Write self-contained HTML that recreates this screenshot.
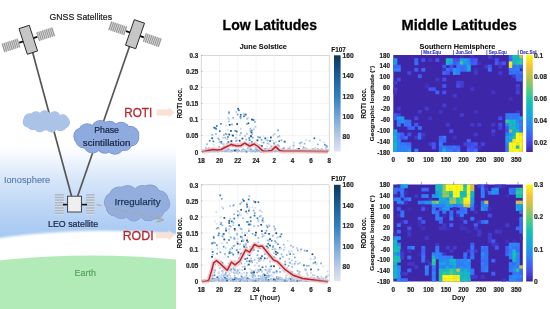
<!DOCTYPE html><html><head><meta charset="utf-8"><title>ROTI RODI</title><style>html,body{margin:0;padding:0;background:#fff;}#w{position:relative;width:550px;height:309px;overflow:hidden;background:#fff}</style></head><body><div id="w"><svg width="550" height="309" viewBox="0 0 550 309" style="position:absolute;left:0;top:0"><defs><style>.tk{font-family:"Liberation Sans",Arial,sans-serif;font-weight:bold;font-size:6.3px;fill:#262626;stroke:#262626;stroke-width:0.2px}.cb{font-size:6.7px}.yl{font-family:"Liberation Sans",Arial,sans-serif;font-weight:bold;font-size:6.5px;fill:#111;stroke:#111;stroke-width:0.1px}</style><linearGradient id="sky" gradientUnits="userSpaceOnUse" x1="0" y1="146" x2="0" y2="245"><stop offset="0" stop-color="#ffffff"/><stop offset="0.095" stop-color="#f5f9fe"/><stop offset="0.238" stop-color="#e3edfb"/><stop offset="0.381" stop-color="#d3e4f9"/><stop offset="0.571" stop-color="#c1d9f6"/><stop offset="0.762" stop-color="#b1cff4"/><stop offset="0.905" stop-color="#a8c9f2"/><stop offset="1" stop-color="#a5c7f1"/></linearGradient><filter id="bl2" x="-20%" y="-20%" width="140%" height="140%"><feGaussianBlur stdDeviation="2.5"/></filter><filter id="bl1" x="-10%" y="-10%" width="120%" height="120%"><feGaussianBlur stdDeviation="0.9"/></filter><clipPath id="lp"><rect x="0" y="0" width="176" height="309"/></clipPath></defs><g clip-path="url(#lp)"><rect x="0" y="140" width="176" height="110" fill="url(#sky)"/><circle cx="105" cy="1017.7" r="787" fill="#ffffff" filter="url(#bl1)"/><circle cx="92" cy="1105.5" r="850" fill="#b2eab8"/></g><line x1="32" y1="50" x2="71.5" y2="196" stroke="#575757" stroke-width="1.7"/><line x1="130" y1="45" x2="77.7" y2="196" stroke="#575757" stroke-width="1.7"/><g transform="translate(28.3,39.8) rotate(-18)"><rect x="-11" y="-0.9" width="22" height="1.8" fill="#111"/><rect x="-27" y="-4.5" width="17.5" height="9" fill="#e2e2e2"/><rect x="-26.61" y="-4.5" width="1.17" height="9" fill="#979797"/><rect x="-24.67" y="-4.5" width="1.17" height="9" fill="#979797"/><rect x="-22.72" y="-4.5" width="1.17" height="9" fill="#979797"/><rect x="-20.78" y="-4.5" width="1.17" height="9" fill="#979797"/><rect x="-18.83" y="-4.5" width="1.17" height="9" fill="#979797"/><rect x="-16.89" y="-4.5" width="1.17" height="9" fill="#979797"/><rect x="-14.94" y="-4.5" width="1.17" height="9" fill="#979797"/><rect x="-13.00" y="-4.5" width="1.17" height="9" fill="#979797"/><rect x="-11.06" y="-4.5" width="1.17" height="9" fill="#979797"/><rect x="9.5" y="-4.5" width="17.5" height="9" fill="#e2e2e2"/><rect x="9.89" y="-4.5" width="1.17" height="9" fill="#979797"/><rect x="11.83" y="-4.5" width="1.17" height="9" fill="#979797"/><rect x="13.78" y="-4.5" width="1.17" height="9" fill="#979797"/><rect x="15.72" y="-4.5" width="1.17" height="9" fill="#979797"/><rect x="17.67" y="-4.5" width="1.17" height="9" fill="#979797"/><rect x="19.61" y="-4.5" width="1.17" height="9" fill="#979797"/><rect x="21.56" y="-4.5" width="1.17" height="9" fill="#979797"/><rect x="23.50" y="-4.5" width="1.17" height="9" fill="#979797"/><rect x="25.44" y="-4.5" width="1.17" height="9" fill="#979797"/><rect x="-5.4" y="-13.5" width="10.8" height="27" fill="#c6c6c6" stroke="#2a2a2a" stroke-width="0.9"/></g><g transform="translate(135,34.2) rotate(19)"><rect x="-11" y="-0.9" width="22" height="1.8" fill="#111"/><rect x="-27" y="-4.5" width="17.5" height="9" fill="#e2e2e2"/><rect x="-26.61" y="-4.5" width="1.17" height="9" fill="#979797"/><rect x="-24.67" y="-4.5" width="1.17" height="9" fill="#979797"/><rect x="-22.72" y="-4.5" width="1.17" height="9" fill="#979797"/><rect x="-20.78" y="-4.5" width="1.17" height="9" fill="#979797"/><rect x="-18.83" y="-4.5" width="1.17" height="9" fill="#979797"/><rect x="-16.89" y="-4.5" width="1.17" height="9" fill="#979797"/><rect x="-14.94" y="-4.5" width="1.17" height="9" fill="#979797"/><rect x="-13.00" y="-4.5" width="1.17" height="9" fill="#979797"/><rect x="-11.06" y="-4.5" width="1.17" height="9" fill="#979797"/><rect x="9.5" y="-4.5" width="17.5" height="9" fill="#e2e2e2"/><rect x="9.89" y="-4.5" width="1.17" height="9" fill="#979797"/><rect x="11.83" y="-4.5" width="1.17" height="9" fill="#979797"/><rect x="13.78" y="-4.5" width="1.17" height="9" fill="#979797"/><rect x="15.72" y="-4.5" width="1.17" height="9" fill="#979797"/><rect x="17.67" y="-4.5" width="1.17" height="9" fill="#979797"/><rect x="19.61" y="-4.5" width="1.17" height="9" fill="#979797"/><rect x="21.56" y="-4.5" width="1.17" height="9" fill="#979797"/><rect x="23.50" y="-4.5" width="1.17" height="9" fill="#979797"/><rect x="25.44" y="-4.5" width="1.17" height="9" fill="#979797"/><rect x="-5.4" y="-13.5" width="10.8" height="27" fill="#c6c6c6" stroke="#2a2a2a" stroke-width="0.9"/></g><circle cx="63.6" cy="122.4" r="6.3" fill="#a5bde6"/><circle cx="60.4" cy="124.9" r="6.3" fill="#a5bde6"/><circle cx="51.7" cy="126.9" r="5.5" fill="#a5bde6"/><circle cx="39.7" cy="126.8" r="5.5" fill="#a5bde6"/><circle cx="32.5" cy="125.2" r="5.0" fill="#a5bde6"/><circle cx="28.4" cy="121.9" r="5.7" fill="#a5bde6"/><circle cx="29.7" cy="119.3" r="6.1" fill="#a5bde6"/><circle cx="35.9" cy="116.8" r="5.6" fill="#a5bde6"/><circle cx="44.7" cy="115.8" r="5.5" fill="#a5bde6"/><circle cx="54.7" cy="116.5" r="5.3" fill="#a5bde6"/><circle cx="62.7" cy="119.5" r="5.3" fill="#a5bde6"/><ellipse cx="46.1" cy="121.5" rx="18.0" ry="6.0" fill="#a5bde6"/><circle cx="63.6" cy="122.4" r="6.0" fill="#acc3e8"/><circle cx="60.4" cy="124.9" r="6.0" fill="#acc3e8"/><circle cx="51.7" cy="126.9" r="5.2" fill="#acc3e8"/><circle cx="39.7" cy="126.8" r="5.2" fill="#acc3e8"/><circle cx="32.5" cy="125.2" r="4.7" fill="#acc3e8"/><circle cx="28.4" cy="121.9" r="5.4" fill="#acc3e8"/><circle cx="29.7" cy="119.3" r="5.8" fill="#acc3e8"/><circle cx="35.9" cy="116.8" r="5.3" fill="#acc3e8"/><circle cx="44.7" cy="115.8" r="5.2" fill="#acc3e8"/><circle cx="54.7" cy="116.5" r="5.0" fill="#acc3e8"/><circle cx="62.7" cy="119.5" r="5.0" fill="#acc3e8"/><ellipse cx="46.1" cy="121.5" rx="20.9" ry="8.9" fill="#acc3e8"/><circle cx="130.8" cy="138.2" r="8.3" fill="#7391d0"/><circle cx="124.4" cy="143.2" r="7.9" fill="#7391d0"/><circle cx="114.9" cy="145.5" r="9.2" fill="#7391d0"/><circle cx="104.8" cy="146.0" r="7.8" fill="#7391d0"/><circle cx="92.5" cy="144.4" r="9.1" fill="#7391d0"/><circle cx="83.8" cy="140.4" r="8.0" fill="#7391d0"/><circle cx="82.5" cy="136.3" r="9.1" fill="#7391d0"/><circle cx="87.3" cy="132.2" r="9.0" fill="#7391d0"/><circle cx="100.3" cy="129.1" r="9.1" fill="#7391d0"/><circle cx="109.6" cy="128.9" r="8.1" fill="#7391d0"/><circle cx="121.1" cy="130.5" r="8.8" fill="#7391d0"/><circle cx="130.0" cy="135.0" r="9.3" fill="#7391d0"/><ellipse cx="106.6" cy="137.4" rx="25.0" ry="9.3" fill="#7391d0"/><circle cx="130.8" cy="138.2" r="7.6" fill="#8eaadf"/><circle cx="124.4" cy="143.2" r="7.2" fill="#8eaadf"/><circle cx="114.9" cy="145.5" r="8.5" fill="#8eaadf"/><circle cx="104.8" cy="146.0" r="7.1" fill="#8eaadf"/><circle cx="92.5" cy="144.4" r="8.4" fill="#8eaadf"/><circle cx="83.8" cy="140.4" r="7.3" fill="#8eaadf"/><circle cx="82.5" cy="136.3" r="8.4" fill="#8eaadf"/><circle cx="87.3" cy="132.2" r="8.3" fill="#8eaadf"/><circle cx="100.3" cy="129.1" r="8.4" fill="#8eaadf"/><circle cx="109.6" cy="128.9" r="7.4" fill="#8eaadf"/><circle cx="121.1" cy="130.5" r="8.1" fill="#8eaadf"/><circle cx="130.0" cy="135.0" r="8.6" fill="#8eaadf"/><ellipse cx="106.6" cy="137.4" rx="29.1" ry="13.3" fill="#8eaadf"/><circle cx="161.4" cy="203.8" r="8.9" fill="#7e9bd2"/><circle cx="155.0" cy="209.7" r="9.7" fill="#7e9bd2"/><circle cx="148.3" cy="211.8" r="9.3" fill="#7e9bd2"/><circle cx="133.9" cy="212.7" r="8.7" fill="#7e9bd2"/><circle cx="121.4" cy="210.4" r="8.6" fill="#7e9bd2"/><circle cx="115.3" cy="207.0" r="9.5" fill="#7e9bd2"/><circle cx="113.6" cy="202.0" r="9.7" fill="#7e9bd2"/><circle cx="119.5" cy="197.0" r="10.6" fill="#7e9bd2"/><circle cx="127.5" cy="194.7" r="9.8" fill="#7e9bd2"/><circle cx="142.1" cy="194.0" r="9.0" fill="#7e9bd2"/><circle cx="150.0" cy="195.2" r="10.6" fill="#7e9bd2"/><circle cx="159.3" cy="199.4" r="9.1" fill="#7e9bd2"/><ellipse cx="137.4" cy="203.3" rx="24.6" ry="10.1" fill="#7e9bd2"/><circle cx="161.4" cy="203.8" r="8.3" fill="#93aedd"/><circle cx="155.0" cy="209.7" r="9.1" fill="#93aedd"/><circle cx="148.3" cy="211.8" r="8.7" fill="#93aedd"/><circle cx="133.9" cy="212.7" r="8.1" fill="#93aedd"/><circle cx="121.4" cy="210.4" r="8.0" fill="#93aedd"/><circle cx="115.3" cy="207.0" r="8.9" fill="#93aedd"/><circle cx="113.6" cy="202.0" r="9.1" fill="#93aedd"/><circle cx="119.5" cy="197.0" r="10.0" fill="#93aedd"/><circle cx="127.5" cy="194.7" r="9.2" fill="#93aedd"/><circle cx="142.1" cy="194.0" r="8.4" fill="#93aedd"/><circle cx="150.0" cy="195.2" r="10.0" fill="#93aedd"/><circle cx="159.3" cy="199.4" r="8.5" fill="#93aedd"/><ellipse cx="137.4" cy="203.3" rx="29.2" ry="14.7" fill="#93aedd"/><rect x="54.9" y="193.7" width="9" height="21" fill="#d5dfec"/><rect x="54.9" y="194.09" width="9" height="1.44" fill="#aab6c4"/><rect x="54.9" y="196.72" width="9" height="1.44" fill="#aab6c4"/><rect x="54.9" y="199.34" width="9" height="1.44" fill="#aab6c4"/><rect x="54.9" y="201.97" width="9" height="1.44" fill="#aab6c4"/><rect x="54.9" y="204.59" width="9" height="1.44" fill="#aab6c4"/><rect x="54.9" y="207.22" width="9" height="1.44" fill="#aab6c4"/><rect x="54.9" y="209.84" width="9" height="1.44" fill="#aab6c4"/><rect x="54.9" y="212.47" width="9" height="1.44" fill="#aab6c4"/><rect x="86" y="193.7" width="8.6" height="21" fill="#d5dfec"/><rect x="86" y="194.09" width="8.6" height="1.44" fill="#aab6c4"/><rect x="86" y="196.72" width="8.6" height="1.44" fill="#aab6c4"/><rect x="86" y="199.34" width="8.6" height="1.44" fill="#aab6c4"/><rect x="86" y="201.97" width="8.6" height="1.44" fill="#aab6c4"/><rect x="86" y="204.59" width="8.6" height="1.44" fill="#aab6c4"/><rect x="86" y="207.22" width="8.6" height="1.44" fill="#aab6c4"/><rect x="86" y="209.84" width="8.6" height="1.44" fill="#aab6c4"/><rect x="86" y="212.47" width="8.6" height="1.44" fill="#aab6c4"/><rect x="63" y="203.8" width="24" height="1.6" fill="#111"/><rect x="67.6" y="196.2" width="13.8" height="15.8" fill="#efefef" stroke="#333" stroke-width="0.9"/><line x1="96.5" y1="204.6" x2="160" y2="219.3" stroke="#aaa69e" stroke-opacity="0.75" stroke-width="1.4" stroke-dasharray="5,4"/><path d="M157,216 L163,220 L156.5,221.8" fill="none" stroke="#a9a49c" stroke-width="1.4"/><path d="M156.5,109.5 L168.7,109.5 L168.7,107.3 L174.7,112.5 L168.7,117.7 L168.7,115.5 L156.5,115.5 Z" fill="#f8e2d3"/><path d="M155.8,232.3 L168.5,232.3 L168.5,230.10000000000002 L174.5,235.3 L168.5,240.5 L168.5,238.3 L155.8,238.3 Z" fill="#f8e2d3"/><text x="49.5" y="20" font-family="'Liberation Sans', Arial, sans-serif" font-size="8.5" fill="#222" stroke="#222" stroke-width="0.2" textLength="62.5" lengthAdjust="spacingAndGlyphs">GNSS Satellites</text><text x="124.2" y="116.8" font-family="'Liberation Sans', Arial, sans-serif" font-size="13.6" fill="#b8262d" stroke="#b8262d" stroke-width="0.3" textLength="28" lengthAdjust="spacingAndGlyphs">ROTI</text><text x="122.7" y="239.5" font-family="'Liberation Sans', Arial, sans-serif" font-size="13.3" fill="#b8262d" stroke="#b8262d" stroke-width="0.3" textLength="30.9" lengthAdjust="spacingAndGlyphs">RODI</text><text x="106.6" y="133.1" font-family="'Liberation Sans', Arial, sans-serif" font-size="9" fill="#16233f" stroke="#16233f" stroke-width="0.2" text-anchor="middle" textLength="24.8" lengthAdjust="spacingAndGlyphs">Phase</text><text x="106.6" y="145.6" font-family="'Liberation Sans', Arial, sans-serif" font-size="9" fill="#16233f" stroke="#16233f" stroke-width="0.2" text-anchor="middle" textLength="47.6" lengthAdjust="spacingAndGlyphs">scintillation</text><text x="137.6" y="204.5" font-family="'Liberation Sans', Arial, sans-serif" font-size="9.6" fill="#1d3557" stroke="#1d3557" stroke-width="0.25" text-anchor="middle" textLength="46" lengthAdjust="spacingAndGlyphs">Irregularity</text><text x="73.1" y="226.9" font-family="'Liberation Sans', Arial, sans-serif" font-size="9" fill="#1b2340" stroke="#1b2340" stroke-width="0.2" text-anchor="middle" textLength="50.2" lengthAdjust="spacingAndGlyphs">LEO satellite</text><text x="3.9" y="183" font-family="'Liberation Sans', Arial, sans-serif" font-size="9" fill="#5a7db5" stroke="#5a7db5" stroke-width="0.15" textLength="46.4" lengthAdjust="spacingAndGlyphs">Ionosphere</text><text x="85.2" y="275.5" font-family="'Liberation Sans', Arial, sans-serif" font-size="9.3" fill="#52a058" stroke="#52a058" stroke-width="0.15" text-anchor="middle" textLength="21.3" lengthAdjust="spacingAndGlyphs">Earth</text><text x="269.8" y="30.2" font-family="'Liberation Sans', Arial, sans-serif" font-size="15" font-weight="bold" fill="#000" stroke="#000" stroke-width="0.3" text-anchor="middle" textLength="94.4" lengthAdjust="spacingAndGlyphs">Low Latitudes</text><text x="459.2" y="30.3" font-family="'Liberation Sans', Arial, sans-serif" font-size="15" font-weight="bold" fill="#000" stroke="#000" stroke-width="0.3" text-anchor="middle" textLength="115.2" lengthAdjust="spacingAndGlyphs">Middle Latitudes</text><defs><linearGradient id="blues" x1="0" y1="1" x2="0" y2="0"><stop offset="0" stop-color="#dfe4f1"/><stop offset="0.15" stop-color="#b9cce9"/><stop offset="0.36" stop-color="#78a6d8"/><stop offset="0.57" stop-color="#3080c0"/><stop offset="0.79" stop-color="#1a5e96"/><stop offset="1" stop-color="#0c365e"/></linearGradient><linearGradient id="parula" x1="0" y1="1" x2="0" y2="0"><stop offset="0.0000" stop-color="#3e26a8"/><stop offset="0.1270" stop-color="#4751f4"/><stop offset="0.2540" stop-color="#2e82fa"/><stop offset="0.3810" stop-color="#19a6e2"/><stop offset="0.5079" stop-color="#15bfb7"/><stop offset="0.6349" stop-color="#52cd83"/><stop offset="0.7619" stop-color="#b5c350"/><stop offset="0.8889" stop-color="#fec138"/><stop offset="1.0000" stop-color="#f9fb14"/></linearGradient></defs><rect x="201.2" y="55.3" width="128.0" height="96.3" fill="#fff"/><line x1="201.2" y1="71.35" x2="329.2" y2="71.35" stroke="#ebebeb" stroke-width="0.5"/><line x1="201.2" y1="87.40" x2="329.2" y2="87.40" stroke="#ebebeb" stroke-width="0.5"/><line x1="201.2" y1="103.45" x2="329.2" y2="103.45" stroke="#ebebeb" stroke-width="0.5"/><line x1="201.2" y1="119.50" x2="329.2" y2="119.50" stroke="#ebebeb" stroke-width="0.5"/><line x1="201.2" y1="135.55" x2="329.2" y2="135.55" stroke="#ebebeb" stroke-width="0.5"/><line x1="219.49" y1="55.3" x2="219.49" y2="151.6" stroke="#ebebeb" stroke-width="0.5"/><line x1="237.77" y1="55.3" x2="237.77" y2="151.6" stroke="#ebebeb" stroke-width="0.5"/><line x1="256.06" y1="55.3" x2="256.06" y2="151.6" stroke="#ebebeb" stroke-width="0.5"/><line x1="274.34" y1="55.3" x2="274.34" y2="151.6" stroke="#ebebeb" stroke-width="0.5"/><line x1="292.63" y1="55.3" x2="292.63" y2="151.6" stroke="#ebebeb" stroke-width="0.5"/><line x1="310.91" y1="55.3" x2="310.91" y2="151.6" stroke="#ebebeb" stroke-width="0.5"/><rect x="281.2" y="150.4" width="1.7" height="1.7" fill="#84addb"/><rect x="231.8" y="150.2" width="1.7" height="1.7" fill="#77a6d8"/><rect x="204.7" y="149.0" width="1.7" height="1.7" fill="#81abda"/><rect x="261.8" y="150.1" width="1.7" height="1.7" fill="#c2d2eb"/><rect x="235.5" y="149.6" width="1.7" height="1.7" fill="#a7c1e4"/><rect x="272.3" y="149.0" width="1.7" height="1.7" fill="#82acdb"/><rect x="280.8" y="149.1" width="1.7" height="1.7" fill="#c8d6ec"/><rect x="223.8" y="149.1" width="1.7" height="1.7" fill="#dae1f0"/><rect x="208.4" y="150.5" width="1.7" height="1.7" fill="#acc4e5"/><rect x="317.2" y="150.7" width="1.7" height="1.7" fill="#a5c1e4"/><rect x="265.3" y="150.1" width="1.7" height="1.7" fill="#cbd7ed"/><rect x="289.4" y="149.4" width="1.7" height="1.7" fill="#b8cbe9"/><rect x="204.5" y="149.6" width="1.7" height="1.7" fill="#cfdaee"/><rect x="237.0" y="150.6" width="1.7" height="1.7" fill="#a6c1e4"/><rect x="308.6" y="150.7" width="1.7" height="1.7" fill="#88afdc"/><rect x="215.3" y="149.6" width="1.7" height="1.7" fill="#a6c1e4"/><rect x="311.6" y="148.2" width="1.7" height="1.7" fill="#9bbae1"/><rect x="211.3" y="150.7" width="1.7" height="1.7" fill="#bdcfea"/><rect x="222.5" y="149.9" width="1.7" height="1.7" fill="#b7cbe8"/><rect x="324.8" y="148.9" width="1.7" height="1.7" fill="#9abae1"/><rect x="282.8" y="150.2" width="1.7" height="1.7" fill="#cfdaee"/><rect x="258.4" y="150.0" width="1.7" height="1.7" fill="#b4c9e8"/><rect x="215.9" y="149.3" width="1.7" height="1.7" fill="#c8d6ec"/><rect x="286.9" y="149.9" width="1.7" height="1.7" fill="#77a6d8"/><rect x="285.7" y="150.6" width="1.7" height="1.7" fill="#7ba8d9"/><rect x="320.6" y="150.3" width="1.7" height="1.7" fill="#9ebce2"/><rect x="222.0" y="148.8" width="1.7" height="1.7" fill="#6fa1d5"/><rect x="272.2" y="150.3" width="1.7" height="1.7" fill="#76a5d7"/><rect x="283.2" y="149.3" width="1.7" height="1.7" fill="#b7cbe9"/><rect x="254.7" y="149.3" width="1.7" height="1.7" fill="#dbe1f0"/><rect x="312.2" y="149.9" width="1.7" height="1.7" fill="#a1bee3"/><rect x="243.8" y="150.7" width="1.7" height="1.7" fill="#dce2f0"/><rect x="249.9" y="150.3" width="1.7" height="1.7" fill="#d2dcee"/><rect x="323.4" y="150.4" width="1.7" height="1.7" fill="#b0c7e7"/><rect x="268.7" y="147.9" width="1.7" height="1.7" fill="#bbcde9"/><rect x="276.9" y="150.5" width="1.7" height="1.7" fill="#bacce9"/><rect x="268.1" y="150.5" width="1.7" height="1.7" fill="#72a3d6"/><rect x="222.7" y="149.4" width="1.7" height="1.7" fill="#dee4f1"/><rect x="296.9" y="149.4" width="1.7" height="1.7" fill="#d1dbee"/><rect x="255.7" y="149.5" width="1.7" height="1.7" fill="#dee3f1"/><rect x="281.6" y="150.0" width="1.7" height="1.7" fill="#a6c1e4"/><rect x="293.6" y="149.3" width="1.7" height="1.7" fill="#cad7ed"/><rect x="248.8" y="149.7" width="1.7" height="1.7" fill="#bbcde9"/><rect x="321.0" y="149.7" width="1.7" height="1.7" fill="#bbcde9"/><rect x="237.5" y="148.8" width="1.7" height="1.7" fill="#aec6e6"/><rect x="325.0" y="150.7" width="1.7" height="1.7" fill="#a5c0e4"/><rect x="314.7" y="149.5" width="1.7" height="1.7" fill="#9dbce2"/><rect x="256.7" y="150.7" width="1.7" height="1.7" fill="#b3c8e7"/><rect x="317.9" y="149.1" width="1.7" height="1.7" fill="#b0c7e7"/><rect x="268.1" y="149.5" width="1.7" height="1.7" fill="#c5d3eb"/><rect x="303.5" y="150.3" width="1.7" height="1.7" fill="#8bb1dd"/><rect x="281.7" y="148.9" width="1.7" height="1.7" fill="#bcceea"/><rect x="253.2" y="149.0" width="1.7" height="1.7" fill="#dae1f0"/><rect x="230.3" y="149.9" width="1.7" height="1.7" fill="#7ca8d9"/><rect x="217.9" y="149.8" width="1.7" height="1.7" fill="#aac3e5"/><rect x="277.4" y="150.5" width="1.7" height="1.7" fill="#bfd0ea"/><rect x="322.7" y="149.8" width="1.7" height="1.7" fill="#97b8e0"/><rect x="282.4" y="149.8" width="1.7" height="1.7" fill="#d8e0f0"/><rect x="254.8" y="150.6" width="1.7" height="1.7" fill="#7faada"/><rect x="294.1" y="149.0" width="1.7" height="1.7" fill="#72a3d6"/><rect x="303.0" y="150.7" width="1.7" height="1.7" fill="#a4c0e4"/><rect x="317.0" y="149.9" width="1.7" height="1.7" fill="#dce2f0"/><rect x="206.5" y="150.7" width="1.7" height="1.7" fill="#c5d3eb"/><rect x="227.2" y="150.3" width="1.7" height="1.7" fill="#dbe1f0"/><rect x="276.9" y="149.5" width="1.7" height="1.7" fill="#90b4de"/><rect x="206.6" y="150.1" width="1.7" height="1.7" fill="#6ea1d5"/><rect x="270.5" y="149.6" width="1.7" height="1.7" fill="#93b6df"/><rect x="279.4" y="149.1" width="1.7" height="1.7" fill="#9ebce2"/><rect x="208.9" y="149.6" width="1.7" height="1.7" fill="#6b9fd4"/><rect x="309.4" y="149.3" width="1.7" height="1.7" fill="#bbceea"/><rect x="243.3" y="149.4" width="1.7" height="1.7" fill="#97b8e0"/><rect x="302.4" y="148.6" width="1.7" height="1.7" fill="#79a6d8"/><rect x="302.4" y="150.7" width="1.7" height="1.7" fill="#85aedb"/><rect x="312.9" y="149.6" width="1.7" height="1.7" fill="#9ebce2"/><rect x="282.8" y="149.5" width="1.7" height="1.7" fill="#d5deef"/><rect x="285.6" y="150.7" width="1.7" height="1.7" fill="#7ea9d9"/><rect x="303.2" y="149.9" width="1.7" height="1.7" fill="#8bb1dd"/><rect x="311.1" y="150.5" width="1.7" height="1.7" fill="#ced9ed"/><rect x="207.3" y="150.3" width="1.7" height="1.7" fill="#c8d6ec"/><rect x="273.6" y="149.6" width="1.7" height="1.7" fill="#b7cbe8"/><rect x="235.2" y="148.9" width="1.7" height="1.7" fill="#93b6df"/><rect x="216.5" y="150.6" width="1.7" height="1.7" fill="#d1dbee"/><rect x="285.8" y="149.3" width="1.7" height="1.7" fill="#b7cbe8"/><rect x="249.9" y="149.9" width="1.7" height="1.7" fill="#c8d6ec"/><rect x="234.5" y="149.9" width="1.7" height="1.7" fill="#adc5e6"/><rect x="214.1" y="150.7" width="1.7" height="1.7" fill="#9dbce2"/><rect x="241.0" y="149.3" width="1.7" height="1.7" fill="#85aedc"/><rect x="220.2" y="150.7" width="1.7" height="1.7" fill="#d1dbee"/><rect x="214.0" y="150.0" width="1.7" height="1.7" fill="#c3d2eb"/><rect x="241.8" y="150.1" width="1.7" height="1.7" fill="#98b9e0"/><rect x="227.1" y="149.1" width="1.7" height="1.7" fill="#76a5d7"/><rect x="250.3" y="149.0" width="1.7" height="1.7" fill="#d5deef"/><rect x="293.8" y="150.2" width="1.7" height="1.7" fill="#7da9d9"/><rect x="287.2" y="147.4" width="1.7" height="1.7" fill="#d8e0f0"/><rect x="268.0" y="150.6" width="1.7" height="1.7" fill="#cbd7ed"/><rect x="236.9" y="150.5" width="1.7" height="1.7" fill="#87afdc"/><rect x="314.7" y="150.7" width="1.7" height="1.7" fill="#ccd8ed"/><rect x="302.7" y="150.2" width="1.7" height="1.7" fill="#8bb1dd"/><rect x="327.0" y="149.5" width="1.7" height="1.7" fill="#7ba8d9"/><rect x="299.9" y="150.6" width="1.7" height="1.7" fill="#95b7e0"/><rect x="226.8" y="150.5" width="1.7" height="1.7" fill="#86aedc"/><rect x="293.0" y="150.0" width="1.7" height="1.7" fill="#b7cbe8"/><rect x="255.8" y="149.9" width="1.7" height="1.7" fill="#7ba8d9"/><rect x="271.0" y="150.7" width="1.7" height="1.7" fill="#a1bee3"/><rect x="293.1" y="150.7" width="1.7" height="1.7" fill="#7da9d9"/><rect x="317.5" y="150.5" width="1.7" height="1.7" fill="#d1dbee"/><rect x="297.9" y="148.7" width="1.7" height="1.7" fill="#cfdaee"/><rect x="292.0" y="149.6" width="1.7" height="1.7" fill="#70a2d5"/><rect x="219.2" y="149.0" width="1.7" height="1.7" fill="#679dd2"/><rect x="218.4" y="150.0" width="1.7" height="1.7" fill="#9ebce2"/><rect x="259.1" y="150.7" width="1.7" height="1.7" fill="#cbd7ed"/><rect x="316.9" y="148.2" width="1.7" height="1.7" fill="#85addb"/><rect x="212.4" y="149.4" width="1.7" height="1.7" fill="#dce2f0"/><rect x="242.7" y="149.3" width="1.7" height="1.7" fill="#8bb1dd"/><rect x="260.2" y="149.4" width="1.7" height="1.7" fill="#669cd2"/><rect x="313.7" y="150.0" width="1.7" height="1.7" fill="#c5d4ec"/><rect x="252.7" y="150.0" width="1.7" height="1.7" fill="#d2dcee"/><rect x="208.1" y="150.7" width="1.7" height="1.7" fill="#d2dcee"/><rect x="225.8" y="149.5" width="1.7" height="1.7" fill="#a9c3e5"/><rect x="226.7" y="150.4" width="1.7" height="1.7" fill="#c3d2eb"/><rect x="269.0" y="150.4" width="1.7" height="1.7" fill="#a5c0e4"/><rect x="281.6" y="150.5" width="1.7" height="1.7" fill="#b5c9e8"/><rect x="301.6" y="148.3" width="1.7" height="1.7" fill="#ccd8ed"/><rect x="220.8" y="148.6" width="1.7" height="1.7" fill="#689ed3"/><rect x="320.2" y="148.9" width="1.7" height="1.7" fill="#699ed3"/><rect x="229.7" y="150.6" width="1.7" height="1.7" fill="#a8c2e4"/><rect x="316.9" y="149.9" width="1.7" height="1.7" fill="#becfea"/><rect x="278.1" y="150.5" width="1.7" height="1.7" fill="#c6d4ec"/><rect x="261.4" y="150.7" width="1.7" height="1.7" fill="#86aedc"/><rect x="306.3" y="150.6" width="1.7" height="1.7" fill="#8db2dd"/><rect x="308.9" y="149.4" width="1.7" height="1.7" fill="#89b0dc"/><rect x="241.2" y="150.1" width="1.7" height="1.7" fill="#86aedc"/><rect x="224.5" y="150.3" width="1.7" height="1.7" fill="#9bbae1"/><rect x="244.7" y="149.7" width="1.7" height="1.7" fill="#cfdaee"/><rect x="267.5" y="149.5" width="1.7" height="1.7" fill="#6a9fd3"/><rect x="275.0" y="150.5" width="1.7" height="1.7" fill="#c1d1eb"/><rect x="303.0" y="149.4" width="1.7" height="1.7" fill="#95b7e0"/><rect x="321.3" y="149.6" width="1.7" height="1.7" fill="#b2c8e7"/><rect x="289.4" y="148.3" width="1.7" height="1.7" fill="#bcceea"/><rect x="286.7" y="149.0" width="1.7" height="1.7" fill="#a1bee3"/><rect x="298.9" y="149.3" width="1.7" height="1.7" fill="#8ab0dd"/><rect x="205.9" y="148.7" width="1.7" height="1.7" fill="#abc4e5"/><rect x="254.5" y="148.6" width="1.7" height="1.7" fill="#a4c0e4"/><rect x="294.2" y="149.1" width="1.7" height="1.7" fill="#9fbde2"/><rect x="272.9" y="149.4" width="1.7" height="1.7" fill="#dbe1f0"/><rect x="259.9" y="150.7" width="1.7" height="1.7" fill="#a1bee3"/><rect x="213.2" y="150.4" width="1.7" height="1.7" fill="#c8d5ec"/><rect x="228.1" y="150.7" width="1.7" height="1.7" fill="#cad7ed"/><rect x="260.1" y="150.7" width="1.7" height="1.7" fill="#8db2dd"/><rect x="272.3" y="149.7" width="1.7" height="1.7" fill="#acc4e5"/><rect x="280.6" y="149.7" width="1.7" height="1.7" fill="#90b4de"/><rect x="283.2" y="149.8" width="1.7" height="1.7" fill="#a0bde2"/><rect x="252.9" y="150.0" width="1.7" height="1.7" fill="#b7cbe8"/><rect x="261.6" y="150.6" width="1.7" height="1.7" fill="#a7c1e4"/><rect x="245.7" y="149.6" width="1.7" height="1.7" fill="#b7cbe8"/><rect x="308.3" y="149.9" width="1.7" height="1.7" fill="#aec6e6"/><rect x="292.0" y="150.7" width="1.7" height="1.7" fill="#79a7d8"/><rect x="275.5" y="149.4" width="1.7" height="1.7" fill="#92b5df"/><rect x="287.7" y="150.3" width="1.7" height="1.7" fill="#b1c8e7"/><rect x="226.7" y="150.0" width="1.7" height="1.7" fill="#c0d1eb"/><rect x="257.2" y="149.5" width="1.7" height="1.7" fill="#aec6e6"/><rect x="249.9" y="148.4" width="1.7" height="1.7" fill="#6da0d4"/><rect x="313.7" y="150.7" width="1.7" height="1.7" fill="#c3d2eb"/><rect x="313.2" y="148.3" width="1.7" height="1.7" fill="#8fb4de"/><rect x="213.1" y="149.5" width="1.7" height="1.7" fill="#cad7ed"/><rect x="255.9" y="149.7" width="1.7" height="1.7" fill="#7da9d9"/><rect x="262.5" y="150.3" width="1.7" height="1.7" fill="#adc5e6"/><rect x="250.1" y="150.1" width="1.7" height="1.7" fill="#cad7ed"/><rect x="243.1" y="149.4" width="1.7" height="1.7" fill="#84addb"/><rect x="211.0" y="149.5" width="1.7" height="1.7" fill="#7eaada"/><rect x="259.0" y="150.2" width="1.7" height="1.7" fill="#90b4de"/><rect x="234.4" y="150.2" width="1.7" height="1.7" fill="#b7cbe8"/><rect x="282.7" y="150.6" width="1.7" height="1.7" fill="#aac3e5"/><rect x="268.8" y="150.7" width="1.7" height="1.7" fill="#cad7ed"/><rect x="322.8" y="150.6" width="1.7" height="1.7" fill="#bfd0ea"/><rect x="235.6" y="150.0" width="1.7" height="1.7" fill="#b1c7e7"/><rect x="299.3" y="149.4" width="1.7" height="1.7" fill="#cad7ed"/><rect x="220.9" y="150.4" width="1.7" height="1.7" fill="#85addb"/><rect x="264.2" y="149.5" width="1.7" height="1.7" fill="#93b6df"/><rect x="280.6" y="150.4" width="1.7" height="1.7" fill="#87afdc"/><rect x="246.4" y="150.7" width="1.7" height="1.7" fill="#afc6e6"/><rect x="264.4" y="150.4" width="1.7" height="1.7" fill="#afc6e6"/><rect x="283.0" y="150.6" width="1.7" height="1.7" fill="#d0dbee"/><rect x="225.4" y="150.3" width="1.7" height="1.7" fill="#6b9fd4"/><rect x="207.2" y="150.0" width="1.7" height="1.7" fill="#ced9ed"/><rect x="262.6" y="150.4" width="1.7" height="1.7" fill="#adc5e6"/><rect x="224.1" y="150.6" width="1.7" height="1.7" fill="#82acdb"/><rect x="226.7" y="148.6" width="1.7" height="1.7" fill="#b3c9e7"/><rect x="255.6" y="150.4" width="1.7" height="1.7" fill="#ced9ed"/><rect x="318.0" y="150.4" width="1.7" height="1.7" fill="#92b5df"/><rect x="210.1" y="150.5" width="1.7" height="1.7" fill="#9abae1"/><rect x="299.3" y="149.2" width="1.7" height="1.7" fill="#6ca0d4"/><rect x="313.4" y="148.7" width="1.7" height="1.7" fill="#becfea"/><rect x="208.0" y="147.5" width="1.7" height="1.7" fill="#71a2d6"/><rect x="326.2" y="149.1" width="1.7" height="1.7" fill="#92b5df"/><rect x="287.7" y="150.3" width="1.7" height="1.7" fill="#6ca0d4"/><rect x="279.0" y="148.7" width="1.7" height="1.7" fill="#a6c1e4"/><rect x="206.3" y="149.1" width="1.7" height="1.7" fill="#8eb3de"/><rect x="256.0" y="150.2" width="1.7" height="1.7" fill="#86aedc"/><rect x="245.6" y="149.8" width="1.7" height="1.7" fill="#d1dbee"/><rect x="226.8" y="150.0" width="1.7" height="1.7" fill="#aec6e6"/><rect x="318.5" y="150.4" width="1.7" height="1.7" fill="#74a4d7"/><rect x="288.0" y="148.6" width="1.7" height="1.7" fill="#b4c9e8"/><rect x="204.4" y="150.4" width="1.7" height="1.7" fill="#c5d4ec"/><rect x="221.6" y="150.0" width="1.7" height="1.7" fill="#8fb4de"/><rect x="230.2" y="150.3" width="1.7" height="1.7" fill="#6ea1d5"/><rect x="237.2" y="150.0" width="1.7" height="1.7" fill="#d1dbee"/><rect x="304.6" y="147.2" width="1.7" height="1.7" fill="#a5c0e4"/><rect x="208.4" y="149.9" width="1.7" height="1.7" fill="#7ba8d9"/><rect x="214.4" y="150.3" width="1.7" height="1.7" fill="#85aedb"/><rect x="279.1" y="150.1" width="1.7" height="1.7" fill="#97b8e0"/><rect x="260.1" y="148.2" width="1.7" height="1.7" fill="#c0d1eb"/><rect x="297.5" y="150.5" width="1.7" height="1.7" fill="#88b0dc"/><rect x="250.7" y="148.9" width="1.7" height="1.7" fill="#8eb3de"/><rect x="251.8" y="150.5" width="1.7" height="1.7" fill="#6a9fd3"/><rect x="292.1" y="148.8" width="1.7" height="1.7" fill="#8ab0dd"/><rect x="238.4" y="149.9" width="1.7" height="1.7" fill="#79a7d8"/><rect x="259.3" y="150.1" width="1.7" height="1.7" fill="#bfd0ea"/><rect x="213.5" y="149.4" width="1.7" height="1.7" fill="#c3d2eb"/><rect x="225.4" y="149.6" width="1.7" height="1.7" fill="#acc4e5"/><rect x="230.5" y="149.8" width="1.7" height="1.7" fill="#70a2d5"/><rect x="237.7" y="149.6" width="1.7" height="1.7" fill="#a6c1e4"/><rect x="213.3" y="149.6" width="1.7" height="1.7" fill="#80abda"/><rect x="212.2" y="149.2" width="1.7" height="1.7" fill="#78a6d8"/><rect x="311.0" y="150.7" width="1.7" height="1.7" fill="#a4c0e4"/><rect x="249.6" y="150.6" width="1.7" height="1.7" fill="#d7dfef"/><rect x="236.7" y="150.2" width="1.7" height="1.7" fill="#abc4e5"/><rect x="259.9" y="148.9" width="1.7" height="1.7" fill="#bdcfea"/><rect x="209.2" y="150.6" width="1.7" height="1.7" fill="#cfdaee"/><rect x="214.1" y="150.3" width="1.7" height="1.7" fill="#6ca0d4"/><rect x="275.5" y="150.3" width="1.7" height="1.7" fill="#bdcfea"/><rect x="274.5" y="150.7" width="1.7" height="1.7" fill="#9cbbe1"/><rect x="303.1" y="150.5" width="1.7" height="1.7" fill="#cad7ed"/><rect x="275.9" y="149.4" width="1.7" height="1.7" fill="#ced9ed"/><rect x="280.4" y="149.5" width="1.7" height="1.7" fill="#d1dbee"/><rect x="271.3" y="148.1" width="1.7" height="1.7" fill="#b4c9e8"/><rect x="237.3" y="149.2" width="1.7" height="1.7" fill="#a2bee3"/><rect x="288.8" y="150.1" width="1.7" height="1.7" fill="#d4ddef"/><rect x="305.0" y="150.0" width="1.7" height="1.7" fill="#d4ddef"/><rect x="234.8" y="149.8" width="1.7" height="1.7" fill="#7aa7d9"/><rect x="316.4" y="150.2" width="1.7" height="1.7" fill="#bcceea"/><rect x="227.8" y="148.6" width="1.7" height="1.7" fill="#70a2d5"/><rect x="212.7" y="150.3" width="1.7" height="1.7" fill="#a9c3e5"/><rect x="268.7" y="147.8" width="1.7" height="1.7" fill="#afc6e6"/><rect x="221.4" y="149.3" width="1.7" height="1.7" fill="#689dd3"/><rect x="296.7" y="148.4" width="1.7" height="1.7" fill="#80aada"/><rect x="242.4" y="150.1" width="1.7" height="1.7" fill="#dee3f1"/><rect x="311.5" y="150.3" width="1.7" height="1.7" fill="#adc5e6"/><rect x="285.7" y="150.6" width="1.7" height="1.7" fill="#ced9ed"/><rect x="221.2" y="150.1" width="1.7" height="1.7" fill="#d9e1f0"/><rect x="230.7" y="150.7" width="1.7" height="1.7" fill="#acc4e6"/><rect x="248.0" y="149.1" width="1.7" height="1.7" fill="#c1d1eb"/><rect x="208.2" y="148.9" width="1.7" height="1.7" fill="#86aedc"/><rect x="235.6" y="150.4" width="1.7" height="1.7" fill="#86aedc"/><rect x="254.2" y="150.6" width="1.7" height="1.7" fill="#71a2d6"/><rect x="242.3" y="147.8" width="1.7" height="1.7" fill="#c4d3eb"/><rect x="221.2" y="150.1" width="1.7" height="1.7" fill="#9abae1"/><rect x="319.5" y="150.5" width="1.7" height="1.7" fill="#8cb2dd"/><rect x="262.7" y="150.6" width="1.7" height="1.7" fill="#699ed3"/><rect x="289.9" y="150.6" width="1.7" height="1.7" fill="#73a3d6"/><rect x="216.7" y="148.2" width="1.7" height="1.7" fill="#bcceea"/><rect x="319.8" y="149.9" width="1.7" height="1.7" fill="#71a2d6"/><rect x="279.5" y="148.7" width="1.7" height="1.7" fill="#9ebce2"/><rect x="260.6" y="149.9" width="1.7" height="1.7" fill="#89b0dc"/><rect x="287.8" y="148.1" width="1.7" height="1.7" fill="#cfdaee"/><rect x="304.3" y="149.9" width="1.7" height="1.7" fill="#83acdb"/><rect x="314.1" y="148.7" width="1.7" height="1.7" fill="#c3d2eb"/><rect x="259.9" y="149.8" width="1.7" height="1.7" fill="#6da0d4"/><rect x="250.0" y="150.2" width="1.7" height="1.7" fill="#b3c9e8"/><rect x="250.3" y="150.7" width="1.7" height="1.7" fill="#abc4e5"/><rect x="259.3" y="150.6" width="1.7" height="1.7" fill="#b0c7e7"/><rect x="221.3" y="149.9" width="1.7" height="1.7" fill="#87afdc"/><rect x="273.7" y="150.2" width="1.7" height="1.7" fill="#80abda"/><rect x="232.4" y="148.9" width="1.7" height="1.7" fill="#c2d2eb"/><rect x="241.5" y="150.5" width="1.7" height="1.7" fill="#b7cbe9"/><rect x="243.9" y="150.6" width="1.7" height="1.7" fill="#cbd8ed"/><rect x="217.1" y="150.4" width="1.7" height="1.7" fill="#86aedc"/><rect x="240.6" y="150.6" width="1.7" height="1.7" fill="#dbe2f0"/><rect x="253.9" y="149.8" width="1.7" height="1.7" fill="#c4d3eb"/><rect x="247.0" y="147.4" width="1.7" height="1.7" fill="#9cbbe1"/><rect x="223.0" y="149.7" width="1.7" height="1.7" fill="#d7dfef"/><rect x="323.7" y="150.1" width="1.7" height="1.7" fill="#c4d3eb"/><rect x="228.7" y="149.5" width="1.7" height="1.7" fill="#c1d1eb"/><rect x="278.7" y="148.9" width="1.7" height="1.7" fill="#6ca0d4"/><rect x="209.2" y="150.5" width="1.7" height="1.7" fill="#9abae1"/><rect x="290.7" y="149.7" width="1.7" height="1.7" fill="#bdceea"/><rect x="204.5" y="149.6" width="1.7" height="1.7" fill="#a1bee3"/><rect x="213.4" y="149.2" width="1.7" height="1.7" fill="#bcceea"/><rect x="212.7" y="150.5" width="1.7" height="1.7" fill="#70a2d5"/><rect x="257.7" y="149.5" width="1.7" height="1.7" fill="#8cb2dd"/><rect x="205.2" y="147.6" width="1.7" height="1.7" fill="#6b9fd4"/><rect x="314.8" y="150.6" width="1.7" height="1.7" fill="#d5deef"/><rect x="243.3" y="150.1" width="1.7" height="1.7" fill="#c8d5ec"/><rect x="207.1" y="150.7" width="1.7" height="1.7" fill="#96b8e0"/><rect x="216.4" y="150.3" width="1.7" height="1.7" fill="#73a3d6"/><rect x="245.4" y="149.6" width="1.7" height="1.7" fill="#d6deef"/><rect x="302.2" y="150.4" width="1.7" height="1.7" fill="#a1bee3"/><rect x="280.3" y="149.6" width="1.7" height="1.7" fill="#c4d3eb"/><rect x="276.0" y="149.8" width="1.7" height="1.7" fill="#7eaada"/><rect x="283.1" y="150.4" width="1.7" height="1.7" fill="#dde3f1"/><rect x="313.8" y="149.3" width="1.7" height="1.7" fill="#9abae1"/><rect x="225.1" y="124.8" width="1.7" height="1.7" fill="#ccd8ed"/><rect x="241.8" y="150.6" width="1.7" height="1.7" fill="#cfdaee"/><rect x="242.5" y="112.7" width="1.7" height="1.7" fill="#c7d5ec"/><rect x="275.1" y="141.4" width="1.7" height="1.7" fill="#bdcfea"/><rect x="218.6" y="141.3" width="1.7" height="1.7" fill="#acc4e6"/><rect x="229.2" y="150.6" width="1.7" height="1.7" fill="#d0daee"/><rect x="270.1" y="144.5" width="1.7" height="1.7" fill="#dbe1f0"/><rect x="234.5" y="130.0" width="1.7" height="1.7" fill="#478cc8"/><rect x="239.9" y="146.0" width="1.7" height="1.7" fill="#8cb2dd"/><rect x="264.4" y="137.5" width="1.7" height="1.7" fill="#195c93"/><rect x="238.8" y="139.9" width="1.7" height="1.7" fill="#114472"/><rect x="270.5" y="145.8" width="1.7" height="1.7" fill="#97b8e0"/><rect x="280.6" y="139.5" width="1.7" height="1.7" fill="#8ab0dd"/><rect x="267.9" y="143.1" width="1.7" height="1.7" fill="#bfd0ea"/><rect x="317.8" y="150.7" width="1.7" height="1.7" fill="#bdceea"/><rect x="226.5" y="138.4" width="1.7" height="1.7" fill="#a8c2e4"/><rect x="252.7" y="119.2" width="1.7" height="1.7" fill="#2169a4"/><rect x="241.6" y="137.7" width="1.7" height="1.7" fill="#144d7f"/><rect x="286.7" y="149.8" width="1.7" height="1.7" fill="#dde3f1"/><rect x="240.5" y="150.5" width="1.7" height="1.7" fill="#a5c1e4"/><rect x="276.8" y="149.3" width="1.7" height="1.7" fill="#9bbae1"/><rect x="273.0" y="141.9" width="1.7" height="1.7" fill="#becfea"/><rect x="266.6" y="142.5" width="1.7" height="1.7" fill="#a2bee3"/><rect x="254.7" y="146.8" width="1.7" height="1.7" fill="#a3bfe3"/><rect x="261.4" y="145.2" width="1.7" height="1.7" fill="#c6d4ec"/><rect x="278.3" y="140.3" width="1.7" height="1.7" fill="#3784c2"/><rect x="226.2" y="142.8" width="1.7" height="1.7" fill="#99b9e1"/><rect x="273.9" y="145.0" width="1.7" height="1.7" fill="#d6deef"/><rect x="239.6" y="141.7" width="1.7" height="1.7" fill="#d9e0f0"/><rect x="258.9" y="136.6" width="1.7" height="1.7" fill="#3784c2"/><rect x="298.8" y="142.6" width="1.7" height="1.7" fill="#93b6df"/><rect x="227.6" y="141.1" width="1.7" height="1.7" fill="#2a77b5"/><rect x="318.9" y="149.0" width="1.7" height="1.7" fill="#99b9e1"/><rect x="239.1" y="134.4" width="1.7" height="1.7" fill="#aec6e6"/><rect x="250.9" y="131.9" width="1.7" height="1.7" fill="#c5d3eb"/><rect x="253.8" y="120.5" width="1.7" height="1.7" fill="#bacde9"/><rect x="240.1" y="127.9" width="1.7" height="1.7" fill="#c9d6ec"/><rect x="300.9" y="141.5" width="1.7" height="1.7" fill="#c7d5ec"/><rect x="262.8" y="141.7" width="1.7" height="1.7" fill="#689dd3"/><rect x="302.7" y="146.4" width="1.7" height="1.7" fill="#89b0dc"/><rect x="235.6" y="140.1" width="1.7" height="1.7" fill="#d8e0f0"/><rect x="228.8" y="124.0" width="1.7" height="1.7" fill="#134979"/><rect x="234.9" y="137.1" width="1.7" height="1.7" fill="#9ebde2"/><rect x="220.1" y="123.0" width="1.7" height="1.7" fill="#4189c6"/><rect x="248.3" y="147.9" width="1.7" height="1.7" fill="#d0dbee"/><rect x="294.3" y="150.3" width="1.7" height="1.7" fill="#dbe2f0"/><rect x="208.9" y="139.9" width="1.7" height="1.7" fill="#3d87c4"/><rect x="224.4" y="136.9" width="1.7" height="1.7" fill="#8eb3de"/><rect x="324.0" y="143.9" width="1.7" height="1.7" fill="#5694cd"/><rect x="251.9" y="136.8" width="1.7" height="1.7" fill="#76a5d7"/><rect x="264.4" y="148.0" width="1.7" height="1.7" fill="#5c97cf"/><rect x="239.6" y="116.1" width="1.7" height="1.7" fill="#2b78b7"/><rect x="272.1" y="139.8" width="1.7" height="1.7" fill="#d4ddef"/><rect x="228.1" y="120.6" width="1.7" height="1.7" fill="#a8c2e5"/><rect x="243.1" y="148.9" width="1.7" height="1.7" fill="#b0c7e7"/><rect x="231.1" y="134.4" width="1.7" height="1.7" fill="#c3d2eb"/><rect x="313.5" y="137.4" width="1.7" height="1.7" fill="#236ca8"/><rect x="250.3" y="135.6" width="1.7" height="1.7" fill="#246da8"/><rect x="250.9" y="141.0" width="1.7" height="1.7" fill="#5694cd"/><rect x="273.1" y="142.7" width="1.7" height="1.7" fill="#6fa1d5"/><rect x="218.3" y="138.7" width="1.7" height="1.7" fill="#85addb"/><rect x="237.3" y="107.9" width="1.7" height="1.7" fill="#1a5e96"/><rect x="220.5" y="141.1" width="1.7" height="1.7" fill="#18588e"/><rect x="295.9" y="148.7" width="1.7" height="1.7" fill="#89b0dc"/><rect x="283.3" y="147.1" width="1.7" height="1.7" fill="#8fb3de"/><rect x="240.6" y="150.4" width="1.7" height="1.7" fill="#bcceea"/><rect x="260.8" y="141.6" width="1.7" height="1.7" fill="#d0dbee"/><rect x="232.3" y="117.0" width="1.7" height="1.7" fill="#97b8e0"/><rect x="283.6" y="140.9" width="1.7" height="1.7" fill="#a0bde2"/><rect x="240.1" y="132.2" width="1.7" height="1.7" fill="#82acdb"/><rect x="222.4" y="143.2" width="1.7" height="1.7" fill="#96b8e0"/><rect x="266.2" y="145.6" width="1.7" height="1.7" fill="#d8e0f0"/><rect x="257.9" y="136.6" width="1.7" height="1.7" fill="#88b0dc"/><rect x="244.8" y="113.7" width="1.7" height="1.7" fill="#0e3d67"/><rect x="256.3" y="148.7" width="1.7" height="1.7" fill="#7ba8d9"/><rect x="292.7" y="146.2" width="1.7" height="1.7" fill="#d5deef"/><rect x="226.7" y="129.3" width="1.7" height="1.7" fill="#dce2f0"/><rect x="269.7" y="139.8" width="1.7" height="1.7" fill="#9bbbe1"/><rect x="232.2" y="145.1" width="1.7" height="1.7" fill="#0f3e69"/><rect x="251.7" y="142.9" width="1.7" height="1.7" fill="#9ebce2"/><rect x="212.5" y="140.6" width="1.7" height="1.7" fill="#2874b2"/><rect x="293.2" y="149.6" width="1.7" height="1.7" fill="#c9d6ec"/><rect x="288.0" y="148.3" width="1.7" height="1.7" fill="#8fb4de"/><rect x="277.1" y="144.1" width="1.7" height="1.7" fill="#95b7e0"/><rect x="245.5" y="150.7" width="1.7" height="1.7" fill="#165286"/><rect x="211.7" y="134.0" width="1.7" height="1.7" fill="#ced9ed"/><rect x="253.0" y="128.4" width="1.7" height="1.7" fill="#adc5e6"/><rect x="213.1" y="149.9" width="1.7" height="1.7" fill="#a9c3e5"/><rect x="254.7" y="141.0" width="1.7" height="1.7" fill="#dde3f1"/><rect x="269.5" y="147.3" width="1.7" height="1.7" fill="#ced9ed"/><rect x="243.1" y="115.5" width="1.7" height="1.7" fill="#2773af"/><rect x="235.9" y="139.5" width="1.7" height="1.7" fill="#98b9e0"/><rect x="220.6" y="142.5" width="1.7" height="1.7" fill="#8cb2dd"/><rect x="236.7" y="150.7" width="1.7" height="1.7" fill="#c9d6ec"/><rect x="213.0" y="144.1" width="1.7" height="1.7" fill="#dfe4f1"/><rect x="272.6" y="134.7" width="1.7" height="1.7" fill="#b6cbe8"/><rect x="223.1" y="143.1" width="1.7" height="1.7" fill="#dae1f0"/><rect x="253.6" y="143.3" width="1.7" height="1.7" fill="#c5d4ec"/><rect x="249.9" y="135.2" width="1.7" height="1.7" fill="#1a5d95"/><rect x="266.9" y="139.6" width="1.7" height="1.7" fill="#96b8e0"/><rect x="292.8" y="144.6" width="1.7" height="1.7" fill="#98b8e0"/><rect x="218.0" y="150.5" width="1.7" height="1.7" fill="#a0bde2"/><rect x="299.5" y="145.2" width="1.7" height="1.7" fill="#dce2f0"/><rect x="227.1" y="136.2" width="1.7" height="1.7" fill="#3b86c4"/><rect x="245.9" y="132.9" width="1.7" height="1.7" fill="#9bbbe1"/><rect x="292.9" y="141.8" width="1.7" height="1.7" fill="#cad7ed"/><rect x="257.1" y="136.0" width="1.7" height="1.7" fill="#95b7e0"/><rect x="248.3" y="137.2" width="1.7" height="1.7" fill="#5895cd"/><rect x="228.1" y="111.5" width="1.7" height="1.7" fill="#3b86c4"/><rect x="247.6" y="117.0" width="1.7" height="1.7" fill="#d0dbee"/><rect x="255.1" y="147.1" width="1.7" height="1.7" fill="#9dbbe2"/><rect x="205.3" y="146.4" width="1.7" height="1.7" fill="#c1d1eb"/><rect x="206.0" y="148.5" width="1.7" height="1.7" fill="#cdd9ed"/><rect x="283.9" y="140.8" width="1.7" height="1.7" fill="#236ba6"/><rect x="228.1" y="118.3" width="1.7" height="1.7" fill="#c7d5ec"/><rect x="260.7" y="139.0" width="1.7" height="1.7" fill="#689ed3"/><rect x="223.1" y="145.9" width="1.7" height="1.7" fill="#1b5f97"/><rect x="217.3" y="137.4" width="1.7" height="1.7" fill="#9dbce2"/><rect x="249.5" y="127.8" width="1.7" height="1.7" fill="#96b8e0"/><rect x="256.6" y="139.5" width="1.7" height="1.7" fill="#0f3f6b"/><rect x="211.6" y="137.7" width="1.7" height="1.7" fill="#91b5df"/><rect x="277.2" y="129.5" width="1.7" height="1.7" fill="#6ca0d4"/><rect x="232.1" y="134.7" width="1.7" height="1.7" fill="#0f3e69"/><rect x="228.4" y="133.7" width="1.7" height="1.7" fill="#134979"/><rect x="243.7" y="113.7" width="1.7" height="1.7" fill="#7ba7d9"/><rect x="246.3" y="117.9" width="1.7" height="1.7" fill="#a0bde2"/><rect x="273.6" y="133.3" width="1.7" height="1.7" fill="#abc4e5"/><rect x="305.2" y="139.2" width="1.7" height="1.7" fill="#d4ddef"/><rect x="250.9" y="142.9" width="1.7" height="1.7" fill="#124877"/><rect x="238.0" y="109.4" width="1.7" height="1.7" fill="#2f7fbe"/><rect x="303.7" y="142.9" width="1.7" height="1.7" fill="#97b8e0"/><rect x="267.9" y="150.0" width="1.7" height="1.7" fill="#a3bfe3"/><rect x="299.9" y="141.8" width="1.7" height="1.7" fill="#8db2dd"/><rect x="247.5" y="122.4" width="1.7" height="1.7" fill="#134a7a"/><rect x="250.9" y="129.7" width="1.7" height="1.7" fill="#3d87c4"/><rect x="323.3" y="141.5" width="1.7" height="1.7" fill="#d5deef"/><rect x="270.0" y="136.6" width="1.7" height="1.7" fill="#124776"/><rect x="236.7" y="113.7" width="1.7" height="1.7" fill="#679dd2"/><rect x="244.6" y="144.3" width="1.7" height="1.7" fill="#d7dfef"/><rect x="273.7" y="145.3" width="1.7" height="1.7" fill="#bacde9"/><rect x="236.3" y="123.2" width="1.7" height="1.7" fill="#0f3d68"/><rect x="265.1" y="139.2" width="1.7" height="1.7" fill="#abc4e5"/><rect x="317.0" y="143.6" width="1.7" height="1.7" fill="#90b4de"/><rect x="251.4" y="133.3" width="1.7" height="1.7" fill="#98b9e0"/><rect x="239.9" y="117.4" width="1.7" height="1.7" fill="#8db2de"/><rect x="236.7" y="143.2" width="1.7" height="1.7" fill="#b3c8e7"/><rect x="251.1" y="118.7" width="1.7" height="1.7" fill="#124674"/><rect x="219.0" y="130.3" width="1.7" height="1.7" fill="#2e7ebd"/><rect x="264.9" y="139.3" width="1.7" height="1.7" fill="#d4ddef"/><rect x="235.4" y="111.2" width="1.7" height="1.7" fill="#b8cbe9"/><rect x="248.8" y="146.4" width="1.7" height="1.7" fill="#cdd9ed"/><rect x="223.2" y="149.9" width="1.7" height="1.7" fill="#a5c0e4"/><rect x="306.4" y="148.5" width="1.7" height="1.7" fill="#98b9e0"/><rect x="320.7" y="148.1" width="1.7" height="1.7" fill="#a4c0e4"/><rect x="218.3" y="146.1" width="1.7" height="1.7" fill="#8db3de"/><rect x="214.6" y="127.4" width="1.7" height="1.7" fill="#1a5d94"/><rect x="250.6" y="131.5" width="1.7" height="1.7" fill="#18598f"/><rect x="222.7" y="143.6" width="1.7" height="1.7" fill="#bdcfea"/><rect x="262.8" y="135.2" width="1.7" height="1.7" fill="#dbe2f0"/><rect x="266.5" y="148.4" width="1.7" height="1.7" fill="#9cbbe1"/><rect x="247.9" y="146.2" width="1.7" height="1.7" fill="#96b8e0"/><rect x="286.1" y="150.3" width="1.7" height="1.7" fill="#a7c2e4"/><rect x="242.1" y="144.9" width="1.7" height="1.7" fill="#d6deef"/><rect x="283.4" y="149.3" width="1.7" height="1.7" fill="#b8cbe9"/><rect x="278.5" y="135.2" width="1.7" height="1.7" fill="#94b6df"/><rect x="258.8" y="148.8" width="1.7" height="1.7" fill="#a1bee3"/><rect x="249.2" y="145.5" width="1.7" height="1.7" fill="#b0c7e7"/><rect x="319.2" y="139.3" width="1.7" height="1.7" fill="#c4d3eb"/><rect x="216.4" y="150.5" width="1.7" height="1.7" fill="#9dbce2"/><rect x="289.1" y="146.0" width="1.7" height="1.7" fill="#c5d3eb"/><rect x="211.3" y="134.0" width="1.7" height="1.7" fill="#98b9e0"/><rect x="244.2" y="135.1" width="1.7" height="1.7" fill="#a5c0e4"/><rect x="206.2" y="149.5" width="1.7" height="1.7" fill="#a3bfe3"/><rect x="215.9" y="125.1" width="1.7" height="1.7" fill="#2a76b4"/><rect x="249.6" y="129.9" width="1.7" height="1.7" fill="#7ca9d9"/><rect x="235.2" y="140.1" width="1.7" height="1.7" fill="#97b8e0"/><rect x="245.3" y="138.7" width="1.7" height="1.7" fill="#92b5df"/><rect x="302.6" y="148.9" width="1.7" height="1.7" fill="#9fbde2"/><rect x="246.1" y="123.2" width="1.7" height="1.7" fill="#77a6d8"/><rect x="215.1" y="133.2" width="1.7" height="1.7" fill="#91b4de"/><rect x="248.5" y="142.4" width="1.7" height="1.7" fill="#90b4de"/><rect x="266.1" y="136.8" width="1.7" height="1.7" fill="#d2dcee"/><rect x="226.0" y="133.6" width="1.7" height="1.7" fill="#9cbbe2"/><rect x="215.3" y="128.1" width="1.7" height="1.7" fill="#4e90ca"/><rect x="278.0" y="145.2" width="1.7" height="1.7" fill="#88b0dc"/><rect x="308.8" y="139.9" width="1.7" height="1.7" fill="#b3c8e7"/><rect x="231.1" y="123.6" width="1.7" height="1.7" fill="#7aa7d9"/><rect x="233.9" y="149.7" width="1.7" height="1.7" fill="#0f3f6a"/><rect x="277.1" y="136.1" width="1.7" height="1.7" fill="#a1bee3"/><rect x="325.2" y="146.9" width="1.7" height="1.7" fill="#adc5e6"/><rect x="298.1" y="147.9" width="1.7" height="1.7" fill="#165386"/><rect x="213.3" y="126.8" width="1.7" height="1.7" fill="#236ba7"/><rect x="326.3" y="146.0" width="1.7" height="1.7" fill="#a0bde2"/><rect x="291.9" y="150.3" width="1.7" height="1.7" fill="#adc5e6"/><rect x="235.8" y="130.6" width="1.7" height="1.7" fill="#1e649e"/><rect x="245.5" y="148.6" width="1.7" height="1.7" fill="#d7dfef"/><rect x="325.5" y="145.0" width="1.7" height="1.7" fill="#629ad1"/><rect x="282.2" y="148.6" width="1.7" height="1.7" fill="#1f66a0"/><rect x="230.6" y="140.2" width="1.7" height="1.7" fill="#10426f"/><rect x="235.8" y="133.7" width="1.7" height="1.7" fill="#dae1f0"/><rect x="254.6" y="126.0" width="1.7" height="1.7" fill="#b1c8e7"/><rect x="269.2" y="140.4" width="1.7" height="1.7" fill="#2b79b7"/><rect x="211.3" y="137.3" width="1.7" height="1.7" fill="#236ca8"/><rect x="314.6" y="147.0" width="1.7" height="1.7" fill="#cbd8ed"/><rect x="206.2" y="143.3" width="1.7" height="1.7" fill="#97b8e0"/><rect x="258.9" y="144.4" width="1.7" height="1.7" fill="#9cbbe1"/><rect x="249.8" y="142.6" width="1.7" height="1.7" fill="#dae1f0"/><rect x="239.9" y="114.0" width="1.7" height="1.7" fill="#1e659e"/><rect x="227.3" y="117.0" width="1.7" height="1.7" fill="#bcceea"/><rect x="260.9" y="145.1" width="1.7" height="1.7" fill="#1c629a"/><rect x="222.2" y="136.9" width="1.7" height="1.7" fill="#bacde9"/><rect x="228.1" y="112.5" width="1.7" height="1.7" fill="#92b5df"/><rect x="254.1" y="121.3" width="1.7" height="1.7" fill="#96b8e0"/><rect x="251.7" y="144.6" width="1.7" height="1.7" fill="#90b4de"/><rect x="248.7" y="139.4" width="1.7" height="1.7" fill="#3181c0"/><rect x="230.6" y="142.7" width="1.7" height="1.7" fill="#438ac6"/><rect x="224.8" y="133.1" width="1.7" height="1.7" fill="#679dd2"/><rect x="223.0" y="134.2" width="1.7" height="1.7" fill="#9abae1"/><rect x="230.1" y="130.1" width="1.7" height="1.7" fill="#165286"/><polyline points="202.0,151.4 205.0,151.2 208.0,150.4 212.6,149.5 217.5,150.0 221.0,149.5 226.0,147.0 231.0,144.6 237.0,146.0 241.0,145.5 244.7,143.2 249.6,146.0 254.4,144.0 258.0,146.5 262.2,150.4 264.0,151.2 268.0,151.0 271.7,150.4 275.6,146.6 279.5,150.4 283.0,151.2 300.0,151.3 328.0,151.4" fill="none" stroke="#f3c4c7" stroke-opacity="0.8" stroke-width="4.6" stroke-linejoin="round"/><polyline points="202.0,151.4 205.0,151.2 208.0,150.4 212.6,149.5 217.5,150.0 221.0,149.5 226.0,147.0 231.0,144.6 237.0,146.0 241.0,145.5 244.7,143.2 249.6,146.0 254.4,144.0 258.0,146.5 262.2,150.4 264.0,151.2 268.0,151.0 271.7,150.4 275.6,146.6 279.5,150.4 283.0,151.2 300.0,151.3 328.0,151.4" fill="none" stroke="#b9252e" stroke-width="1.5" stroke-linejoin="round"/><rect x="201.2" y="55.3" width="128.0" height="96.3" fill="none" stroke="#bdbdbd" stroke-width="0.6"/><text class="tk" x="198.2" y="154.50" text-anchor="end">0</text><line x1="201.2" y1="151.60" x2="202.5" y2="151.60" stroke="#888" stroke-width="0.5"/><text class="tk" x="198.2" y="138.45" text-anchor="end">0.05</text><line x1="201.2" y1="135.55" x2="202.5" y2="135.55" stroke="#888" stroke-width="0.5"/><text class="tk" x="198.2" y="122.40" text-anchor="end">0.1</text><line x1="201.2" y1="119.50" x2="202.5" y2="119.50" stroke="#888" stroke-width="0.5"/><text class="tk" x="198.2" y="106.35" text-anchor="end">0.15</text><line x1="201.2" y1="103.45" x2="202.5" y2="103.45" stroke="#888" stroke-width="0.5"/><text class="tk" x="198.2" y="90.30" text-anchor="end">0.2</text><line x1="201.2" y1="87.40" x2="202.5" y2="87.40" stroke="#888" stroke-width="0.5"/><text class="tk" x="198.2" y="74.25" text-anchor="end">0.25</text><line x1="201.2" y1="71.35" x2="202.5" y2="71.35" stroke="#888" stroke-width="0.5"/><text class="tk" x="198.2" y="58.20" text-anchor="end">0.3</text><line x1="201.2" y1="55.30" x2="202.5" y2="55.30" stroke="#888" stroke-width="0.5"/><text class="tk" x="201.20" y="162.70" text-anchor="middle">18</text><text class="tk" x="219.49" y="162.70" text-anchor="middle">20</text><text class="tk" x="237.77" y="162.70" text-anchor="middle">22</text><text class="tk" x="256.06" y="162.70" text-anchor="middle">24</text><text class="tk" x="274.34" y="162.70" text-anchor="middle">2</text><text class="tk" x="292.63" y="162.70" text-anchor="middle">4</text><text class="tk" x="310.91" y="162.70" text-anchor="middle">6</text><text class="tk" x="329.20" y="162.70" text-anchor="middle">8</text><text class="yl" transform="translate(182.3,103.4) rotate(-90)" text-anchor="middle">ROTI occ.</text><rect x="334" y="55.3" width="6.6" height="96.3" fill="url(#blues)"/><text class="yl" x="338.6" y="51.7" text-anchor="middle">F107</text><text class="tk cb" x="342.5" y="139.40">80</text><text class="tk cb" x="342.5" y="119.00">100</text><text class="tk cb" x="342.5" y="98.60">120</text><text class="tk cb" x="342.5" y="78.20">140</text><text class="tk cb" x="342.5" y="57.80">160</text><text x="263.3" y="48.6" font-family="'Liberation Sans', Arial, sans-serif" font-size="7.3" font-weight="bold" fill="#111" stroke="#111" stroke-width="0.1" text-anchor="middle">June Solstice</text><rect x="201.2" y="184.8" width="128.0" height="96.30000000000001" fill="#fff"/><line x1="201.2" y1="200.85" x2="329.2" y2="200.85" stroke="#ebebeb" stroke-width="0.5"/><line x1="201.2" y1="216.90" x2="329.2" y2="216.90" stroke="#ebebeb" stroke-width="0.5"/><line x1="201.2" y1="232.95" x2="329.2" y2="232.95" stroke="#ebebeb" stroke-width="0.5"/><line x1="201.2" y1="249.00" x2="329.2" y2="249.00" stroke="#ebebeb" stroke-width="0.5"/><line x1="201.2" y1="265.05" x2="329.2" y2="265.05" stroke="#ebebeb" stroke-width="0.5"/><line x1="219.49" y1="184.8" x2="219.49" y2="281.1" stroke="#ebebeb" stroke-width="0.5"/><line x1="237.77" y1="184.8" x2="237.77" y2="281.1" stroke="#ebebeb" stroke-width="0.5"/><line x1="256.06" y1="184.8" x2="256.06" y2="281.1" stroke="#ebebeb" stroke-width="0.5"/><line x1="274.34" y1="184.8" x2="274.34" y2="281.1" stroke="#ebebeb" stroke-width="0.5"/><line x1="292.63" y1="184.8" x2="292.63" y2="281.1" stroke="#ebebeb" stroke-width="0.5"/><line x1="310.91" y1="184.8" x2="310.91" y2="281.1" stroke="#ebebeb" stroke-width="0.5"/><rect x="256.8" y="279.3" width="1.7" height="1.7" fill="#85addb"/><rect x="304.6" y="280.2" width="1.7" height="1.7" fill="#acc5e6"/><rect x="229.2" y="280.0" width="1.7" height="1.7" fill="#84addb"/><rect x="227.7" y="279.3" width="1.7" height="1.7" fill="#81abda"/><rect x="265.5" y="279.9" width="1.7" height="1.7" fill="#dce2f0"/><rect x="301.5" y="277.0" width="1.7" height="1.7" fill="#aec6e6"/><rect x="231.7" y="278.5" width="1.7" height="1.7" fill="#bbcde9"/><rect x="304.4" y="280.0" width="1.7" height="1.7" fill="#97b8e0"/><rect x="238.4" y="279.5" width="1.7" height="1.7" fill="#85aedb"/><rect x="319.8" y="280.0" width="1.7" height="1.7" fill="#80abda"/><rect x="292.5" y="279.3" width="1.7" height="1.7" fill="#b9cce9"/><rect x="250.8" y="278.9" width="1.7" height="1.7" fill="#cbd7ed"/><rect x="259.4" y="280.1" width="1.7" height="1.7" fill="#dce2f0"/><rect x="255.4" y="279.9" width="1.7" height="1.7" fill="#a0bee3"/><rect x="305.1" y="277.5" width="1.7" height="1.7" fill="#9dbce2"/><rect x="281.5" y="280.2" width="1.7" height="1.7" fill="#bdceea"/><rect x="308.9" y="279.4" width="1.7" height="1.7" fill="#cedaee"/><rect x="209.8" y="278.1" width="1.7" height="1.7" fill="#87afdc"/><rect x="280.8" y="278.9" width="1.7" height="1.7" fill="#a5c0e4"/><rect x="316.1" y="279.1" width="1.7" height="1.7" fill="#b6cae8"/><rect x="288.3" y="279.2" width="1.7" height="1.7" fill="#97b8e0"/><rect x="239.8" y="278.4" width="1.7" height="1.7" fill="#8db3de"/><rect x="259.0" y="280.2" width="1.7" height="1.7" fill="#dde3f1"/><rect x="222.0" y="279.2" width="1.7" height="1.7" fill="#7ea9da"/><rect x="283.2" y="279.5" width="1.7" height="1.7" fill="#dae1f0"/><rect x="314.6" y="280.2" width="1.7" height="1.7" fill="#a1bee3"/><rect x="259.6" y="279.6" width="1.7" height="1.7" fill="#c9d6ec"/><rect x="287.9" y="278.8" width="1.7" height="1.7" fill="#abc4e5"/><rect x="239.5" y="280.2" width="1.7" height="1.7" fill="#cdd9ed"/><rect x="307.7" y="279.0" width="1.7" height="1.7" fill="#d8e0f0"/><rect x="237.9" y="280.1" width="1.7" height="1.7" fill="#a6c1e4"/><rect x="312.8" y="277.6" width="1.7" height="1.7" fill="#7ba8d9"/><rect x="313.7" y="278.7" width="1.7" height="1.7" fill="#d2dcee"/><rect x="322.2" y="277.6" width="1.7" height="1.7" fill="#a2bee3"/><rect x="240.0" y="278.2" width="1.7" height="1.7" fill="#cdd8ed"/><rect x="258.6" y="277.8" width="1.7" height="1.7" fill="#87afdc"/><rect x="282.2" y="280.2" width="1.7" height="1.7" fill="#c2d2eb"/><rect x="229.6" y="277.5" width="1.7" height="1.7" fill="#92b5df"/><rect x="295.9" y="277.8" width="1.7" height="1.7" fill="#a9c3e5"/><rect x="229.8" y="277.2" width="1.7" height="1.7" fill="#c5d3eb"/><rect x="269.5" y="278.8" width="1.7" height="1.7" fill="#a8c2e5"/><rect x="318.1" y="279.3" width="1.7" height="1.7" fill="#b9cce9"/><rect x="305.7" y="277.6" width="1.7" height="1.7" fill="#91b4de"/><rect x="274.1" y="279.8" width="1.7" height="1.7" fill="#b0c7e7"/><rect x="221.2" y="279.6" width="1.7" height="1.7" fill="#9ebce2"/><rect x="253.6" y="278.8" width="1.7" height="1.7" fill="#bacde9"/><rect x="231.4" y="279.5" width="1.7" height="1.7" fill="#dbe1f0"/><rect x="288.5" y="279.0" width="1.7" height="1.7" fill="#b4c9e8"/><rect x="319.7" y="280.2" width="1.7" height="1.7" fill="#8db2dd"/><rect x="299.2" y="279.3" width="1.7" height="1.7" fill="#d9e0f0"/><rect x="254.2" y="279.2" width="1.7" height="1.7" fill="#b3c9e8"/><rect x="321.2" y="279.5" width="1.7" height="1.7" fill="#d9e1f0"/><rect x="315.0" y="279.9" width="1.7" height="1.7" fill="#afc6e6"/><rect x="319.9" y="279.7" width="1.7" height="1.7" fill="#7ba8d9"/><rect x="255.7" y="278.3" width="1.7" height="1.7" fill="#cad6ec"/><rect x="270.2" y="278.2" width="1.7" height="1.7" fill="#84addb"/><rect x="214.6" y="279.1" width="1.7" height="1.7" fill="#d1dbee"/><rect x="280.6" y="279.9" width="1.7" height="1.7" fill="#b2c8e7"/><rect x="281.5" y="279.7" width="1.7" height="1.7" fill="#dde3f1"/><rect x="237.9" y="279.0" width="1.7" height="1.7" fill="#c1d1eb"/><rect x="321.1" y="279.0" width="1.7" height="1.7" fill="#cbd7ed"/><rect x="208.9" y="279.0" width="1.7" height="1.7" fill="#c2d1eb"/><rect x="260.8" y="278.9" width="1.7" height="1.7" fill="#aac3e5"/><rect x="264.9" y="279.8" width="1.7" height="1.7" fill="#c7d5ec"/><rect x="322.9" y="279.7" width="1.7" height="1.7" fill="#95b7e0"/><rect x="265.2" y="278.8" width="1.7" height="1.7" fill="#c1d1eb"/><rect x="252.6" y="280.0" width="1.7" height="1.7" fill="#82acdb"/><rect x="247.6" y="278.7" width="1.7" height="1.7" fill="#dbe2f0"/><rect x="313.4" y="279.2" width="1.7" height="1.7" fill="#d4ddef"/><rect x="279.5" y="279.0" width="1.7" height="1.7" fill="#a4c0e4"/><rect x="226.6" y="279.5" width="1.7" height="1.7" fill="#c7d5ec"/><rect x="210.5" y="279.2" width="1.7" height="1.7" fill="#b4c9e8"/><rect x="224.6" y="280.0" width="1.7" height="1.7" fill="#79a7d8"/><rect x="305.6" y="280.2" width="1.7" height="1.7" fill="#ced9ed"/><rect x="271.0" y="278.4" width="1.7" height="1.7" fill="#85aedb"/><rect x="323.5" y="279.9" width="1.7" height="1.7" fill="#c0d0ea"/><rect x="278.2" y="278.3" width="1.7" height="1.7" fill="#adc5e6"/><rect x="217.0" y="277.5" width="1.7" height="1.7" fill="#d4ddef"/><rect x="244.4" y="279.2" width="1.7" height="1.7" fill="#98b9e0"/><rect x="217.6" y="276.9" width="1.7" height="1.7" fill="#9ebce2"/><rect x="288.5" y="279.5" width="1.7" height="1.7" fill="#97b8e0"/><rect x="287.4" y="278.7" width="1.7" height="1.7" fill="#94b7df"/><rect x="218.3" y="278.4" width="1.7" height="1.7" fill="#94b7df"/><rect x="231.5" y="280.0" width="1.7" height="1.7" fill="#c7d5ec"/><rect x="259.8" y="278.3" width="1.7" height="1.7" fill="#9dbce2"/><rect x="261.5" y="279.8" width="1.7" height="1.7" fill="#8db2de"/><rect x="286.7" y="279.3" width="1.7" height="1.7" fill="#86aedc"/><rect x="290.9" y="277.4" width="1.7" height="1.7" fill="#9dbce2"/><rect x="315.5" y="279.1" width="1.7" height="1.7" fill="#98b9e0"/><rect x="308.7" y="278.2" width="1.7" height="1.7" fill="#b2c8e7"/><rect x="280.6" y="279.2" width="1.7" height="1.7" fill="#8fb3de"/><rect x="293.6" y="279.2" width="1.7" height="1.7" fill="#bdceea"/><rect x="264.3" y="279.3" width="1.7" height="1.7" fill="#b9cce9"/><rect x="307.7" y="279.4" width="1.7" height="1.7" fill="#c0d0ea"/><rect x="241.5" y="278.8" width="1.7" height="1.7" fill="#b7cbe9"/><rect x="227.8" y="279.0" width="1.7" height="1.7" fill="#7aa7d9"/><rect x="220.2" y="279.7" width="1.7" height="1.7" fill="#dfe4f1"/><rect x="319.4" y="278.9" width="1.7" height="1.7" fill="#9bbbe1"/><rect x="244.7" y="278.4" width="1.7" height="1.7" fill="#c8d6ec"/><rect x="290.5" y="280.0" width="1.7" height="1.7" fill="#87afdc"/><rect x="276.1" y="277.8" width="1.7" height="1.7" fill="#ccd8ed"/><rect x="286.4" y="280.2" width="1.7" height="1.7" fill="#c2d2eb"/><rect x="248.3" y="278.9" width="1.7" height="1.7" fill="#81acda"/><rect x="272.6" y="279.2" width="1.7" height="1.7" fill="#a0bde2"/><rect x="275.4" y="277.8" width="1.7" height="1.7" fill="#9bbbe1"/><rect x="267.0" y="278.8" width="1.7" height="1.7" fill="#ced9ed"/><rect x="246.9" y="278.5" width="1.7" height="1.7" fill="#bbcde9"/><rect x="308.8" y="278.6" width="1.7" height="1.7" fill="#a7c1e4"/><rect x="220.7" y="280.1" width="1.7" height="1.7" fill="#9dbce2"/><rect x="243.1" y="277.9" width="1.7" height="1.7" fill="#b1c8e7"/><rect x="215.4" y="279.7" width="1.7" height="1.7" fill="#cad7ed"/><rect x="281.1" y="278.5" width="1.7" height="1.7" fill="#d6deef"/><rect x="211.2" y="278.8" width="1.7" height="1.7" fill="#b9cce9"/><rect x="261.1" y="279.8" width="1.7" height="1.7" fill="#81abda"/><rect x="323.5" y="279.7" width="1.7" height="1.7" fill="#dfe4f1"/><rect x="226.5" y="278.3" width="1.7" height="1.7" fill="#7ca9d9"/><rect x="218.3" y="280.0" width="1.7" height="1.7" fill="#bbcde9"/><rect x="256.9" y="280.0" width="1.7" height="1.7" fill="#c6d4ec"/><rect x="236.9" y="277.5" width="1.7" height="1.7" fill="#a9c3e5"/><rect x="261.6" y="279.4" width="1.7" height="1.7" fill="#a0bde2"/><rect x="321.8" y="278.8" width="1.7" height="1.7" fill="#85addb"/><rect x="254.3" y="279.4" width="1.7" height="1.7" fill="#8db2de"/><rect x="255.7" y="278.9" width="1.7" height="1.7" fill="#a1bee3"/><rect x="221.7" y="279.4" width="1.7" height="1.7" fill="#d6dfef"/><rect x="235.3" y="278.3" width="1.7" height="1.7" fill="#7ba8d9"/><rect x="327.4" y="280.1" width="1.7" height="1.7" fill="#d2dcee"/><rect x="270.2" y="279.5" width="1.7" height="1.7" fill="#bcceea"/><rect x="299.9" y="278.6" width="1.7" height="1.7" fill="#a9c2e5"/><rect x="282.4" y="279.2" width="1.7" height="1.7" fill="#9cbbe1"/><rect x="318.9" y="278.9" width="1.7" height="1.7" fill="#7aa7d8"/><rect x="310.8" y="278.0" width="1.7" height="1.7" fill="#b5cae8"/><rect x="301.5" y="279.9" width="1.7" height="1.7" fill="#a4bfe3"/><rect x="215.1" y="278.8" width="1.7" height="1.7" fill="#bacde9"/><rect x="216.9" y="279.1" width="1.7" height="1.7" fill="#cad7ed"/><rect x="311.0" y="279.2" width="1.7" height="1.7" fill="#bcceea"/><rect x="303.9" y="279.4" width="1.7" height="1.7" fill="#dae1f0"/><rect x="234.4" y="278.2" width="1.7" height="1.7" fill="#cdd8ed"/><rect x="238.1" y="278.4" width="1.7" height="1.7" fill="#b0c7e7"/><rect x="240.6" y="279.5" width="1.7" height="1.7" fill="#a0bee3"/><rect x="213.3" y="280.1" width="1.7" height="1.7" fill="#c3d2eb"/><rect x="313.0" y="279.4" width="1.7" height="1.7" fill="#bfd0ea"/><rect x="231.7" y="279.2" width="1.7" height="1.7" fill="#8db2dd"/><rect x="215.4" y="278.1" width="1.7" height="1.7" fill="#9abae1"/><rect x="234.4" y="279.1" width="1.7" height="1.7" fill="#c4d3eb"/><rect x="302.3" y="278.5" width="1.7" height="1.7" fill="#b4c9e8"/><rect x="268.7" y="280.0" width="1.7" height="1.7" fill="#8ab0dd"/><rect x="273.5" y="278.9" width="1.7" height="1.7" fill="#b7cbe9"/><rect x="253.2" y="277.7" width="1.7" height="1.7" fill="#9bbbe1"/><rect x="256.7" y="278.5" width="1.7" height="1.7" fill="#91b5df"/><rect x="220.0" y="279.7" width="1.7" height="1.7" fill="#9cbbe1"/><rect x="260.3" y="279.0" width="1.7" height="1.7" fill="#bbcde9"/><rect x="225.6" y="279.8" width="1.7" height="1.7" fill="#dae1f0"/><rect x="218.9" y="279.2" width="1.7" height="1.7" fill="#8bb1dd"/><rect x="232.8" y="280.2" width="1.7" height="1.7" fill="#7aa7d8"/><rect x="306.9" y="280.1" width="1.7" height="1.7" fill="#9cbbe1"/><rect x="278.6" y="279.4" width="1.7" height="1.7" fill="#a4c0e4"/><rect x="263.8" y="277.8" width="1.7" height="1.7" fill="#c9d6ec"/><rect x="216.3" y="279.0" width="1.7" height="1.7" fill="#91b5df"/><rect x="274.3" y="279.5" width="1.7" height="1.7" fill="#8cb2dd"/><rect x="213.5" y="279.1" width="1.7" height="1.7" fill="#9ebce2"/><rect x="274.7" y="280.1" width="1.7" height="1.7" fill="#8bb1dd"/><rect x="209.4" y="280.2" width="1.7" height="1.7" fill="#adc5e6"/><rect x="243.9" y="279.6" width="1.7" height="1.7" fill="#abc4e5"/><rect x="213.8" y="278.1" width="1.7" height="1.7" fill="#9cbbe1"/><rect x="220.3" y="276.8" width="1.7" height="1.7" fill="#acc4e6"/><rect x="290.2" y="278.1" width="1.7" height="1.7" fill="#78a6d8"/><rect x="222.7" y="278.4" width="1.7" height="1.7" fill="#b2c8e7"/><rect x="232.5" y="280.0" width="1.7" height="1.7" fill="#adc5e6"/><rect x="216.5" y="279.2" width="1.7" height="1.7" fill="#b0c7e7"/><rect x="305.4" y="279.0" width="1.7" height="1.7" fill="#87afdc"/><rect x="314.7" y="280.0" width="1.7" height="1.7" fill="#b2c8e7"/><rect x="223.0" y="279.8" width="1.7" height="1.7" fill="#d7dfef"/><rect x="314.0" y="279.3" width="1.7" height="1.7" fill="#9dbbe2"/><rect x="286.3" y="279.3" width="1.7" height="1.7" fill="#cbd8ed"/><rect x="317.4" y="279.0" width="1.7" height="1.7" fill="#c8d5ec"/><rect x="247.4" y="279.6" width="1.7" height="1.7" fill="#bdcfea"/><rect x="221.8" y="279.5" width="1.7" height="1.7" fill="#96b8e0"/><rect x="292.3" y="278.6" width="1.7" height="1.7" fill="#c3d2eb"/><rect x="209.8" y="279.8" width="1.7" height="1.7" fill="#a1bee3"/><rect x="261.0" y="279.0" width="1.7" height="1.7" fill="#ccd8ed"/><rect x="305.3" y="278.5" width="1.7" height="1.7" fill="#83acdb"/><rect x="318.5" y="278.7" width="1.7" height="1.7" fill="#80abda"/><rect x="256.5" y="279.7" width="1.7" height="1.7" fill="#7da9d9"/><rect x="279.3" y="278.7" width="1.7" height="1.7" fill="#d9e0f0"/><rect x="279.5" y="279.3" width="1.7" height="1.7" fill="#bbceea"/><rect x="253.5" y="278.1" width="1.7" height="1.7" fill="#a0bde2"/><rect x="294.7" y="279.9" width="1.7" height="1.7" fill="#c3d2eb"/><rect x="312.9" y="277.6" width="1.7" height="1.7" fill="#7da9d9"/><rect x="259.4" y="280.1" width="1.7" height="1.7" fill="#aec5e6"/><rect x="261.3" y="278.8" width="1.7" height="1.7" fill="#b8cbe9"/><rect x="292.0" y="279.6" width="1.7" height="1.7" fill="#d0daee"/><rect x="260.2" y="278.7" width="1.7" height="1.7" fill="#b5cae8"/><rect x="267.3" y="279.9" width="1.7" height="1.7" fill="#d5deef"/><rect x="255.8" y="279.8" width="1.7" height="1.7" fill="#c0d0ea"/><rect x="308.0" y="278.2" width="1.7" height="1.7" fill="#dbe2f0"/><rect x="254.4" y="279.9" width="1.7" height="1.7" fill="#acc5e6"/><rect x="288.6" y="277.6" width="1.7" height="1.7" fill="#9cbbe1"/><rect x="273.5" y="278.7" width="1.7" height="1.7" fill="#b7cbe9"/><rect x="209.8" y="279.9" width="1.7" height="1.7" fill="#a5c0e4"/><rect x="321.3" y="277.7" width="1.7" height="1.7" fill="#c5d4ec"/><rect x="326.6" y="279.9" width="1.7" height="1.7" fill="#cad7ed"/><rect x="274.3" y="278.8" width="1.7" height="1.7" fill="#d5deef"/><rect x="293.3" y="278.8" width="1.7" height="1.7" fill="#7ba8d9"/><rect x="224.8" y="279.3" width="1.7" height="1.7" fill="#8eb3de"/><rect x="238.7" y="279.1" width="1.7" height="1.7" fill="#a1bee3"/><rect x="246.0" y="278.4" width="1.7" height="1.7" fill="#8ab0dd"/><rect x="228.2" y="278.5" width="1.7" height="1.7" fill="#b6cae8"/><rect x="315.9" y="279.6" width="1.7" height="1.7" fill="#b8cbe9"/><rect x="324.7" y="277.0" width="1.7" height="1.7" fill="#96b8e0"/><rect x="236.4" y="280.2" width="1.7" height="1.7" fill="#93b6df"/><rect x="307.0" y="277.9" width="1.7" height="1.7" fill="#cbd7ed"/><rect x="283.7" y="280.0" width="1.7" height="1.7" fill="#c3d2eb"/><rect x="211.0" y="279.4" width="1.7" height="1.7" fill="#7faada"/><rect x="209.3" y="279.4" width="1.7" height="1.7" fill="#d6deef"/><rect x="314.6" y="280.1" width="1.7" height="1.7" fill="#9abae1"/><rect x="292.5" y="280.1" width="1.7" height="1.7" fill="#95b7e0"/><rect x="263.4" y="279.3" width="1.7" height="1.7" fill="#c3d2eb"/><rect x="208.8" y="279.9" width="1.7" height="1.7" fill="#c7d5ec"/><rect x="241.3" y="280.2" width="1.7" height="1.7" fill="#becfea"/><rect x="220.7" y="280.2" width="1.7" height="1.7" fill="#abc4e5"/><rect x="215.4" y="278.5" width="1.7" height="1.7" fill="#a3bfe3"/><rect x="241.8" y="277.6" width="1.7" height="1.7" fill="#8eb3de"/><rect x="268.5" y="279.6" width="1.7" height="1.7" fill="#dce2f0"/><rect x="235.3" y="279.7" width="1.7" height="1.7" fill="#aec6e6"/><rect x="228.8" y="278.5" width="1.7" height="1.7" fill="#96b7e0"/><rect x="280.3" y="279.4" width="1.7" height="1.7" fill="#dce2f0"/><rect x="257.0" y="279.8" width="1.7" height="1.7" fill="#d7dfef"/><rect x="285.0" y="279.7" width="1.7" height="1.7" fill="#d7dfef"/><rect x="312.8" y="277.6" width="1.7" height="1.7" fill="#85addb"/><rect x="281.0" y="279.0" width="1.7" height="1.7" fill="#b8cbe9"/><rect x="288.4" y="276.6" width="1.7" height="1.7" fill="#c7d5ec"/><rect x="312.6" y="279.6" width="1.7" height="1.7" fill="#bcceea"/><rect x="297.1" y="278.5" width="1.7" height="1.7" fill="#bdcfea"/><rect x="316.6" y="279.3" width="1.7" height="1.7" fill="#c9d6ec"/><rect x="314.0" y="279.8" width="1.7" height="1.7" fill="#c1d1eb"/><rect x="313.4" y="278.8" width="1.7" height="1.7" fill="#78a6d8"/><rect x="306.2" y="279.5" width="1.7" height="1.7" fill="#cad7ed"/><rect x="234.4" y="280.2" width="1.7" height="1.7" fill="#8bb1dd"/><rect x="235.3" y="278.5" width="1.7" height="1.7" fill="#c9d6ec"/><rect x="224.9" y="279.7" width="1.7" height="1.7" fill="#afc6e6"/><rect x="283.2" y="279.8" width="1.7" height="1.7" fill="#cdd9ed"/><rect x="222.5" y="280.0" width="1.7" height="1.7" fill="#ced9ed"/><rect x="319.9" y="279.3" width="1.7" height="1.7" fill="#7ba7d9"/><rect x="303.0" y="280.0" width="1.7" height="1.7" fill="#bcceea"/><rect x="256.5" y="278.8" width="1.7" height="1.7" fill="#8db2de"/><rect x="304.1" y="277.1" width="1.7" height="1.7" fill="#87afdc"/><rect x="286.1" y="279.1" width="1.7" height="1.7" fill="#c6d4ec"/><rect x="237.3" y="279.0" width="1.7" height="1.7" fill="#81abda"/><rect x="303.7" y="280.1" width="1.7" height="1.7" fill="#8bb1dd"/><rect x="304.2" y="279.8" width="1.7" height="1.7" fill="#92b5df"/><rect x="228.4" y="279.9" width="1.7" height="1.7" fill="#dbe2f0"/><rect x="323.4" y="280.2" width="1.7" height="1.7" fill="#d0daee"/><rect x="299.9" y="278.4" width="1.7" height="1.7" fill="#dbe2f0"/><rect x="275.9" y="279.7" width="1.7" height="1.7" fill="#a2bfe3"/><rect x="313.9" y="279.1" width="1.7" height="1.7" fill="#ccd8ed"/><rect x="274.5" y="279.5" width="1.7" height="1.7" fill="#dee3f1"/><rect x="224.3" y="279.0" width="1.7" height="1.7" fill="#cfdaee"/><rect x="236.8" y="279.6" width="1.7" height="1.7" fill="#7ca8d9"/><rect x="263.0" y="280.0" width="1.7" height="1.7" fill="#92b5df"/><rect x="288.6" y="279.7" width="1.7" height="1.7" fill="#dfe4f1"/><rect x="311.3" y="279.6" width="1.7" height="1.7" fill="#aac3e5"/><rect x="297.0" y="249.5" width="1.7" height="1.7" fill="#89b0dc"/><rect x="262.4" y="280.2" width="1.7" height="1.7" fill="#bacde9"/><rect x="257.9" y="278.5" width="1.7" height="1.7" fill="#c9d6ec"/><rect x="314.1" y="256.0" width="1.7" height="1.7" fill="#bcceea"/><rect x="261.0" y="230.2" width="1.7" height="1.7" fill="#124877"/><rect x="207.1" y="279.6" width="1.7" height="1.7" fill="#bbcde9"/><rect x="262.7" y="221.2" width="1.7" height="1.7" fill="#bfd0ea"/><rect x="238.9" y="277.9" width="1.7" height="1.7" fill="#9cbbe1"/><rect x="233.9" y="274.8" width="1.7" height="1.7" fill="#a9c3e5"/><rect x="241.2" y="252.4" width="1.7" height="1.7" fill="#659cd2"/><rect x="243.0" y="200.0" width="1.7" height="1.7" fill="#18578c"/><rect x="215.1" y="278.5" width="1.7" height="1.7" fill="#adc5e6"/><rect x="230.3" y="268.6" width="1.7" height="1.7" fill="#4d8fca"/><rect x="293.7" y="279.5" width="1.7" height="1.7" fill="#d1dbee"/><rect x="308.0" y="264.9" width="1.7" height="1.7" fill="#9bbae1"/><rect x="299.0" y="262.1" width="1.7" height="1.7" fill="#acc4e6"/><rect x="283.3" y="279.3" width="1.7" height="1.7" fill="#91b5df"/><rect x="228.7" y="272.5" width="1.7" height="1.7" fill="#c0d0ea"/><rect x="226.4" y="277.1" width="1.7" height="1.7" fill="#c2d2eb"/><rect x="257.5" y="278.4" width="1.7" height="1.7" fill="#226aa4"/><rect x="267.3" y="247.0" width="1.7" height="1.7" fill="#77a5d8"/><rect x="265.4" y="245.3" width="1.7" height="1.7" fill="#a1bee3"/><rect x="206.3" y="279.7" width="1.7" height="1.7" fill="#8ab0dd"/><rect x="249.7" y="260.6" width="1.7" height="1.7" fill="#dfe4f1"/><rect x="268.2" y="233.0" width="1.7" height="1.7" fill="#165285"/><rect x="236.8" y="242.8" width="1.7" height="1.7" fill="#10406c"/><rect x="228.1" y="231.8" width="1.7" height="1.7" fill="#ced9ed"/><rect x="214.5" y="263.4" width="1.7" height="1.7" fill="#92b5df"/><rect x="234.0" y="268.5" width="1.7" height="1.7" fill="#9ebce2"/><rect x="280.6" y="253.6" width="1.7" height="1.7" fill="#96b8e0"/><rect x="292.4" y="280.2" width="1.7" height="1.7" fill="#84addb"/><rect x="237.0" y="280.2" width="1.7" height="1.7" fill="#9dbce2"/><rect x="248.0" y="209.9" width="1.7" height="1.7" fill="#246ea9"/><rect x="249.8" y="271.8" width="1.7" height="1.7" fill="#89b0dc"/><rect x="298.3" y="280.2" width="1.7" height="1.7" fill="#adc5e6"/><rect x="279.0" y="246.9" width="1.7" height="1.7" fill="#2e7dbc"/><rect x="234.1" y="277.6" width="1.7" height="1.7" fill="#2d7cbb"/><rect x="240.7" y="253.0" width="1.7" height="1.7" fill="#d3ddef"/><rect x="269.6" y="279.8" width="1.7" height="1.7" fill="#c8d5ec"/><rect x="214.3" y="257.7" width="1.7" height="1.7" fill="#dae1f0"/><rect x="254.3" y="202.0" width="1.7" height="1.7" fill="#b9cce9"/><rect x="215.7" y="277.1" width="1.7" height="1.7" fill="#d3ddef"/><rect x="320.2" y="262.5" width="1.7" height="1.7" fill="#82acda"/><rect x="240.5" y="236.3" width="1.7" height="1.7" fill="#458bc7"/><rect x="223.1" y="280.2" width="1.7" height="1.7" fill="#a9c3e5"/><rect x="236.9" y="210.4" width="1.7" height="1.7" fill="#82acdb"/><rect x="253.0" y="273.2" width="1.7" height="1.7" fill="#95b7df"/><rect x="237.8" y="263.3" width="1.7" height="1.7" fill="#9bbae1"/><rect x="213.5" y="271.6" width="1.7" height="1.7" fill="#8fb3de"/><rect x="247.1" y="264.0" width="1.7" height="1.7" fill="#ccd8ed"/><rect x="236.2" y="232.8" width="1.7" height="1.7" fill="#a1bee3"/><rect x="212.8" y="235.6" width="1.7" height="1.7" fill="#a6c1e4"/><rect x="290.3" y="278.3" width="1.7" height="1.7" fill="#104370"/><rect x="222.5" y="266.3" width="1.7" height="1.7" fill="#ced9ed"/><rect x="214.2" y="242.1" width="1.7" height="1.7" fill="#88afdc"/><rect x="240.4" y="252.9" width="1.7" height="1.7" fill="#155082"/><rect x="251.7" y="233.0" width="1.7" height="1.7" fill="#85aedb"/><rect x="224.1" y="265.4" width="1.7" height="1.7" fill="#a6c1e4"/><rect x="280.6" y="233.4" width="1.7" height="1.7" fill="#3482c1"/><rect x="271.8" y="279.5" width="1.7" height="1.7" fill="#8eb3de"/><rect x="273.9" y="257.4" width="1.7" height="1.7" fill="#a7c1e4"/><rect x="225.3" y="227.2" width="1.7" height="1.7" fill="#d1dbee"/><rect x="217.2" y="227.2" width="1.7" height="1.7" fill="#2c79b8"/><rect x="248.0" y="230.1" width="1.7" height="1.7" fill="#649bd1"/><rect x="219.3" y="279.2" width="1.7" height="1.7" fill="#aac3e5"/><rect x="240.3" y="214.6" width="1.7" height="1.7" fill="#d8dfef"/><rect x="246.1" y="250.1" width="1.7" height="1.7" fill="#5c97cf"/><rect x="281.0" y="277.3" width="1.7" height="1.7" fill="#becfea"/><rect x="239.4" y="261.4" width="1.7" height="1.7" fill="#9dbbe2"/><rect x="245.5" y="279.7" width="1.7" height="1.7" fill="#bbcde9"/><rect x="252.4" y="246.9" width="1.7" height="1.7" fill="#85aedb"/><rect x="217.6" y="234.5" width="1.7" height="1.7" fill="#3985c3"/><rect x="217.6" y="272.4" width="1.7" height="1.7" fill="#bacce9"/><rect x="276.4" y="280.1" width="1.7" height="1.7" fill="#c1d1eb"/><rect x="214.3" y="269.6" width="1.7" height="1.7" fill="#8cb2dd"/><rect x="227.4" y="266.5" width="1.7" height="1.7" fill="#c2d2eb"/><rect x="263.5" y="280.2" width="1.7" height="1.7" fill="#bacde9"/><rect x="317.9" y="280.2" width="1.7" height="1.7" fill="#124775"/><rect x="254.3" y="242.7" width="1.7" height="1.7" fill="#77a6d8"/><rect x="244.3" y="234.4" width="1.7" height="1.7" fill="#114472"/><rect x="262.4" y="247.0" width="1.7" height="1.7" fill="#226aa5"/><rect x="254.8" y="278.1" width="1.7" height="1.7" fill="#8db2dd"/><rect x="274.8" y="248.3" width="1.7" height="1.7" fill="#d0dbee"/><rect x="327.2" y="274.5" width="1.7" height="1.7" fill="#c9d6ec"/><rect x="264.6" y="268.9" width="1.7" height="1.7" fill="#83addb"/><rect x="224.1" y="253.0" width="1.7" height="1.7" fill="#86aedc"/><rect x="265.8" y="224.7" width="1.7" height="1.7" fill="#8cb2dd"/><rect x="246.2" y="239.5" width="1.7" height="1.7" fill="#0f3f6a"/><rect x="233.8" y="244.7" width="1.7" height="1.7" fill="#9dbce2"/><rect x="325.3" y="280.2" width="1.7" height="1.7" fill="#2f7fbf"/><rect x="255.8" y="277.8" width="1.7" height="1.7" fill="#bcceea"/><rect x="264.6" y="277.9" width="1.7" height="1.7" fill="#c0d1eb"/><rect x="248.0" y="263.7" width="1.7" height="1.7" fill="#154f81"/><rect x="271.5" y="275.0" width="1.7" height="1.7" fill="#d2dbee"/><rect x="262.9" y="279.1" width="1.7" height="1.7" fill="#bacde9"/><rect x="265.8" y="269.7" width="1.7" height="1.7" fill="#c1d1eb"/><rect x="305.8" y="279.2" width="1.7" height="1.7" fill="#95b7e0"/><rect x="247.9" y="223.7" width="1.7" height="1.7" fill="#2671ad"/><rect x="221.1" y="277.5" width="1.7" height="1.7" fill="#aec6e6"/><rect x="322.8" y="280.2" width="1.7" height="1.7" fill="#84addb"/><rect x="217.9" y="271.4" width="1.7" height="1.7" fill="#c9d6ec"/><rect x="212.4" y="277.5" width="1.7" height="1.7" fill="#aac3e5"/><rect x="270.8" y="239.9" width="1.7" height="1.7" fill="#3a86c3"/><rect x="275.8" y="270.4" width="1.7" height="1.7" fill="#2d7bb9"/><rect x="211.2" y="279.7" width="1.7" height="1.7" fill="#d7dfef"/><rect x="237.3" y="273.2" width="1.7" height="1.7" fill="#c9d6ec"/><rect x="212.0" y="280.0" width="1.7" height="1.7" fill="#b0c7e7"/><rect x="261.2" y="233.3" width="1.7" height="1.7" fill="#aec6e6"/><rect x="242.0" y="198.7" width="1.7" height="1.7" fill="#5091cb"/><rect x="313.5" y="280.2" width="1.7" height="1.7" fill="#84addb"/><rect x="209.4" y="280.2" width="1.7" height="1.7" fill="#d3dcee"/><rect x="272.9" y="280.2" width="1.7" height="1.7" fill="#c9d6ec"/><rect x="272.0" y="274.5" width="1.7" height="1.7" fill="#dfe4f1"/><rect x="256.4" y="271.7" width="1.7" height="1.7" fill="#80abda"/><rect x="227.6" y="253.8" width="1.7" height="1.7" fill="#dbe2f0"/><rect x="216.3" y="244.6" width="1.7" height="1.7" fill="#afc6e6"/><rect x="241.9" y="277.7" width="1.7" height="1.7" fill="#84addb"/><rect x="213.6" y="274.4" width="1.7" height="1.7" fill="#2e7cbb"/><rect x="236.7" y="237.9" width="1.7" height="1.7" fill="#cdd9ed"/><rect x="237.6" y="216.9" width="1.7" height="1.7" fill="#d7dfef"/><rect x="269.1" y="244.7" width="1.7" height="1.7" fill="#10406d"/><rect x="293.5" y="276.0" width="1.7" height="1.7" fill="#87afdc"/><rect x="249.2" y="274.9" width="1.7" height="1.7" fill="#d2dcee"/><rect x="245.9" y="260.5" width="1.7" height="1.7" fill="#83acdb"/><rect x="222.9" y="245.8" width="1.7" height="1.7" fill="#3d87c4"/><rect x="228.0" y="273.8" width="1.7" height="1.7" fill="#cbd7ed"/><rect x="270.3" y="274.8" width="1.7" height="1.7" fill="#c2d2eb"/><rect x="243.7" y="262.7" width="1.7" height="1.7" fill="#d2dcee"/><rect x="221.5" y="269.8" width="1.7" height="1.7" fill="#cbd7ed"/><rect x="233.0" y="271.8" width="1.7" height="1.7" fill="#a3bfe3"/><rect x="298.8" y="271.0" width="1.7" height="1.7" fill="#a7c2e4"/><rect x="240.3" y="258.0" width="1.7" height="1.7" fill="#d4ddef"/><rect x="243.9" y="232.1" width="1.7" height="1.7" fill="#d4ddef"/><rect x="258.2" y="265.2" width="1.7" height="1.7" fill="#aac3e5"/><rect x="260.2" y="259.7" width="1.7" height="1.7" fill="#ced9ed"/><rect x="221.6" y="224.5" width="1.7" height="1.7" fill="#98b9e0"/><rect x="275.9" y="236.9" width="1.7" height="1.7" fill="#c2d2eb"/><rect x="223.0" y="274.8" width="1.7" height="1.7" fill="#9fbde2"/><rect x="243.1" y="280.2" width="1.7" height="1.7" fill="#88afdc"/><rect x="240.1" y="261.6" width="1.7" height="1.7" fill="#b8cce9"/><rect x="230.8" y="277.7" width="1.7" height="1.7" fill="#d3ddef"/><rect x="240.7" y="275.7" width="1.7" height="1.7" fill="#2e7dbd"/><rect x="294.5" y="274.7" width="1.7" height="1.7" fill="#dbe1f0"/><rect x="249.7" y="216.5" width="1.7" height="1.7" fill="#2874b1"/><rect x="265.4" y="276.9" width="1.7" height="1.7" fill="#124877"/><rect x="266.8" y="279.0" width="1.7" height="1.7" fill="#d4ddef"/><rect x="239.9" y="274.5" width="1.7" height="1.7" fill="#d0daee"/><rect x="268.7" y="266.2" width="1.7" height="1.7" fill="#dbe1f0"/><rect x="257.9" y="259.9" width="1.7" height="1.7" fill="#9dbce2"/><rect x="236.6" y="280.0" width="1.7" height="1.7" fill="#d5deef"/><rect x="279.2" y="271.1" width="1.7" height="1.7" fill="#87afdc"/><rect x="274.3" y="240.2" width="1.7" height="1.7" fill="#74a4d7"/><rect x="210.9" y="269.5" width="1.7" height="1.7" fill="#dbe2f0"/><rect x="275.2" y="241.8" width="1.7" height="1.7" fill="#97b8e0"/><rect x="244.0" y="275.9" width="1.7" height="1.7" fill="#cdd9ed"/><rect x="216.9" y="277.3" width="1.7" height="1.7" fill="#c9d6ec"/><rect x="228.1" y="277.4" width="1.7" height="1.7" fill="#d0daee"/><rect x="263.0" y="275.0" width="1.7" height="1.7" fill="#b9cce9"/><rect x="211.8" y="251.0" width="1.7" height="1.7" fill="#246eaa"/><rect x="254.4" y="278.0" width="1.7" height="1.7" fill="#aec5e6"/><rect x="301.8" y="276.8" width="1.7" height="1.7" fill="#a9c3e5"/><rect x="220.7" y="242.5" width="1.7" height="1.7" fill="#cad7ed"/><rect x="257.9" y="270.3" width="1.7" height="1.7" fill="#84addb"/><rect x="228.7" y="225.1" width="1.7" height="1.7" fill="#7faada"/><rect x="251.6" y="250.0" width="1.7" height="1.7" fill="#d5deef"/><rect x="306.0" y="265.0" width="1.7" height="1.7" fill="#88afdc"/><rect x="311.9" y="274.3" width="1.7" height="1.7" fill="#b9cce9"/><rect x="211.3" y="274.9" width="1.7" height="1.7" fill="#5191cb"/><rect x="314.3" y="257.4" width="1.7" height="1.7" fill="#a6c1e4"/><rect x="257.4" y="219.4" width="1.7" height="1.7" fill="#a6c1e4"/><rect x="238.3" y="224.3" width="1.7" height="1.7" fill="#2d7bba"/><rect x="237.4" y="262.7" width="1.7" height="1.7" fill="#cbd7ed"/><rect x="247.6" y="278.6" width="1.7" height="1.7" fill="#cbd7ed"/><rect x="237.0" y="270.0" width="1.7" height="1.7" fill="#a0bde2"/><rect x="253.7" y="214.8" width="1.7" height="1.7" fill="#236ca7"/><rect x="231.2" y="247.4" width="1.7" height="1.7" fill="#3f88c5"/><rect x="307.0" y="274.6" width="1.7" height="1.7" fill="#bbcde9"/><rect x="264.0" y="253.3" width="1.7" height="1.7" fill="#98b9e0"/><rect x="244.9" y="244.2" width="1.7" height="1.7" fill="#9bbae1"/><rect x="265.6" y="229.8" width="1.7" height="1.7" fill="#699ed3"/><rect x="313.1" y="258.3" width="1.7" height="1.7" fill="#d7dfef"/><rect x="267.0" y="271.2" width="1.7" height="1.7" fill="#bdceea"/><rect x="304.4" y="278.3" width="1.7" height="1.7" fill="#1f66a0"/><rect x="261.5" y="277.1" width="1.7" height="1.7" fill="#7faada"/><rect x="212.9" y="241.6" width="1.7" height="1.7" fill="#86aedc"/><rect x="231.3" y="279.9" width="1.7" height="1.7" fill="#abc4e5"/><rect x="235.2" y="271.5" width="1.7" height="1.7" fill="#ced9ed"/><rect x="300.2" y="248.6" width="1.7" height="1.7" fill="#79a7d8"/><rect x="300.8" y="280.0" width="1.7" height="1.7" fill="#cfdaee"/><rect x="234.6" y="229.0" width="1.7" height="1.7" fill="#bfd0ea"/><rect x="220.0" y="223.3" width="1.7" height="1.7" fill="#6099d0"/><rect x="247.2" y="278.9" width="1.7" height="1.7" fill="#c3d2eb"/><rect x="239.5" y="279.4" width="1.7" height="1.7" fill="#d5ddef"/><rect x="300.6" y="279.4" width="1.7" height="1.7" fill="#96b8e0"/><rect x="238.7" y="280.2" width="1.7" height="1.7" fill="#2d7cbb"/><rect x="269.3" y="279.5" width="1.7" height="1.7" fill="#7ba8d9"/><rect x="271.2" y="278.9" width="1.7" height="1.7" fill="#bcceea"/><rect x="320.3" y="275.9" width="1.7" height="1.7" fill="#c2d2eb"/><rect x="283.8" y="246.5" width="1.7" height="1.7" fill="#c6d4ec"/><rect x="217.5" y="265.0" width="1.7" height="1.7" fill="#c6d4ec"/><rect x="213.8" y="278.5" width="1.7" height="1.7" fill="#86aedc"/><rect x="246.4" y="206.0" width="1.7" height="1.7" fill="#3080c0"/><rect x="230.7" y="271.0" width="1.7" height="1.7" fill="#bdceea"/><rect x="241.2" y="279.2" width="1.7" height="1.7" fill="#c3d2eb"/><rect x="226.0" y="274.9" width="1.7" height="1.7" fill="#b8cce9"/><rect x="305.0" y="279.5" width="1.7" height="1.7" fill="#dbe1f0"/><rect x="211.7" y="277.5" width="1.7" height="1.7" fill="#2c7ab9"/><rect x="278.8" y="267.3" width="1.7" height="1.7" fill="#8eb3de"/><rect x="211.6" y="268.6" width="1.7" height="1.7" fill="#165387"/><rect x="299.4" y="250.8" width="1.7" height="1.7" fill="#dee3f1"/><rect x="211.6" y="280.2" width="1.7" height="1.7" fill="#a5c0e4"/><rect x="273.8" y="271.8" width="1.7" height="1.7" fill="#9cbbe1"/><rect x="256.6" y="279.1" width="1.7" height="1.7" fill="#c1d1eb"/><rect x="235.2" y="280.0" width="1.7" height="1.7" fill="#a3bfe3"/><rect x="223.4" y="238.6" width="1.7" height="1.7" fill="#144d7f"/><rect x="232.7" y="245.2" width="1.7" height="1.7" fill="#84addb"/><rect x="238.9" y="268.7" width="1.7" height="1.7" fill="#cbd8ed"/><rect x="224.8" y="273.0" width="1.7" height="1.7" fill="#b7cbe9"/><rect x="252.4" y="274.6" width="1.7" height="1.7" fill="#c5d4ec"/><rect x="289.2" y="253.2" width="1.7" height="1.7" fill="#246eaa"/><rect x="246.9" y="241.1" width="1.7" height="1.7" fill="#4b8ec9"/><rect x="246.7" y="221.0" width="1.7" height="1.7" fill="#0e3c66"/><rect x="252.6" y="248.6" width="1.7" height="1.7" fill="#226ba6"/><rect x="269.1" y="238.3" width="1.7" height="1.7" fill="#124675"/><rect x="205.5" y="279.1" width="1.7" height="1.7" fill="#8bb1dd"/><rect x="251.8" y="276.4" width="1.7" height="1.7" fill="#89b0dc"/><rect x="263.0" y="273.3" width="1.7" height="1.7" fill="#82acdb"/><rect x="248.1" y="228.0" width="1.7" height="1.7" fill="#d7dfef"/><rect x="233.1" y="279.9" width="1.7" height="1.7" fill="#9dbbe2"/><rect x="239.6" y="227.6" width="1.7" height="1.7" fill="#9fbde2"/><rect x="232.5" y="267.2" width="1.7" height="1.7" fill="#a1bee3"/><rect x="247.3" y="253.9" width="1.7" height="1.7" fill="#8db2dd"/><rect x="241.0" y="237.2" width="1.7" height="1.7" fill="#c6d4ec"/><rect x="210.2" y="279.0" width="1.7" height="1.7" fill="#cdd9ed"/><rect x="209.4" y="278.3" width="1.7" height="1.7" fill="#a7c2e4"/><rect x="257.6" y="221.0" width="1.7" height="1.7" fill="#bfd0ea"/><rect x="236.6" y="269.1" width="1.7" height="1.7" fill="#9abae1"/><rect x="213.7" y="280.2" width="1.7" height="1.7" fill="#a7c1e4"/><rect x="234.7" y="265.6" width="1.7" height="1.7" fill="#abc4e5"/><rect x="250.5" y="271.3" width="1.7" height="1.7" fill="#bfd0ea"/><rect x="253.5" y="278.2" width="1.7" height="1.7" fill="#bacde9"/><rect x="257.1" y="278.7" width="1.7" height="1.7" fill="#c7d5ec"/><rect x="303.8" y="249.8" width="1.7" height="1.7" fill="#81abda"/><rect x="306.1" y="272.8" width="1.7" height="1.7" fill="#a8c2e4"/><rect x="244.9" y="277.2" width="1.7" height="1.7" fill="#c8d5ec"/><rect x="283.8" y="269.5" width="1.7" height="1.7" fill="#a5c1e4"/><rect x="211.5" y="242.3" width="1.7" height="1.7" fill="#79a7d8"/><rect x="232.9" y="204.2" width="1.7" height="1.7" fill="#84addb"/><rect x="246.5" y="279.8" width="1.7" height="1.7" fill="#83addb"/><rect x="325.5" y="275.4" width="1.7" height="1.7" fill="#dce2f0"/><rect x="307.2" y="279.9" width="1.7" height="1.7" fill="#cad7ed"/><rect x="227.3" y="274.5" width="1.7" height="1.7" fill="#c4d3eb"/><rect x="245.3" y="210.7" width="1.7" height="1.7" fill="#2168a3"/><rect x="220.4" y="280.0" width="1.7" height="1.7" fill="#9bbae1"/><rect x="252.2" y="280.2" width="1.7" height="1.7" fill="#85aedb"/><rect x="258.9" y="215.6" width="1.7" height="1.7" fill="#95b7df"/><rect x="276.7" y="252.1" width="1.7" height="1.7" fill="#226ba6"/><rect x="223.5" y="217.1" width="1.7" height="1.7" fill="#155082"/><rect x="234.7" y="277.0" width="1.7" height="1.7" fill="#a3bfe3"/><rect x="246.2" y="232.4" width="1.7" height="1.7" fill="#cbd7ed"/><rect x="254.4" y="201.1" width="1.7" height="1.7" fill="#134a7b"/><rect x="287.7" y="264.9" width="1.7" height="1.7" fill="#87afdc"/><rect x="260.0" y="257.4" width="1.7" height="1.7" fill="#0e3c67"/><rect x="284.2" y="280.1" width="1.7" height="1.7" fill="#1f66a0"/><rect x="247.2" y="279.9" width="1.7" height="1.7" fill="#17558a"/><rect x="255.1" y="231.8" width="1.7" height="1.7" fill="#0e3b65"/><rect x="237.3" y="264.3" width="1.7" height="1.7" fill="#c5d4ec"/><rect x="258.8" y="258.8" width="1.7" height="1.7" fill="#9ebce2"/><rect x="236.4" y="241.0" width="1.7" height="1.7" fill="#a8c2e5"/><rect x="240.0" y="278.6" width="1.7" height="1.7" fill="#84addb"/><rect x="222.3" y="275.5" width="1.7" height="1.7" fill="#6099d0"/><rect x="290.0" y="244.7" width="1.7" height="1.7" fill="#95b7df"/><rect x="245.6" y="274.2" width="1.7" height="1.7" fill="#a6c1e4"/><rect x="235.6" y="270.9" width="1.7" height="1.7" fill="#b9cce9"/><rect x="245.5" y="276.9" width="1.7" height="1.7" fill="#b7cbe9"/><rect x="242.1" y="217.5" width="1.7" height="1.7" fill="#9abae1"/><rect x="303.1" y="264.5" width="1.7" height="1.7" fill="#2771ae"/><rect x="243.2" y="277.0" width="1.7" height="1.7" fill="#a1bee3"/><rect x="224.1" y="246.6" width="1.7" height="1.7" fill="#dde3f1"/><rect x="246.0" y="202.0" width="1.7" height="1.7" fill="#ced9ed"/><rect x="299.3" y="275.6" width="1.7" height="1.7" fill="#89b0dc"/><rect x="296.8" y="274.1" width="1.7" height="1.7" fill="#aec6e6"/><rect x="274.2" y="279.2" width="1.7" height="1.7" fill="#2975b3"/><rect x="244.7" y="257.8" width="1.7" height="1.7" fill="#98b8e0"/><rect x="257.4" y="225.1" width="1.7" height="1.7" fill="#91b5df"/><rect x="239.4" y="255.2" width="1.7" height="1.7" fill="#c9d6ec"/><rect x="255.3" y="280.2" width="1.7" height="1.7" fill="#92b5df"/><rect x="254.0" y="233.6" width="1.7" height="1.7" fill="#cdd9ed"/><rect x="215.5" y="211.2" width="1.7" height="1.7" fill="#ced9ed"/><rect x="252.6" y="249.2" width="1.7" height="1.7" fill="#4b8ec9"/><rect x="270.6" y="279.5" width="1.7" height="1.7" fill="#d7dfef"/><rect x="280.3" y="247.7" width="1.7" height="1.7" fill="#d5deef"/><rect x="250.2" y="257.7" width="1.7" height="1.7" fill="#a4c0e4"/><rect x="241.0" y="273.0" width="1.7" height="1.7" fill="#d6dfef"/><rect x="273.2" y="258.1" width="1.7" height="1.7" fill="#abc4e5"/><rect x="294.8" y="260.8" width="1.7" height="1.7" fill="#9fbde2"/><rect x="252.8" y="209.7" width="1.7" height="1.7" fill="#7aa7d9"/><rect x="260.3" y="223.9" width="1.7" height="1.7" fill="#134979"/><rect x="304.4" y="279.9" width="1.7" height="1.7" fill="#afc6e6"/><rect x="215.8" y="223.0" width="1.7" height="1.7" fill="#dee3f1"/><rect x="281.0" y="269.8" width="1.7" height="1.7" fill="#d9e0f0"/><rect x="290.7" y="279.0" width="1.7" height="1.7" fill="#c6d4ec"/><rect x="255.9" y="243.6" width="1.7" height="1.7" fill="#a3bfe3"/><rect x="310.1" y="268.6" width="1.7" height="1.7" fill="#154f80"/><rect x="277.1" y="243.4" width="1.7" height="1.7" fill="#4d8fca"/><rect x="249.8" y="250.0" width="1.7" height="1.7" fill="#80abda"/><rect x="223.8" y="279.5" width="1.7" height="1.7" fill="#8ab1dd"/><rect x="238.5" y="257.5" width="1.7" height="1.7" fill="#1a5e96"/><rect x="225.0" y="228.1" width="1.7" height="1.7" fill="#80aada"/><rect x="266.9" y="270.1" width="1.7" height="1.7" fill="#d8dfef"/><rect x="278.1" y="279.3" width="1.7" height="1.7" fill="#bcceea"/><rect x="254.0" y="274.8" width="1.7" height="1.7" fill="#dbe2f0"/><rect x="244.2" y="277.4" width="1.7" height="1.7" fill="#d1dbee"/><rect x="239.8" y="253.8" width="1.7" height="1.7" fill="#8ab1dd"/><rect x="261.6" y="235.8" width="1.7" height="1.7" fill="#8eb3de"/><rect x="250.2" y="259.8" width="1.7" height="1.7" fill="#9abae1"/><rect x="246.0" y="272.6" width="1.7" height="1.7" fill="#d8dfef"/><rect x="308.6" y="279.0" width="1.7" height="1.7" fill="#d9e1f0"/><rect x="315.6" y="263.5" width="1.7" height="1.7" fill="#c6d4ec"/><rect x="288.9" y="280.2" width="1.7" height="1.7" fill="#c0d1eb"/><rect x="214.6" y="278.9" width="1.7" height="1.7" fill="#dae1f0"/><rect x="252.9" y="272.6" width="1.7" height="1.7" fill="#90b4de"/><rect x="290.9" y="259.5" width="1.7" height="1.7" fill="#b0c7e7"/><rect x="232.8" y="268.6" width="1.7" height="1.7" fill="#8ab1dd"/><rect x="261.0" y="220.9" width="1.7" height="1.7" fill="#d0dbee"/><rect x="242.8" y="280.2" width="1.7" height="1.7" fill="#a6c1e4"/><rect x="249.5" y="248.7" width="1.7" height="1.7" fill="#195c94"/><rect x="219.4" y="194.5" width="1.7" height="1.7" fill="#2f7ebe"/><rect x="204.1" y="280.2" width="1.7" height="1.7" fill="#b0c7e7"/><rect x="277.0" y="278.3" width="1.7" height="1.7" fill="#83acdb"/><rect x="257.5" y="241.3" width="1.7" height="1.7" fill="#aac3e5"/><rect x="211.2" y="280.1" width="1.7" height="1.7" fill="#c5d3eb"/><rect x="298.3" y="280.1" width="1.7" height="1.7" fill="#8bb1dd"/><rect x="277.5" y="236.0" width="1.7" height="1.7" fill="#a2bfe3"/><rect x="297.1" y="262.9" width="1.7" height="1.7" fill="#a5c0e4"/><rect x="215.8" y="227.7" width="1.7" height="1.7" fill="#80aada"/><rect x="217.8" y="228.0" width="1.7" height="1.7" fill="#d8e0f0"/><rect x="267.9" y="274.7" width="1.7" height="1.7" fill="#649cd1"/><rect x="229.6" y="248.3" width="1.7" height="1.7" fill="#94b7df"/><rect x="225.1" y="271.8" width="1.7" height="1.7" fill="#8bb1dd"/><rect x="248.3" y="208.4" width="1.7" height="1.7" fill="#b6cae8"/><rect x="253.0" y="200.5" width="1.7" height="1.7" fill="#7ca8d9"/><rect x="281.7" y="255.8" width="1.7" height="1.7" fill="#89b0dc"/><rect x="246.1" y="203.8" width="1.7" height="1.7" fill="#195c93"/><rect x="211.6" y="280.0" width="1.7" height="1.7" fill="#bfd0ea"/><rect x="219.8" y="260.9" width="1.7" height="1.7" fill="#bfd0ea"/><rect x="299.2" y="274.0" width="1.7" height="1.7" fill="#c9d6ec"/><rect x="240.5" y="262.6" width="1.7" height="1.7" fill="#9abae1"/><rect x="286.3" y="267.5" width="1.7" height="1.7" fill="#cbd7ed"/><rect x="244.4" y="258.3" width="1.7" height="1.7" fill="#3985c3"/><rect x="254.3" y="275.3" width="1.7" height="1.7" fill="#aac3e5"/><rect x="290.6" y="274.9" width="1.7" height="1.7" fill="#aec6e6"/><rect x="305.3" y="279.8" width="1.7" height="1.7" fill="#2c79b8"/><rect x="211.7" y="253.8" width="1.7" height="1.7" fill="#9cbbe2"/><rect x="233.4" y="279.0" width="1.7" height="1.7" fill="#0f3f6b"/><rect x="312.6" y="262.4" width="1.7" height="1.7" fill="#7faada"/><rect x="261.2" y="271.2" width="1.7" height="1.7" fill="#c4d3eb"/><rect x="228.7" y="252.2" width="1.7" height="1.7" fill="#124978"/><rect x="221.3" y="206.4" width="1.7" height="1.7" fill="#d4ddef"/><rect x="222.2" y="272.8" width="1.7" height="1.7" fill="#d3dcee"/><rect x="258.9" y="246.9" width="1.7" height="1.7" fill="#1a5d95"/><rect x="279.3" y="257.7" width="1.7" height="1.7" fill="#4088c5"/><rect x="272.3" y="271.6" width="1.7" height="1.7" fill="#8cb2dd"/><rect x="311.6" y="253.4" width="1.7" height="1.7" fill="#134979"/><rect x="223.5" y="280.2" width="1.7" height="1.7" fill="#dae1f0"/><rect x="286.1" y="274.5" width="1.7" height="1.7" fill="#c5d3eb"/><rect x="222.4" y="207.6" width="1.7" height="1.7" fill="#a9c3e5"/><rect x="229.5" y="275.1" width="1.7" height="1.7" fill="#c4d3eb"/><rect x="228.2" y="239.2" width="1.7" height="1.7" fill="#3080bf"/><rect x="248.7" y="254.3" width="1.7" height="1.7" fill="#1b6098"/><rect x="244.0" y="279.9" width="1.7" height="1.7" fill="#a3bfe3"/><rect x="304.9" y="279.9" width="1.7" height="1.7" fill="#9abae1"/><rect x="212.3" y="276.3" width="1.7" height="1.7" fill="#dbe1f0"/><rect x="215.2" y="280.2" width="1.7" height="1.7" fill="#d9e0f0"/><rect x="249.1" y="245.8" width="1.7" height="1.7" fill="#b3c9e7"/><rect x="226.4" y="278.3" width="1.7" height="1.7" fill="#92b5df"/><rect x="274.0" y="250.3" width="1.7" height="1.7" fill="#c9d6ec"/><rect x="237.7" y="278.6" width="1.7" height="1.7" fill="#81abda"/><rect x="301.3" y="279.9" width="1.7" height="1.7" fill="#d1dbee"/><rect x="220.8" y="273.6" width="1.7" height="1.7" fill="#c4d3eb"/><rect x="220.5" y="274.7" width="1.7" height="1.7" fill="#c6d4ec"/><rect x="264.0" y="274.4" width="1.7" height="1.7" fill="#0f3e69"/><rect x="228.9" y="269.3" width="1.7" height="1.7" fill="#a1bee3"/><rect x="253.7" y="258.9" width="1.7" height="1.7" fill="#a0bde2"/><rect x="295.8" y="278.7" width="1.7" height="1.7" fill="#bcceea"/><rect x="306.3" y="272.4" width="1.7" height="1.7" fill="#cdd8ed"/><rect x="323.4" y="279.9" width="1.7" height="1.7" fill="#84addb"/><rect x="222.3" y="236.4" width="1.7" height="1.7" fill="#dfe4f1"/><rect x="276.1" y="276.6" width="1.7" height="1.7" fill="#0d3860"/><rect x="259.9" y="277.9" width="1.7" height="1.7" fill="#a3bfe3"/><rect x="233.9" y="269.5" width="1.7" height="1.7" fill="#91b5df"/><rect x="249.3" y="261.4" width="1.7" height="1.7" fill="#c1d1eb"/><rect x="233.8" y="260.2" width="1.7" height="1.7" fill="#becfea"/><rect x="262.8" y="279.7" width="1.7" height="1.7" fill="#87afdc"/><rect x="317.5" y="268.8" width="1.7" height="1.7" fill="#619ad0"/><rect x="254.4" y="207.0" width="1.7" height="1.7" fill="#dae1f0"/><rect x="216.8" y="279.4" width="1.7" height="1.7" fill="#abc4e5"/><rect x="221.5" y="270.4" width="1.7" height="1.7" fill="#7eaada"/><rect x="259.4" y="209.7" width="1.7" height="1.7" fill="#becfea"/><rect x="253.2" y="276.6" width="1.7" height="1.7" fill="#b4c9e8"/><rect x="265.0" y="265.8" width="1.7" height="1.7" fill="#97b8e0"/><rect x="261.2" y="270.1" width="1.7" height="1.7" fill="#ccd8ed"/><rect x="239.4" y="203.0" width="1.7" height="1.7" fill="#7ca8d9"/><rect x="261.9" y="279.5" width="1.7" height="1.7" fill="#cfdaee"/><rect x="288.4" y="258.2" width="1.7" height="1.7" fill="#a6c1e4"/><rect x="262.3" y="279.1" width="1.7" height="1.7" fill="#87afdc"/><rect x="267.8" y="223.8" width="1.7" height="1.7" fill="#d7dfef"/><rect x="222.3" y="279.6" width="1.7" height="1.7" fill="#6fa2d5"/><rect x="253.9" y="212.2" width="1.7" height="1.7" fill="#7aa7d9"/><rect x="269.8" y="274.1" width="1.7" height="1.7" fill="#ced9ed"/><rect x="299.6" y="275.0" width="1.7" height="1.7" fill="#d4ddef"/><rect x="238.3" y="260.6" width="1.7" height="1.7" fill="#8bb1dd"/><rect x="223.6" y="280.2" width="1.7" height="1.7" fill="#ced9ed"/><rect x="285.1" y="277.0" width="1.7" height="1.7" fill="#a7c1e4"/><rect x="235.9" y="249.4" width="1.7" height="1.7" fill="#1d629b"/><rect x="267.1" y="280.0" width="1.7" height="1.7" fill="#7aa7d9"/><rect x="248.5" y="260.3" width="1.7" height="1.7" fill="#1d639c"/><rect x="288.6" y="252.6" width="1.7" height="1.7" fill="#b0c7e7"/><rect x="273.8" y="248.3" width="1.7" height="1.7" fill="#a5c1e4"/><rect x="211.4" y="242.6" width="1.7" height="1.7" fill="#2a76b4"/><rect x="219.5" y="251.5" width="1.7" height="1.7" fill="#7ba8d9"/><rect x="259.8" y="278.9" width="1.7" height="1.7" fill="#b9cce9"/><rect x="270.3" y="279.3" width="1.7" height="1.7" fill="#a0bee3"/><rect x="220.3" y="221.9" width="1.7" height="1.7" fill="#86aedc"/><rect x="326.7" y="270.6" width="1.7" height="1.7" fill="#cad6ec"/><rect x="265.1" y="279.5" width="1.7" height="1.7" fill="#246da9"/><rect x="291.2" y="277.3" width="1.7" height="1.7" fill="#becfea"/><rect x="246.4" y="257.5" width="1.7" height="1.7" fill="#2c7ab8"/><rect x="262.2" y="278.4" width="1.7" height="1.7" fill="#aac3e5"/><rect x="223.5" y="268.7" width="1.7" height="1.7" fill="#95b7e0"/><rect x="270.3" y="268.5" width="1.7" height="1.7" fill="#b2c8e7"/><rect x="304.6" y="268.7" width="1.7" height="1.7" fill="#2b78b6"/><rect x="217.9" y="278.0" width="1.7" height="1.7" fill="#9dbbe2"/><rect x="277.4" y="235.7" width="1.7" height="1.7" fill="#dce2f0"/><rect x="273.2" y="277.9" width="1.7" height="1.7" fill="#dee4f1"/><rect x="291.0" y="275.4" width="1.7" height="1.7" fill="#dae1f0"/><rect x="251.5" y="271.7" width="1.7" height="1.7" fill="#a1bee3"/><rect x="251.3" y="261.4" width="1.7" height="1.7" fill="#89b0dd"/><rect x="211.5" y="272.6" width="1.7" height="1.7" fill="#d5deef"/><rect x="226.3" y="242.0" width="1.7" height="1.7" fill="#9cbbe1"/><rect x="286.9" y="278.8" width="1.7" height="1.7" fill="#c9d6ec"/><rect x="251.4" y="272.4" width="1.7" height="1.7" fill="#155082"/><rect x="237.0" y="214.6" width="1.7" height="1.7" fill="#236ca8"/><rect x="284.5" y="270.5" width="1.7" height="1.7" fill="#d4ddef"/><rect x="209.4" y="280.2" width="1.7" height="1.7" fill="#1c619a"/><rect x="272.3" y="245.2" width="1.7" height="1.7" fill="#78a6d8"/><rect x="254.7" y="234.4" width="1.7" height="1.7" fill="#2c7ab9"/><rect x="238.0" y="224.5" width="1.7" height="1.7" fill="#1e649d"/><rect x="266.3" y="257.5" width="1.7" height="1.7" fill="#a5c0e4"/><rect x="224.9" y="247.2" width="1.7" height="1.7" fill="#ccd8ed"/><rect x="244.6" y="246.6" width="1.7" height="1.7" fill="#93b6df"/><rect x="243.0" y="239.7" width="1.7" height="1.7" fill="#d0dbee"/><rect x="256.2" y="278.4" width="1.7" height="1.7" fill="#b9cce9"/><rect x="233.6" y="237.9" width="1.7" height="1.7" fill="#4f90ca"/><rect x="268.4" y="255.8" width="1.7" height="1.7" fill="#3080c0"/><rect x="265.5" y="277.2" width="1.7" height="1.7" fill="#97b8e0"/><rect x="252.3" y="274.3" width="1.7" height="1.7" fill="#8bb1dd"/><rect x="233.4" y="236.9" width="1.7" height="1.7" fill="#96b7e0"/><rect x="275.2" y="253.5" width="1.7" height="1.7" fill="#2772af"/><rect x="231.0" y="252.1" width="1.7" height="1.7" fill="#98b9e0"/><rect x="218.9" y="279.5" width="1.7" height="1.7" fill="#cfdaee"/><rect x="222.7" y="233.4" width="1.7" height="1.7" fill="#5292cb"/><rect x="285.4" y="274.9" width="1.7" height="1.7" fill="#c5d4ec"/><rect x="310.1" y="272.1" width="1.7" height="1.7" fill="#c5d4ec"/><rect x="314.4" y="261.6" width="1.7" height="1.7" fill="#256fab"/><rect x="238.6" y="211.6" width="1.7" height="1.7" fill="#d6deef"/><rect x="241.0" y="240.3" width="1.7" height="1.7" fill="#155082"/><rect x="228.3" y="228.6" width="1.7" height="1.7" fill="#9cbbe1"/><rect x="247.1" y="260.7" width="1.7" height="1.7" fill="#bdcfea"/><rect x="253.2" y="225.2" width="1.7" height="1.7" fill="#a0bde2"/><rect x="257.2" y="250.1" width="1.7" height="1.7" fill="#649bd1"/><rect x="261.1" y="211.3" width="1.7" height="1.7" fill="#d6deef"/><rect x="271.8" y="278.3" width="1.7" height="1.7" fill="#dae1f0"/><rect x="288.7" y="261.7" width="1.7" height="1.7" fill="#abc4e5"/><rect x="245.8" y="246.6" width="1.7" height="1.7" fill="#90b4de"/><rect x="220.2" y="216.2" width="1.7" height="1.7" fill="#d6dfef"/><rect x="291.3" y="266.1" width="1.7" height="1.7" fill="#9cbbe1"/><rect x="228.8" y="250.6" width="1.7" height="1.7" fill="#72a3d6"/><rect x="220.9" y="197.9" width="1.7" height="1.7" fill="#6ca0d4"/><rect x="302.9" y="280.0" width="1.7" height="1.7" fill="#d4ddef"/><rect x="273.1" y="278.4" width="1.7" height="1.7" fill="#83acdb"/><rect x="277.1" y="262.6" width="1.7" height="1.7" fill="#659cd2"/><rect x="304.0" y="268.3" width="1.7" height="1.7" fill="#d2dbee"/><rect x="227.3" y="256.1" width="1.7" height="1.7" fill="#70a2d5"/><rect x="225.6" y="266.3" width="1.7" height="1.7" fill="#b4c9e8"/><rect x="247.8" y="198.6" width="1.7" height="1.7" fill="#2b78b6"/><rect x="223.0" y="276.3" width="1.7" height="1.7" fill="#cad7ed"/><rect x="225.1" y="279.3" width="1.7" height="1.7" fill="#c7d5ec"/><rect x="252.8" y="270.2" width="1.7" height="1.7" fill="#c1d1eb"/><rect x="291.2" y="263.2" width="1.7" height="1.7" fill="#d7dfef"/><rect x="310.5" y="279.3" width="1.7" height="1.7" fill="#8fb4de"/><rect x="218.0" y="232.6" width="1.7" height="1.7" fill="#458bc7"/><rect x="257.5" y="201.3" width="1.7" height="1.7" fill="#2975b3"/><rect x="233.4" y="217.7" width="1.7" height="1.7" fill="#2975b2"/><rect x="282.5" y="256.0" width="1.7" height="1.7" fill="#c0d1eb"/><rect x="228.4" y="220.1" width="1.7" height="1.7" fill="#18598f"/><rect x="229.2" y="269.5" width="1.7" height="1.7" fill="#a7c2e4"/><rect x="252.2" y="247.6" width="1.7" height="1.7" fill="#124674"/><rect x="305.5" y="279.1" width="1.7" height="1.7" fill="#96b8e0"/><rect x="267.4" y="243.0" width="1.7" height="1.7" fill="#226ba6"/><rect x="296.8" y="270.1" width="1.7" height="1.7" fill="#81abda"/><rect x="240.3" y="208.9" width="1.7" height="1.7" fill="#134a79"/><rect x="248.5" y="195.4" width="1.7" height="1.7" fill="#9bbae1"/><rect x="228.9" y="251.7" width="1.7" height="1.7" fill="#4a8ec9"/><rect x="238.7" y="271.8" width="1.7" height="1.7" fill="#87afdc"/><rect x="263.4" y="276.1" width="1.7" height="1.7" fill="#9bbbe1"/><rect x="261.7" y="219.4" width="1.7" height="1.7" fill="#2c79b7"/><rect x="277.5" y="276.9" width="1.7" height="1.7" fill="#2874b1"/><rect x="224.1" y="276.8" width="1.7" height="1.7" fill="#246eaa"/><rect x="266.8" y="279.6" width="1.7" height="1.7" fill="#9ebce2"/><rect x="273.5" y="280.2" width="1.7" height="1.7" fill="#adc5e6"/><rect x="284.5" y="278.7" width="1.7" height="1.7" fill="#97b8e0"/><rect x="292.3" y="246.1" width="1.7" height="1.7" fill="#9fbde2"/><rect x="257.6" y="257.4" width="1.7" height="1.7" fill="#7da9d9"/><rect x="248.7" y="268.2" width="1.7" height="1.7" fill="#d3ddef"/><rect x="249.9" y="223.8" width="1.7" height="1.7" fill="#becfea"/><rect x="221.4" y="280.2" width="1.7" height="1.7" fill="#b0c7e7"/><rect x="268.3" y="268.5" width="1.7" height="1.7" fill="#b7cbe8"/><rect x="316.5" y="262.6" width="1.7" height="1.7" fill="#dee3f1"/><rect x="266.1" y="245.6" width="1.7" height="1.7" fill="#2976b3"/><rect x="230.4" y="248.1" width="1.7" height="1.7" fill="#d8e0f0"/><rect x="284.3" y="260.8" width="1.7" height="1.7" fill="#94b6df"/><rect x="237.5" y="251.5" width="1.7" height="1.7" fill="#0e3b65"/><rect x="225.2" y="277.9" width="1.7" height="1.7" fill="#5c97cf"/><rect x="261.7" y="266.4" width="1.7" height="1.7" fill="#256fab"/><rect x="236.2" y="233.8" width="1.7" height="1.7" fill="#96b8e0"/><rect x="267.8" y="276.3" width="1.7" height="1.7" fill="#adc5e6"/><rect x="246.5" y="236.7" width="1.7" height="1.7" fill="#d8e0f0"/><rect x="273.1" y="252.4" width="1.7" height="1.7" fill="#afc6e6"/><rect x="294.0" y="256.6" width="1.7" height="1.7" fill="#83acdb"/><rect x="229.9" y="225.7" width="1.7" height="1.7" fill="#8ab1dd"/><rect x="317.9" y="277.7" width="1.7" height="1.7" fill="#2671ad"/><rect x="272.6" y="234.0" width="1.7" height="1.7" fill="#d4ddef"/><rect x="249.8" y="220.4" width="1.7" height="1.7" fill="#2e7dbc"/><rect x="257.6" y="275.1" width="1.7" height="1.7" fill="#94b7df"/><rect x="273.7" y="229.4" width="1.7" height="1.7" fill="#c7d5ec"/><rect x="236.4" y="249.5" width="1.7" height="1.7" fill="#a9c3e5"/><rect x="245.1" y="242.8" width="1.7" height="1.7" fill="#a0bee3"/><rect x="268.1" y="270.3" width="1.7" height="1.7" fill="#a6c1e4"/><rect x="228.3" y="222.2" width="1.7" height="1.7" fill="#246ea9"/><rect x="253.2" y="244.4" width="1.7" height="1.7" fill="#195a90"/><rect x="222.1" y="270.8" width="1.7" height="1.7" fill="#c7d5ec"/><rect x="309.7" y="258.1" width="1.7" height="1.7" fill="#c4d3eb"/><rect x="229.2" y="218.0" width="1.7" height="1.7" fill="#b4c9e8"/><rect x="264.5" y="232.3" width="1.7" height="1.7" fill="#1a5d94"/><rect x="257.5" y="269.2" width="1.7" height="1.7" fill="#8db2dd"/><rect x="261.9" y="275.5" width="1.7" height="1.7" fill="#bfd0ea"/><rect x="286.3" y="267.2" width="1.7" height="1.7" fill="#cfdaee"/><rect x="228.2" y="228.0" width="1.7" height="1.7" fill="#d7dfef"/><rect x="268.4" y="225.2" width="1.7" height="1.7" fill="#91b4de"/><rect x="248.9" y="223.6" width="1.7" height="1.7" fill="#2772af"/><rect x="276.2" y="276.6" width="1.7" height="1.7" fill="#bacde9"/><rect x="293.5" y="280.2" width="1.7" height="1.7" fill="#a3bfe3"/><rect x="221.5" y="262.2" width="1.7" height="1.7" fill="#114371"/><rect x="238.6" y="280.0" width="1.7" height="1.7" fill="#10416d"/><rect x="216.0" y="244.3" width="1.7" height="1.7" fill="#72a3d6"/><rect x="293.4" y="273.1" width="1.7" height="1.7" fill="#b9cce9"/><rect x="271.8" y="235.2" width="1.7" height="1.7" fill="#92b5df"/><rect x="236.8" y="279.5" width="1.7" height="1.7" fill="#a5c0e4"/><rect x="216.7" y="247.7" width="1.7" height="1.7" fill="#bbcde9"/><rect x="269.2" y="260.8" width="1.7" height="1.7" fill="#a4c0e4"/><rect x="272.9" y="278.6" width="1.7" height="1.7" fill="#195a91"/><rect x="230.9" y="220.5" width="1.7" height="1.7" fill="#256fab"/><rect x="234.0" y="229.5" width="1.7" height="1.7" fill="#90b4de"/><rect x="267.5" y="278.9" width="1.7" height="1.7" fill="#1e659e"/><rect x="226.2" y="266.8" width="1.7" height="1.7" fill="#98b9e0"/><rect x="239.9" y="235.8" width="1.7" height="1.7" fill="#307fbf"/><rect x="250.8" y="269.7" width="1.7" height="1.7" fill="#adc5e6"/><rect x="275.0" y="250.9" width="1.7" height="1.7" fill="#18588d"/><rect x="230.2" y="236.7" width="1.7" height="1.7" fill="#b3c9e8"/><rect x="246.8" y="277.5" width="1.7" height="1.7" fill="#144d7e"/><rect x="271.7" y="248.5" width="1.7" height="1.7" fill="#a8c2e5"/><rect x="254.6" y="280.2" width="1.7" height="1.7" fill="#2e7dbc"/><rect x="322.9" y="279.9" width="1.7" height="1.7" fill="#c5d4ec"/><rect x="221.6" y="235.3" width="1.7" height="1.7" fill="#7ca9d9"/><rect x="276.8" y="280.0" width="1.7" height="1.7" fill="#afc6e6"/><rect x="234.1" y="272.4" width="1.7" height="1.7" fill="#c0d1eb"/><rect x="246.8" y="264.5" width="1.7" height="1.7" fill="#b3c8e7"/><rect x="239.2" y="248.4" width="1.7" height="1.7" fill="#cad7ed"/><rect x="249.7" y="279.7" width="1.7" height="1.7" fill="#abc4e5"/><rect x="241.6" y="269.2" width="1.7" height="1.7" fill="#bacde9"/><rect x="205.4" y="280.0" width="1.7" height="1.7" fill="#d2dcee"/><rect x="279.6" y="279.1" width="1.7" height="1.7" fill="#85aedb"/><rect x="313.8" y="274.3" width="1.7" height="1.7" fill="#ccd8ed"/><rect x="273.2" y="225.7" width="1.7" height="1.7" fill="#8bb1dd"/><rect x="224.4" y="273.7" width="1.7" height="1.7" fill="#83acdb"/><rect x="243.9" y="278.6" width="1.7" height="1.7" fill="#ccd8ed"/><rect x="273.8" y="276.8" width="1.7" height="1.7" fill="#dee3f1"/><rect x="310.5" y="276.2" width="1.7" height="1.7" fill="#d1dbee"/><rect x="281.5" y="278.6" width="1.7" height="1.7" fill="#a9c3e5"/><rect x="246.2" y="221.2" width="1.7" height="1.7" fill="#6ea1d5"/><rect x="279.7" y="279.9" width="1.7" height="1.7" fill="#d4ddef"/><rect x="233.8" y="228.0" width="1.7" height="1.7" fill="#114471"/><rect x="246.6" y="212.6" width="1.7" height="1.7" fill="#c5d3eb"/><rect x="286.6" y="278.1" width="1.7" height="1.7" fill="#cfdaee"/><rect x="261.0" y="279.9" width="1.7" height="1.7" fill="#8bb1dd"/><rect x="208.2" y="275.0" width="1.7" height="1.7" fill="#b6cae8"/><rect x="309.9" y="280.2" width="1.7" height="1.7" fill="#a4c0e4"/><rect x="245.0" y="279.9" width="1.7" height="1.7" fill="#acc4e5"/><rect x="210.7" y="277.9" width="1.7" height="1.7" fill="#9dbce2"/><rect x="225.4" y="279.4" width="1.7" height="1.7" fill="#86aedc"/><rect x="253.4" y="277.5" width="1.7" height="1.7" fill="#dde3f1"/><rect x="272.1" y="246.3" width="1.7" height="1.7" fill="#7faada"/><rect x="219.0" y="267.3" width="1.7" height="1.7" fill="#acc5e6"/><rect x="300.8" y="280.1" width="1.7" height="1.7" fill="#ced9ed"/><rect x="287.8" y="280.0" width="1.7" height="1.7" fill="#d9e0f0"/><rect x="240.7" y="201.6" width="1.7" height="1.7" fill="#a1bee3"/><rect x="248.9" y="206.6" width="1.7" height="1.7" fill="#d7dfef"/><rect x="241.1" y="236.4" width="1.7" height="1.7" fill="#94b6df"/><rect x="251.9" y="206.1" width="1.7" height="1.7" fill="#dae1f0"/><rect x="267.5" y="254.3" width="1.7" height="1.7" fill="#acc4e6"/><rect x="244.0" y="268.2" width="1.7" height="1.7" fill="#114472"/><rect x="298.0" y="272.4" width="1.7" height="1.7" fill="#a8c2e4"/><rect x="279.5" y="235.7" width="1.7" height="1.7" fill="#2874b1"/><rect x="214.4" y="220.5" width="1.7" height="1.7" fill="#dce2f0"/><rect x="275.8" y="271.8" width="1.7" height="1.7" fill="#bdceea"/><rect x="224.0" y="279.7" width="1.7" height="1.7" fill="#c0d1eb"/><rect x="266.4" y="278.7" width="1.7" height="1.7" fill="#a7c1e4"/><rect x="305.0" y="269.5" width="1.7" height="1.7" fill="#b3c9e7"/><rect x="258.6" y="257.4" width="1.7" height="1.7" fill="#a2bee3"/><rect x="246.8" y="278.7" width="1.7" height="1.7" fill="#abc4e5"/><rect x="235.4" y="279.6" width="1.7" height="1.7" fill="#93b6df"/><rect x="265.9" y="274.9" width="1.7" height="1.7" fill="#80abda"/><rect x="240.7" y="228.4" width="1.7" height="1.7" fill="#7da9d9"/><rect x="251.3" y="272.6" width="1.7" height="1.7" fill="#83acdb"/><rect x="273.1" y="256.4" width="1.7" height="1.7" fill="#3080c0"/><rect x="226.5" y="269.5" width="1.7" height="1.7" fill="#d2dcee"/><rect x="251.4" y="279.6" width="1.7" height="1.7" fill="#8ab1dd"/><rect x="226.2" y="280.0" width="1.7" height="1.7" fill="#155082"/><rect x="216.2" y="252.8" width="1.7" height="1.7" fill="#679dd2"/><rect x="216.5" y="276.4" width="1.7" height="1.7" fill="#2772af"/><rect x="296.6" y="279.6" width="1.7" height="1.7" fill="#cad7ed"/><rect x="233.7" y="276.8" width="1.7" height="1.7" fill="#86aedc"/><rect x="269.6" y="279.3" width="1.7" height="1.7" fill="#acc5e6"/><rect x="233.2" y="213.4" width="1.7" height="1.7" fill="#9dbce2"/><rect x="244.1" y="266.2" width="1.7" height="1.7" fill="#92b5df"/><rect x="290.9" y="278.3" width="1.7" height="1.7" fill="#a0bde2"/><rect x="236.2" y="272.3" width="1.7" height="1.7" fill="#b4c9e8"/><rect x="234.1" y="279.9" width="1.7" height="1.7" fill="#c2d2eb"/><rect x="260.1" y="215.1" width="1.7" height="1.7" fill="#a7c2e4"/><rect x="248.0" y="253.2" width="1.7" height="1.7" fill="#d1dbee"/><rect x="283.0" y="249.1" width="1.7" height="1.7" fill="#adc5e6"/><rect x="319.5" y="278.6" width="1.7" height="1.7" fill="#82acdb"/><rect x="212.9" y="236.8" width="1.7" height="1.7" fill="#236ba6"/><rect x="289.0" y="270.0" width="1.7" height="1.7" fill="#b6cae8"/><rect x="259.8" y="280.2" width="1.7" height="1.7" fill="#dbe1f0"/><rect x="279.6" y="264.0" width="1.7" height="1.7" fill="#d3dcee"/><rect x="266.8" y="276.1" width="1.7" height="1.7" fill="#96b8e0"/><rect x="289.2" y="261.9" width="1.7" height="1.7" fill="#86aedc"/><rect x="290.7" y="250.3" width="1.7" height="1.7" fill="#cdd8ed"/><rect x="229.8" y="236.5" width="1.7" height="1.7" fill="#92b5df"/><rect x="294.7" y="277.9" width="1.7" height="1.7" fill="#d2dcee"/><rect x="274.2" y="227.9" width="1.7" height="1.7" fill="#86aedc"/><rect x="296.4" y="280.2" width="1.7" height="1.7" fill="#1f66a0"/><rect x="263.9" y="257.5" width="1.7" height="1.7" fill="#1a5d95"/><rect x="232.4" y="205.0" width="1.7" height="1.7" fill="#94b6df"/><rect x="257.5" y="279.9" width="1.7" height="1.7" fill="#8fb3de"/><rect x="262.8" y="259.8" width="1.7" height="1.7" fill="#ced9ed"/><rect x="232.4" y="253.7" width="1.7" height="1.7" fill="#2f7ebe"/><rect x="256.6" y="217.4" width="1.7" height="1.7" fill="#3382c1"/><rect x="254.6" y="269.4" width="1.7" height="1.7" fill="#ced9ed"/><rect x="287.6" y="270.4" width="1.7" height="1.7" fill="#d9e0f0"/><rect x="229.2" y="205.2" width="1.7" height="1.7" fill="#b3c8e7"/><rect x="236.8" y="280.1" width="1.7" height="1.7" fill="#dfe4f1"/><rect x="259.8" y="275.4" width="1.7" height="1.7" fill="#96b7e0"/><rect x="243.0" y="244.2" width="1.7" height="1.7" fill="#92b5df"/><rect x="268.3" y="275.2" width="1.7" height="1.7" fill="#99b9e1"/><rect x="231.7" y="278.6" width="1.7" height="1.7" fill="#478cc8"/><rect x="224.5" y="254.8" width="1.7" height="1.7" fill="#dae1f0"/><rect x="258.3" y="260.0" width="1.7" height="1.7" fill="#b4c9e8"/><rect x="266.2" y="252.3" width="1.7" height="1.7" fill="#b7cbe8"/><rect x="316.6" y="276.0" width="1.7" height="1.7" fill="#74a4d7"/><rect x="261.8" y="274.1" width="1.7" height="1.7" fill="#b9cce9"/><rect x="227.8" y="262.7" width="1.7" height="1.7" fill="#88afdc"/><rect x="295.9" y="247.2" width="1.7" height="1.7" fill="#b0c7e7"/><rect x="273.1" y="265.4" width="1.7" height="1.7" fill="#0d3a64"/><rect x="285.9" y="254.2" width="1.7" height="1.7" fill="#99b9e1"/><rect x="232.3" y="224.4" width="1.7" height="1.7" fill="#bfd0ea"/><rect x="251.2" y="275.2" width="1.7" height="1.7" fill="#afc6e6"/><rect x="214.2" y="279.3" width="1.7" height="1.7" fill="#a5c0e4"/><rect x="245.9" y="271.9" width="1.7" height="1.7" fill="#9bbae1"/><rect x="218.0" y="279.8" width="1.7" height="1.7" fill="#81abda"/><rect x="211.2" y="279.9" width="1.7" height="1.7" fill="#a4c0e3"/><rect x="297.9" y="277.6" width="1.7" height="1.7" fill="#bdcfea"/><rect x="232.6" y="221.8" width="1.7" height="1.7" fill="#7faada"/><rect x="266.5" y="272.6" width="1.7" height="1.7" fill="#96b8e0"/><rect x="221.6" y="275.6" width="1.7" height="1.7" fill="#d4ddef"/><rect x="325.7" y="275.8" width="1.7" height="1.7" fill="#84addb"/><rect x="269.1" y="270.7" width="1.7" height="1.7" fill="#afc6e7"/><rect x="250.8" y="260.1" width="1.7" height="1.7" fill="#82acdb"/><rect x="256.3" y="262.1" width="1.7" height="1.7" fill="#cad7ed"/><rect x="293.8" y="263.0" width="1.7" height="1.7" fill="#86aedc"/><rect x="261.1" y="255.3" width="1.7" height="1.7" fill="#246da9"/><rect x="269.4" y="279.6" width="1.7" height="1.7" fill="#acc5e6"/><rect x="262.6" y="279.2" width="1.7" height="1.7" fill="#aec6e6"/><rect x="235.0" y="277.5" width="1.7" height="1.7" fill="#75a4d7"/><rect x="259.2" y="209.8" width="1.7" height="1.7" fill="#c0d0ea"/><rect x="285.4" y="277.6" width="1.7" height="1.7" fill="#c7d5ec"/><rect x="284.4" y="263.6" width="1.7" height="1.7" fill="#2f7ebe"/><rect x="222.8" y="233.1" width="1.7" height="1.7" fill="#2771ae"/><rect x="243.2" y="271.8" width="1.7" height="1.7" fill="#c8d5ec"/><rect x="270.3" y="265.4" width="1.7" height="1.7" fill="#2e7dbd"/><rect x="277.0" y="276.6" width="1.7" height="1.7" fill="#c3d2eb"/><rect x="238.8" y="213.7" width="1.7" height="1.7" fill="#aec5e6"/><rect x="306.2" y="250.0" width="1.7" height="1.7" fill="#2e7cbc"/><rect x="279.3" y="276.7" width="1.7" height="1.7" fill="#a8c2e5"/><rect x="275.9" y="280.2" width="1.7" height="1.7" fill="#becfea"/><rect x="256.6" y="254.3" width="1.7" height="1.7" fill="#84addb"/><rect x="238.0" y="279.9" width="1.7" height="1.7" fill="#c5d3eb"/><rect x="269.8" y="280.1" width="1.7" height="1.7" fill="#dce2f0"/><rect x="264.0" y="280.2" width="1.7" height="1.7" fill="#c8d6ec"/><rect x="278.8" y="280.1" width="1.7" height="1.7" fill="#d6deef"/><rect x="259.7" y="268.8" width="1.7" height="1.7" fill="#1d629b"/><rect x="291.0" y="271.4" width="1.7" height="1.7" fill="#226aa5"/><rect x="226.6" y="275.3" width="1.7" height="1.7" fill="#91b5df"/><rect x="253.2" y="271.3" width="1.7" height="1.7" fill="#134a79"/><rect x="322.4" y="265.8" width="1.7" height="1.7" fill="#dbe2f0"/><rect x="258.3" y="270.6" width="1.7" height="1.7" fill="#bdcfea"/><rect x="239.2" y="243.4" width="1.7" height="1.7" fill="#a0bde2"/><rect x="242.1" y="238.7" width="1.7" height="1.7" fill="#b5cae8"/><rect x="278.4" y="248.5" width="1.7" height="1.7" fill="#dbe2f0"/><rect x="238.2" y="279.8" width="1.7" height="1.7" fill="#97b8e0"/><rect x="268.3" y="239.9" width="1.7" height="1.7" fill="#b4c9e8"/><rect x="247.8" y="280.0" width="1.7" height="1.7" fill="#d5deef"/><rect x="242.0" y="278.6" width="1.7" height="1.7" fill="#b3c8e7"/><rect x="290.1" y="272.6" width="1.7" height="1.7" fill="#becfea"/><rect x="211.2" y="256.0" width="1.7" height="1.7" fill="#0d3a63"/><rect x="266.6" y="226.4" width="1.7" height="1.7" fill="#4d8fca"/><rect x="241.2" y="231.8" width="1.7" height="1.7" fill="#bfd0ea"/><rect x="263.0" y="234.6" width="1.7" height="1.7" fill="#afc6e6"/><rect x="275.4" y="232.4" width="1.7" height="1.7" fill="#0e3b65"/><rect x="229.8" y="268.5" width="1.7" height="1.7" fill="#80abda"/><rect x="247.8" y="280.2" width="1.7" height="1.7" fill="#c1d1eb"/><rect x="218.6" y="275.0" width="1.7" height="1.7" fill="#c2d2eb"/><rect x="269.2" y="271.1" width="1.7" height="1.7" fill="#becfea"/><rect x="262.1" y="217.5" width="1.7" height="1.7" fill="#85addb"/><rect x="300.2" y="279.2" width="1.7" height="1.7" fill="#5493cc"/><rect x="211.3" y="248.4" width="1.7" height="1.7" fill="#dce2f0"/><rect x="288.0" y="250.5" width="1.7" height="1.7" fill="#c5d3eb"/><rect x="243.3" y="246.0" width="1.7" height="1.7" fill="#2169a3"/><rect x="242.1" y="240.4" width="1.7" height="1.7" fill="#8bb1dd"/><rect x="292.7" y="253.3" width="1.7" height="1.7" fill="#92b5df"/><rect x="253.9" y="264.7" width="1.7" height="1.7" fill="#c8d6ec"/><rect x="257.5" y="237.1" width="1.7" height="1.7" fill="#8eb3de"/><rect x="249.0" y="278.3" width="1.7" height="1.7" fill="#b0c7e7"/><rect x="286.3" y="280.2" width="1.7" height="1.7" fill="#89b0dc"/><rect x="265.9" y="279.9" width="1.7" height="1.7" fill="#a9c3e5"/><rect x="290.1" y="280.0" width="1.7" height="1.7" fill="#8eb3de"/><rect x="225.3" y="229.8" width="1.7" height="1.7" fill="#195b92"/><rect x="250.6" y="278.7" width="1.7" height="1.7" fill="#a7c1e4"/><rect x="266.7" y="239.5" width="1.7" height="1.7" fill="#96b7e0"/><rect x="282.8" y="243.8" width="1.7" height="1.7" fill="#8fb3de"/><rect x="245.5" y="276.1" width="1.7" height="1.7" fill="#bbcde9"/><rect x="306.7" y="278.3" width="1.7" height="1.7" fill="#124775"/><rect x="286.8" y="240.1" width="1.7" height="1.7" fill="#c9d6ec"/><rect x="220.4" y="260.6" width="1.7" height="1.7" fill="#a6c1e4"/><rect x="242.0" y="265.8" width="1.7" height="1.7" fill="#b5cae8"/><rect x="237.5" y="252.9" width="1.7" height="1.7" fill="#95b7e0"/><rect x="283.3" y="270.8" width="1.7" height="1.7" fill="#c2d2eb"/><polyline points="202.0,281.4 205.0,281.2 208.7,280.4 211.6,270.7 213.6,262.9 216.5,260.6 220.4,263.9 227.2,270.3 231.5,262.0 235.0,264.9 239.8,261.0 245.7,249.9 249.6,252.2 254.4,244.5 258.3,246.4 262.2,246.0 268.8,254.2 273.6,260.0 277.5,261.6 285.3,269.7 293.0,275.2 302.8,278.5 314.5,280.0 326.0,281.4 328.0,281.4" fill="none" stroke="#f3c4c7" stroke-opacity="0.8" stroke-width="4.6" stroke-linejoin="round"/><polyline points="202.0,281.4 205.0,281.2 208.7,280.4 211.6,270.7 213.6,262.9 216.5,260.6 220.4,263.9 227.2,270.3 231.5,262.0 235.0,264.9 239.8,261.0 245.7,249.9 249.6,252.2 254.4,244.5 258.3,246.4 262.2,246.0 268.8,254.2 273.6,260.0 277.5,261.6 285.3,269.7 293.0,275.2 302.8,278.5 314.5,280.0 326.0,281.4 328.0,281.4" fill="none" stroke="#b9252e" stroke-width="1.5" stroke-linejoin="round"/><rect x="201.2" y="184.8" width="128.0" height="96.30000000000001" fill="none" stroke="#bdbdbd" stroke-width="0.6"/><text class="tk" x="198.2" y="284.00" text-anchor="end">0</text><line x1="201.2" y1="281.10" x2="202.5" y2="281.10" stroke="#888" stroke-width="0.5"/><text class="tk" x="198.2" y="267.95" text-anchor="end">0.05</text><line x1="201.2" y1="265.05" x2="202.5" y2="265.05" stroke="#888" stroke-width="0.5"/><text class="tk" x="198.2" y="251.90" text-anchor="end">0.1</text><line x1="201.2" y1="249.00" x2="202.5" y2="249.00" stroke="#888" stroke-width="0.5"/><text class="tk" x="198.2" y="235.85" text-anchor="end">0.15</text><line x1="201.2" y1="232.95" x2="202.5" y2="232.95" stroke="#888" stroke-width="0.5"/><text class="tk" x="198.2" y="219.80" text-anchor="end">0.2</text><line x1="201.2" y1="216.90" x2="202.5" y2="216.90" stroke="#888" stroke-width="0.5"/><text class="tk" x="198.2" y="203.75" text-anchor="end">0.25</text><line x1="201.2" y1="200.85" x2="202.5" y2="200.85" stroke="#888" stroke-width="0.5"/><text class="tk" x="198.2" y="187.70" text-anchor="end">0.3</text><line x1="201.2" y1="184.80" x2="202.5" y2="184.80" stroke="#888" stroke-width="0.5"/><text class="tk" x="201.20" y="292.20" text-anchor="middle">18</text><text class="tk" x="219.49" y="292.20" text-anchor="middle">20</text><text class="tk" x="237.77" y="292.20" text-anchor="middle">22</text><text class="tk" x="256.06" y="292.20" text-anchor="middle">24</text><text class="tk" x="274.34" y="292.20" text-anchor="middle">2</text><text class="tk" x="292.63" y="292.20" text-anchor="middle">4</text><text class="tk" x="310.91" y="292.20" text-anchor="middle">6</text><text class="tk" x="329.20" y="292.20" text-anchor="middle">8</text><text class="yl" transform="translate(182.3,233.0) rotate(-90)" text-anchor="middle">RODI occ.</text><rect x="334" y="184.8" width="6.6" height="96.30000000000001" fill="url(#blues)"/><text class="yl" x="338.6" y="181.2" text-anchor="middle">F107</text><text class="tk cb" x="342.5" y="268.90">80</text><text class="tk cb" x="342.5" y="248.50">100</text><text class="tk cb" x="342.5" y="228.10">120</text><text class="tk cb" x="342.5" y="207.70">140</text><text class="tk cb" x="342.5" y="187.30">160</text><text x="265" y="300" font-family="'Liberation Sans', Arial, sans-serif" font-size="7" font-weight="bold" fill="#111" text-anchor="middle">LT (hour)</text><rect x="393.3" y="55.0" width="129.49999999999994" height="97.0" fill="#3e26a8"/><rect x="459.80" y="55.00" width="4.00" height="3.73" fill="#4133be"/><rect x="470.30" y="55.00" width="4.00" height="3.73" fill="#4132be"/><rect x="487.80" y="55.00" width="4.00" height="3.73" fill="#423bcd"/><rect x="508.80" y="55.00" width="4.00" height="3.73" fill="#3476f9"/><rect x="512.30" y="55.00" width="4.00" height="3.73" fill="#1bc0b1"/><rect x="515.80" y="55.00" width="4.00" height="3.73" fill="#17b5c9"/><rect x="519.30" y="55.00" width="3.50" height="3.73" fill="#cbc249"/><rect x="393.30" y="58.23" width="4.00" height="3.73" fill="#1e9ee8"/><rect x="414.30" y="58.23" width="4.00" height="3.73" fill="#3d65f6"/><rect x="421.30" y="58.23" width="4.00" height="3.73" fill="#464dee"/><rect x="428.30" y="58.23" width="4.00" height="3.73" fill="#4135c2"/><rect x="435.30" y="58.23" width="4.00" height="3.73" fill="#4750f2"/><rect x="445.80" y="58.23" width="4.00" height="3.73" fill="#16bac0"/><rect x="449.30" y="58.23" width="4.00" height="3.73" fill="#17b1cf"/><rect x="452.80" y="58.23" width="4.00" height="3.73" fill="#4750f3"/><rect x="456.30" y="58.23" width="4.00" height="3.73" fill="#464ceb"/><rect x="459.80" y="58.23" width="4.00" height="3.73" fill="#19a9dd"/><rect x="463.30" y="58.23" width="4.00" height="3.73" fill="#1aa5e3"/><rect x="466.80" y="58.23" width="4.00" height="3.73" fill="#2b88f6"/><rect x="470.30" y="58.23" width="4.00" height="3.73" fill="#464eee"/><rect x="473.80" y="58.23" width="4.00" height="3.73" fill="#4358f5"/><rect x="494.80" y="58.23" width="4.00" height="3.73" fill="#464ded"/><rect x="508.80" y="58.23" width="4.00" height="3.73" fill="#3a6af7"/><rect x="512.30" y="58.23" width="4.00" height="3.73" fill="#16b9c0"/><rect x="515.80" y="58.23" width="4.00" height="3.73" fill="#16b9c1"/><rect x="519.30" y="58.23" width="3.50" height="3.73" fill="#37c79a"/><rect x="393.30" y="61.47" width="4.00" height="3.73" fill="#2493ef"/><rect x="414.30" y="61.47" width="4.00" height="3.73" fill="#3b68f7"/><rect x="445.80" y="61.47" width="4.00" height="3.73" fill="#16b7c5"/><rect x="449.30" y="61.47" width="4.00" height="3.73" fill="#1da0e6"/><rect x="452.80" y="61.47" width="4.00" height="3.73" fill="#415cf5"/><rect x="456.30" y="61.47" width="4.00" height="3.73" fill="#396df7"/><rect x="459.80" y="61.47" width="4.00" height="3.73" fill="#38c799"/><rect x="463.30" y="61.47" width="4.00" height="3.73" fill="#2395ee"/><rect x="466.80" y="61.47" width="4.00" height="3.73" fill="#288cf3"/><rect x="470.30" y="61.47" width="4.00" height="3.73" fill="#4457f5"/><rect x="473.80" y="61.47" width="4.00" height="3.73" fill="#3f61f6"/><rect x="477.30" y="61.47" width="4.00" height="3.73" fill="#4031bb"/><rect x="494.80" y="61.47" width="4.00" height="3.73" fill="#4359f5"/><rect x="498.30" y="61.47" width="4.00" height="3.73" fill="#4340d6"/><rect x="501.80" y="61.47" width="4.00" height="3.73" fill="#4457f5"/><rect x="508.80" y="61.47" width="4.00" height="3.73" fill="#faf11a"/><rect x="512.30" y="61.47" width="4.00" height="3.73" fill="#17b4ca"/><rect x="515.80" y="61.47" width="4.00" height="3.73" fill="#21c2ac"/><rect x="519.30" y="61.47" width="3.50" height="3.73" fill="#44ca8f"/><rect x="393.30" y="64.70" width="4.00" height="3.73" fill="#3c66f7"/><rect x="396.80" y="64.70" width="4.00" height="3.73" fill="#3d64f6"/><rect x="442.30" y="64.70" width="4.00" height="3.73" fill="#4752f4"/><rect x="449.30" y="64.70" width="4.00" height="3.73" fill="#464eef"/><rect x="456.30" y="64.70" width="4.00" height="3.73" fill="#327af9"/><rect x="459.80" y="64.70" width="4.00" height="3.73" fill="#3771f8"/><rect x="463.30" y="64.70" width="4.00" height="3.73" fill="#3771f8"/><rect x="466.80" y="64.70" width="4.00" height="3.73" fill="#18add5"/><rect x="484.30" y="64.70" width="4.00" height="3.73" fill="#423acc"/><rect x="487.80" y="64.70" width="4.00" height="3.73" fill="#425af5"/><rect x="498.30" y="64.70" width="4.00" height="3.73" fill="#4238c7"/><rect x="508.80" y="64.70" width="4.00" height="3.73" fill="#fbe124"/><rect x="512.30" y="64.70" width="4.00" height="3.73" fill="#3671f8"/><rect x="515.80" y="64.70" width="4.00" height="3.73" fill="#307ef9"/><rect x="519.30" y="64.70" width="3.50" height="3.73" fill="#396cf7"/><rect x="393.30" y="67.93" width="4.00" height="3.73" fill="#3378f9"/><rect x="396.80" y="67.93" width="4.00" height="3.73" fill="#2e82fa"/><rect x="414.30" y="67.93" width="4.00" height="3.73" fill="#405ef6"/><rect x="421.30" y="67.93" width="4.00" height="3.73" fill="#3e63f6"/><rect x="442.30" y="67.93" width="4.00" height="3.73" fill="#4133c0"/><rect x="445.80" y="67.93" width="4.00" height="3.73" fill="#386ff8"/><rect x="449.30" y="67.93" width="4.00" height="3.73" fill="#4654f4"/><rect x="452.80" y="67.93" width="4.00" height="3.73" fill="#2591f0"/><rect x="456.30" y="67.93" width="4.00" height="3.73" fill="#2e82fa"/><rect x="459.80" y="67.93" width="4.00" height="3.73" fill="#3b69f7"/><rect x="463.30" y="67.93" width="4.00" height="3.73" fill="#3770f8"/><rect x="466.80" y="67.93" width="4.00" height="3.73" fill="#1aa5e3"/><rect x="473.80" y="67.93" width="4.00" height="3.73" fill="#4133bf"/><rect x="487.80" y="67.93" width="4.00" height="3.73" fill="#396cf7"/><rect x="508.80" y="67.93" width="4.00" height="3.73" fill="#327af9"/><rect x="512.30" y="67.93" width="4.00" height="3.73" fill="#3379f9"/><rect x="515.80" y="67.93" width="4.00" height="3.73" fill="#2f7ffa"/><rect x="407.30" y="71.17" width="4.00" height="3.73" fill="#4444de"/><rect x="442.30" y="71.17" width="4.00" height="3.73" fill="#3b69f7"/><rect x="445.80" y="71.17" width="4.00" height="3.73" fill="#4653f4"/><rect x="452.80" y="71.17" width="4.00" height="3.73" fill="#2396ed"/><rect x="456.30" y="71.17" width="4.00" height="3.73" fill="#307efa"/><rect x="473.80" y="71.17" width="4.00" height="3.73" fill="#4239c9"/><rect x="498.30" y="71.17" width="4.00" height="3.73" fill="#433ccf"/><rect x="508.80" y="71.17" width="4.00" height="3.73" fill="#3a6bf7"/><rect x="512.30" y="71.17" width="4.00" height="3.73" fill="#327af9"/><rect x="515.80" y="71.17" width="4.00" height="3.73" fill="#396df7"/><rect x="519.30" y="71.17" width="3.50" height="3.73" fill="#2f81fa"/><rect x="417.80" y="74.40" width="4.00" height="3.73" fill="#405ef6"/><rect x="512.30" y="74.40" width="4.00" height="3.73" fill="#423bce"/><rect x="515.80" y="74.40" width="4.00" height="3.73" fill="#3d65f6"/><rect x="519.30" y="74.40" width="3.50" height="3.73" fill="#415cf5"/><rect x="396.80" y="77.63" width="4.00" height="3.73" fill="#4547e2"/><rect x="435.30" y="77.63" width="4.00" height="3.73" fill="#4237c7"/><rect x="442.30" y="77.63" width="4.00" height="3.73" fill="#464cec"/><rect x="515.80" y="77.63" width="4.00" height="3.73" fill="#425bf5"/><rect x="519.30" y="77.63" width="3.50" height="3.73" fill="#386ef8"/><rect x="393.30" y="80.87" width="4.00" height="3.73" fill="#423bcd"/><rect x="456.30" y="80.87" width="4.00" height="3.73" fill="#4443db"/><rect x="459.80" y="80.87" width="4.00" height="3.73" fill="#433fd5"/><rect x="424.80" y="84.10" width="4.00" height="3.73" fill="#4132be"/><rect x="442.30" y="84.10" width="4.00" height="3.73" fill="#4555f4"/><rect x="456.30" y="84.10" width="4.00" height="3.73" fill="#464eef"/><rect x="459.80" y="84.10" width="4.00" height="3.73" fill="#423bce"/><rect x="515.80" y="84.10" width="4.00" height="3.73" fill="#4340d5"/><rect x="393.30" y="87.33" width="4.00" height="3.73" fill="#433ccf"/><rect x="428.30" y="87.33" width="4.00" height="3.73" fill="#4752f4"/><rect x="431.80" y="87.33" width="4.00" height="3.73" fill="#4752f4"/><rect x="470.30" y="87.33" width="4.00" height="3.73" fill="#4238c8"/><rect x="515.80" y="87.33" width="4.00" height="3.73" fill="#4238c8"/><rect x="393.30" y="90.57" width="4.00" height="3.73" fill="#4134c1"/><rect x="435.30" y="90.57" width="4.00" height="3.73" fill="#3d64f6"/><rect x="442.30" y="90.57" width="4.00" height="3.73" fill="#4752f4"/><rect x="491.30" y="90.57" width="4.00" height="3.73" fill="#4135c3"/><rect x="515.80" y="90.57" width="4.00" height="3.73" fill="#4441d8"/><rect x="452.80" y="93.80" width="4.00" height="3.73" fill="#423acb"/><rect x="508.80" y="97.03" width="4.00" height="3.73" fill="#4133be"/><rect x="442.30" y="103.50" width="4.00" height="3.73" fill="#433fd5"/><rect x="396.80" y="106.73" width="4.00" height="3.73" fill="#433ccf"/><rect x="424.80" y="106.73" width="4.00" height="3.73" fill="#423bcd"/><rect x="452.80" y="106.73" width="4.00" height="3.73" fill="#4031bc"/><rect x="417.80" y="109.97" width="4.00" height="3.73" fill="#433cce"/><rect x="438.80" y="109.97" width="4.00" height="3.73" fill="#4135c3"/><rect x="473.80" y="109.97" width="4.00" height="3.73" fill="#4133c0"/><rect x="515.80" y="109.97" width="4.00" height="3.73" fill="#4134c0"/><rect x="393.30" y="113.20" width="4.00" height="3.73" fill="#4555f5"/><rect x="396.80" y="113.20" width="4.00" height="3.73" fill="#4444dd"/><rect x="459.80" y="113.20" width="4.00" height="3.73" fill="#423bcd"/><rect x="505.30" y="113.20" width="4.00" height="3.73" fill="#3477f9"/><rect x="508.80" y="113.20" width="4.00" height="3.73" fill="#3477f9"/><rect x="512.30" y="113.20" width="4.00" height="3.73" fill="#3477f9"/><rect x="515.80" y="113.20" width="4.00" height="3.73" fill="#3477f9"/><rect x="393.30" y="116.43" width="4.00" height="3.73" fill="#4358f5"/><rect x="396.80" y="116.43" width="4.00" height="3.73" fill="#209aea"/><rect x="400.30" y="116.43" width="4.00" height="3.73" fill="#2099ea"/><rect x="414.30" y="116.43" width="4.00" height="3.73" fill="#4547e2"/><rect x="428.30" y="116.43" width="4.00" height="3.73" fill="#4135c3"/><rect x="498.30" y="116.43" width="4.00" height="3.73" fill="#464ceb"/><rect x="505.30" y="116.43" width="4.00" height="3.73" fill="#3477f9"/><rect x="508.80" y="116.43" width="4.00" height="3.73" fill="#317df9"/><rect x="512.30" y="116.43" width="4.00" height="3.73" fill="#3477f9"/><rect x="515.80" y="116.43" width="4.00" height="3.73" fill="#3477f9"/><rect x="519.30" y="116.43" width="3.50" height="3.73" fill="#1aa4e3"/><rect x="396.80" y="119.67" width="4.00" height="3.73" fill="#3379f9"/><rect x="400.30" y="119.67" width="4.00" height="3.73" fill="#288cf3"/><rect x="403.80" y="119.67" width="4.00" height="3.73" fill="#317cf9"/><rect x="407.30" y="119.67" width="4.00" height="3.73" fill="#3770f8"/><rect x="505.30" y="119.67" width="4.00" height="3.73" fill="#41c991"/><rect x="508.80" y="119.67" width="4.00" height="3.73" fill="#15bdba"/><rect x="512.30" y="119.67" width="4.00" height="3.73" fill="#15bdba"/><rect x="515.80" y="119.67" width="4.00" height="3.73" fill="#2d84f8"/><rect x="519.30" y="119.67" width="3.50" height="3.73" fill="#3477f9"/><rect x="396.80" y="122.90" width="4.00" height="3.73" fill="#327af9"/><rect x="403.80" y="122.90" width="4.00" height="3.73" fill="#3475f8"/><rect x="407.30" y="122.90" width="4.00" height="3.73" fill="#3476f9"/><rect x="414.30" y="122.90" width="4.00" height="3.73" fill="#4359f5"/><rect x="445.80" y="122.90" width="4.00" height="3.73" fill="#433cce"/><rect x="470.30" y="122.90" width="4.00" height="3.73" fill="#423acc"/><rect x="477.30" y="122.90" width="4.00" height="3.73" fill="#423bcd"/><rect x="491.30" y="122.90" width="4.00" height="3.73" fill="#4239ca"/><rect x="498.30" y="122.90" width="4.00" height="3.73" fill="#464ceb"/><rect x="505.30" y="122.90" width="4.00" height="3.73" fill="#2d84f8"/><rect x="508.80" y="122.90" width="4.00" height="3.73" fill="#15bdba"/><rect x="512.30" y="122.90" width="4.00" height="3.73" fill="#17b0d1"/><rect x="515.80" y="122.90" width="4.00" height="3.73" fill="#1f9be9"/><rect x="519.30" y="122.90" width="3.50" height="3.73" fill="#2d84f8"/><rect x="407.30" y="126.13" width="4.00" height="3.73" fill="#405ff6"/><rect x="410.80" y="126.13" width="4.00" height="3.73" fill="#3c66f7"/><rect x="417.80" y="126.13" width="4.00" height="3.73" fill="#3770f8"/><rect x="498.30" y="126.13" width="4.00" height="3.73" fill="#4441d7"/><rect x="505.30" y="126.13" width="4.00" height="3.73" fill="#425af5"/><rect x="508.80" y="126.13" width="4.00" height="3.73" fill="#17b0d1"/><rect x="512.30" y="126.13" width="4.00" height="3.73" fill="#15bdba"/><rect x="515.80" y="126.13" width="4.00" height="3.73" fill="#1f9be9"/><rect x="519.30" y="126.13" width="3.50" height="3.73" fill="#3477f9"/><rect x="393.30" y="129.37" width="4.00" height="3.73" fill="#1aa5e3"/><rect x="449.30" y="129.37" width="4.00" height="3.73" fill="#4750f3"/><rect x="491.30" y="129.37" width="4.00" height="3.73" fill="#4444de"/><rect x="505.30" y="129.37" width="4.00" height="3.73" fill="#464ceb"/><rect x="508.80" y="129.37" width="4.00" height="3.73" fill="#85c869"/><rect x="512.30" y="129.37" width="4.00" height="3.73" fill="#17b0d1"/><rect x="515.80" y="129.37" width="4.00" height="3.73" fill="#15bdba"/><rect x="519.30" y="129.37" width="3.50" height="3.73" fill="#2d84f8"/><rect x="393.30" y="132.60" width="4.00" height="3.73" fill="#1d9fe7"/><rect x="396.80" y="132.60" width="4.00" height="3.73" fill="#3379f9"/><rect x="400.30" y="132.60" width="4.00" height="3.73" fill="#405ef6"/><rect x="407.30" y="132.60" width="4.00" height="3.73" fill="#464eef"/><rect x="417.80" y="132.60" width="4.00" height="3.73" fill="#3c67f7"/><rect x="421.30" y="132.60" width="4.00" height="3.73" fill="#4239c9"/><rect x="473.80" y="132.60" width="4.00" height="3.73" fill="#423acb"/><rect x="491.30" y="132.60" width="4.00" height="3.73" fill="#4132be"/><rect x="505.30" y="132.60" width="4.00" height="3.73" fill="#3477f9"/><rect x="508.80" y="132.60" width="4.00" height="3.73" fill="#1f9be9"/><rect x="512.30" y="132.60" width="4.00" height="3.73" fill="#17b0d1"/><rect x="515.80" y="132.60" width="4.00" height="3.73" fill="#f9fb14"/><rect x="519.30" y="132.60" width="3.50" height="3.73" fill="#fbe124"/><rect x="393.30" y="135.83" width="4.00" height="3.73" fill="#17b1ce"/><rect x="396.80" y="135.83" width="4.00" height="3.73" fill="#3672f8"/><rect x="400.30" y="135.83" width="4.00" height="3.73" fill="#474ff1"/><rect x="403.80" y="135.83" width="4.00" height="3.73" fill="#396df7"/><rect x="414.30" y="135.83" width="4.00" height="3.73" fill="#4239c9"/><rect x="417.80" y="135.83" width="4.00" height="3.73" fill="#3673f8"/><rect x="421.30" y="135.83" width="4.00" height="3.73" fill="#4031bb"/><rect x="438.80" y="135.83" width="4.00" height="3.73" fill="#415df6"/><rect x="442.30" y="135.83" width="4.00" height="3.73" fill="#3477f9"/><rect x="452.80" y="135.83" width="4.00" height="3.73" fill="#4133be"/><rect x="505.30" y="135.83" width="4.00" height="3.73" fill="#1f9be9"/><rect x="508.80" y="135.83" width="4.00" height="3.73" fill="#17b0d1"/><rect x="512.30" y="135.83" width="4.00" height="3.73" fill="#29c4a6"/><rect x="515.80" y="135.83" width="4.00" height="3.73" fill="#f9fb14"/><rect x="519.30" y="135.83" width="3.50" height="3.73" fill="#f9fb14"/><rect x="393.30" y="139.07" width="4.00" height="3.73" fill="#1aa5e3"/><rect x="396.80" y="139.07" width="4.00" height="3.73" fill="#2a88f6"/><rect x="438.80" y="139.07" width="4.00" height="3.73" fill="#396cf7"/><rect x="442.30" y="139.07" width="4.00" height="3.73" fill="#3e63f6"/><rect x="466.80" y="139.07" width="4.00" height="3.73" fill="#3b68f7"/><rect x="505.30" y="139.07" width="4.00" height="3.73" fill="#1f9be9"/><rect x="508.80" y="139.07" width="4.00" height="3.73" fill="#1f9be9"/><rect x="512.30" y="139.07" width="4.00" height="3.73" fill="#fbe124"/><rect x="515.80" y="139.07" width="4.00" height="3.73" fill="#f9fb14"/><rect x="519.30" y="139.07" width="3.50" height="3.73" fill="#faf11a"/><rect x="393.30" y="142.30" width="4.00" height="3.73" fill="#15bcbb"/><rect x="396.80" y="142.30" width="4.00" height="3.73" fill="#2a88f6"/><rect x="400.30" y="142.30" width="4.00" height="3.73" fill="#317cf9"/><rect x="403.80" y="142.30" width="4.00" height="3.73" fill="#3771f8"/><rect x="407.30" y="142.30" width="4.00" height="3.73" fill="#3b69f7"/><rect x="428.30" y="142.30" width="4.00" height="3.73" fill="#423bcd"/><rect x="431.80" y="142.30" width="4.00" height="3.73" fill="#4654f4"/><rect x="438.80" y="142.30" width="4.00" height="3.73" fill="#2e82fa"/><rect x="463.30" y="142.30" width="4.00" height="3.73" fill="#4340d5"/><rect x="466.80" y="142.30" width="4.00" height="3.73" fill="#4444dc"/><rect x="470.30" y="142.30" width="4.00" height="3.73" fill="#454ae7"/><rect x="473.80" y="142.30" width="4.00" height="3.73" fill="#4457f5"/><rect x="480.80" y="142.30" width="4.00" height="3.73" fill="#4444de"/><rect x="505.30" y="142.30" width="4.00" height="3.73" fill="#2d84f8"/><rect x="508.80" y="142.30" width="4.00" height="3.73" fill="#f9fb14"/><rect x="512.30" y="142.30" width="4.00" height="3.73" fill="#f9fb14"/><rect x="515.80" y="142.30" width="4.00" height="3.73" fill="#fbe124"/><rect x="519.30" y="142.30" width="3.50" height="3.73" fill="#f9fb14"/><rect x="393.30" y="145.53" width="4.00" height="3.73" fill="#16b9c2"/><rect x="396.80" y="145.53" width="4.00" height="3.73" fill="#2a88f6"/><rect x="400.30" y="145.53" width="4.00" height="3.73" fill="#307ffa"/><rect x="403.80" y="145.53" width="4.00" height="3.73" fill="#2d83f9"/><rect x="407.30" y="145.53" width="4.00" height="3.73" fill="#317df9"/><rect x="431.80" y="145.53" width="4.00" height="3.73" fill="#4554f4"/><rect x="438.80" y="145.53" width="4.00" height="3.73" fill="#3a6af7"/><rect x="442.30" y="145.53" width="4.00" height="3.73" fill="#2d84f8"/><rect x="445.80" y="145.53" width="4.00" height="3.73" fill="#3b69f7"/><rect x="449.30" y="145.53" width="4.00" height="3.73" fill="#3a6af7"/><rect x="452.80" y="145.53" width="4.00" height="3.73" fill="#3378f9"/><rect x="456.30" y="145.53" width="4.00" height="3.73" fill="#3f60f6"/><rect x="466.80" y="145.53" width="4.00" height="3.73" fill="#464cec"/><rect x="470.30" y="145.53" width="4.00" height="3.73" fill="#4751f3"/><rect x="473.80" y="145.53" width="4.00" height="3.73" fill="#4546e0"/><rect x="477.30" y="145.53" width="4.00" height="3.73" fill="#4032bd"/><rect x="505.30" y="145.53" width="4.00" height="3.73" fill="#3477f9"/><rect x="508.80" y="145.53" width="4.00" height="3.73" fill="#f9fb14"/><rect x="512.30" y="145.53" width="4.00" height="3.73" fill="#f9fb14"/><rect x="515.80" y="145.53" width="4.00" height="3.73" fill="#15bdba"/><rect x="519.30" y="145.53" width="3.50" height="3.73" fill="#faf11a"/><rect x="393.30" y="148.77" width="4.00" height="3.23" fill="#19a9dd"/><rect x="396.80" y="148.77" width="4.00" height="3.23" fill="#2f80fa"/><rect x="400.30" y="148.77" width="4.00" height="3.23" fill="#2d83f9"/><rect x="403.80" y="148.77" width="4.00" height="3.23" fill="#307ffa"/><rect x="407.30" y="148.77" width="4.00" height="3.23" fill="#1f9be9"/><rect x="414.30" y="148.77" width="4.00" height="3.23" fill="#317cf9"/><rect x="438.80" y="148.77" width="4.00" height="3.23" fill="#396cf7"/><rect x="442.30" y="148.77" width="4.00" height="3.23" fill="#17b0d1"/><rect x="445.80" y="148.77" width="4.00" height="3.23" fill="#3378f9"/><rect x="449.30" y="148.77" width="4.00" height="3.23" fill="#317cf9"/><rect x="452.80" y="148.77" width="4.00" height="3.23" fill="#3f61f6"/><rect x="456.30" y="148.77" width="4.00" height="3.23" fill="#3477f9"/><rect x="466.80" y="148.77" width="4.00" height="3.23" fill="#3e63f6"/><rect x="470.30" y="148.77" width="4.00" height="3.23" fill="#4555f4"/><rect x="473.80" y="148.77" width="4.00" height="3.23" fill="#386ef8"/><rect x="505.30" y="148.77" width="4.00" height="3.23" fill="#3477f9"/><rect x="508.80" y="148.77" width="4.00" height="3.23" fill="#faf11a"/><rect x="512.30" y="148.77" width="4.00" height="3.23" fill="#f9fb14"/><rect x="515.80" y="148.77" width="4.00" height="3.23" fill="#f9fb14"/><rect x="519.30" y="148.77" width="3.50" height="3.23" fill="#fbe124"/><text class="tk" x="389.9" y="57.50" text-anchor="end">180</text><text class="tk" x="389.9" y="68.28" text-anchor="end">140</text><text class="tk" x="389.9" y="79.06" text-anchor="end">100</text><text class="tk" x="389.9" y="89.83" text-anchor="end">60</text><text class="tk" x="389.9" y="100.61" text-anchor="end">20</text><text class="tk" x="389.9" y="111.39" text-anchor="end">-20</text><text class="tk" x="389.9" y="122.17" text-anchor="end">-60</text><text class="tk" x="389.9" y="132.94" text-anchor="end">-100</text><text class="tk" x="389.9" y="143.72" text-anchor="end">-140</text><text class="tk" x="389.9" y="154.50" text-anchor="end">-180</text><text class="tk" x="393.30" y="162.30" text-anchor="middle">0</text><text class="tk" x="410.86" y="162.30" text-anchor="middle">50</text><text class="tk" x="428.42" y="162.30" text-anchor="middle">100</text><text class="tk" x="445.99" y="162.30" text-anchor="middle">150</text><text class="tk" x="463.55" y="162.30" text-anchor="middle">200</text><text class="tk" x="481.11" y="162.30" text-anchor="middle">250</text><text class="tk" x="498.67" y="162.30" text-anchor="middle">300</text><text class="tk" x="516.23" y="162.30" text-anchor="middle">350</text><text class="yl" transform="translate(366.4,103.5) rotate(-90)" text-anchor="middle">ROTI occ.</text><text class="yl" transform="translate(374.4,103.5) rotate(-90)" text-anchor="middle" textLength="75.5" lengthAdjust="spacingAndGlyphs" style="font-size:6.2px">Geographic longitude (°)</text><rect x="526.2" y="55.0" width="6.6" height="97.0" fill="url(#parula)"/><text class="tk cb" x="533.9" y="144.50">0.02</text><text class="tk cb" x="533.9" y="122.77">0.04</text><text class="tk cb" x="533.9" y="101.05">0.06</text><text class="tk cb" x="533.9" y="79.32">0.08</text><text class="tk cb" x="533.9" y="57.60">0.1</text><text x="457.5" y="48.5" font-family="'Liberation Sans', Arial, sans-serif" font-size="7.3" font-weight="bold" fill="#111" stroke="#111" stroke-width="0.1" text-anchor="middle">Southern Hemisphere</text><text x="420.80" y="54.2" font-family="'Liberation Sans', Arial, sans-serif" font-size="4.55" font-weight="bold" fill="#2e2eb8" stroke="#2e2eb8" stroke-width="0.08">| Mar.Equ</text><text x="453.11" y="54.2" font-family="'Liberation Sans', Arial, sans-serif" font-size="4.55" font-weight="bold" fill="#2e2eb8" stroke="#2e2eb8" stroke-width="0.08">| Jun.Sol</text><text x="486.13" y="54.2" font-family="'Liberation Sans', Arial, sans-serif" font-size="4.55" font-weight="bold" fill="#2e2eb8" stroke="#2e2eb8" stroke-width="0.08">| Sep.Equ</text><text x="517.39" y="54.2" font-family="'Liberation Sans', Arial, sans-serif" font-size="4.55" font-weight="bold" fill="#2e2eb8" stroke="#2e2eb8" stroke-width="0.08">| Dec.Sol</text><rect x="393.3" y="184.5" width="129.49999999999994" height="97.0" fill="#3e26a8"/><rect x="396.80" y="184.50" width="4.00" height="3.73" fill="#4030b9"/><rect x="400.30" y="184.50" width="4.00" height="3.73" fill="#2395ed"/><rect x="403.80" y="184.50" width="4.00" height="3.73" fill="#18add6"/><rect x="435.30" y="184.50" width="4.00" height="3.73" fill="#15beb8"/><rect x="438.80" y="184.50" width="4.00" height="3.73" fill="#16babf"/><rect x="442.30" y="184.50" width="4.00" height="3.73" fill="#85c869"/><rect x="445.80" y="184.50" width="4.00" height="3.73" fill="#f9fb14"/><rect x="449.30" y="184.50" width="4.00" height="3.73" fill="#f9fb14"/><rect x="452.80" y="184.50" width="4.00" height="3.73" fill="#f9fb14"/><rect x="456.30" y="184.50" width="4.00" height="3.73" fill="#f9fb14"/><rect x="459.80" y="184.50" width="4.00" height="3.73" fill="#faf11a"/><rect x="463.30" y="184.50" width="4.00" height="3.73" fill="#15beb9"/><rect x="466.80" y="184.50" width="4.00" height="3.73" fill="#faf219"/><rect x="470.30" y="184.50" width="4.00" height="3.73" fill="#d3c246"/><rect x="477.30" y="184.50" width="4.00" height="3.73" fill="#423bcc"/><rect x="480.80" y="184.50" width="4.00" height="3.73" fill="#396cf7"/><rect x="484.30" y="184.50" width="4.00" height="3.73" fill="#4030ba"/><rect x="494.80" y="184.50" width="4.00" height="3.73" fill="#4237c6"/><rect x="498.30" y="184.50" width="4.00" height="3.73" fill="#423acb"/><rect x="501.80" y="184.50" width="4.00" height="3.73" fill="#402eb6"/><rect x="393.30" y="187.73" width="4.00" height="3.73" fill="#3770f8"/><rect x="396.80" y="187.73" width="4.00" height="3.73" fill="#3b68f7"/><rect x="400.30" y="187.73" width="4.00" height="3.73" fill="#3476f8"/><rect x="421.30" y="187.73" width="4.00" height="3.73" fill="#3b69f7"/><rect x="424.80" y="187.73" width="4.00" height="3.73" fill="#3b68f7"/><rect x="435.30" y="187.73" width="4.00" height="3.73" fill="#16bfb6"/><rect x="438.80" y="187.73" width="4.00" height="3.73" fill="#17b0d1"/><rect x="442.30" y="187.73" width="4.00" height="3.73" fill="#8fc763"/><rect x="445.80" y="187.73" width="4.00" height="3.73" fill="#f9fb14"/><rect x="449.30" y="187.73" width="4.00" height="3.73" fill="#faee1c"/><rect x="452.80" y="187.73" width="4.00" height="3.73" fill="#f9fb14"/><rect x="456.30" y="187.73" width="4.00" height="3.73" fill="#f9fb14"/><rect x="459.80" y="187.73" width="4.00" height="3.73" fill="#f9f915"/><rect x="463.30" y="187.73" width="4.00" height="3.73" fill="#3ac798"/><rect x="466.80" y="187.73" width="4.00" height="3.73" fill="#faef1b"/><rect x="470.30" y="187.73" width="4.00" height="3.73" fill="#d0c247"/><rect x="480.80" y="187.73" width="4.00" height="3.73" fill="#2d84f9"/><rect x="484.30" y="187.73" width="4.00" height="3.73" fill="#423acb"/><rect x="491.30" y="187.73" width="4.00" height="3.73" fill="#2d84f8"/><rect x="494.80" y="187.73" width="4.00" height="3.73" fill="#2099ea"/><rect x="508.80" y="187.73" width="4.00" height="3.73" fill="#3673f8"/><rect x="512.30" y="187.73" width="4.00" height="3.73" fill="#3574f8"/><rect x="515.80" y="187.73" width="4.00" height="3.73" fill="#1cc1b1"/><rect x="519.30" y="187.73" width="3.50" height="3.73" fill="#31c59f"/><rect x="393.30" y="190.97" width="4.00" height="3.73" fill="#3b69f7"/><rect x="400.30" y="190.97" width="4.00" height="3.73" fill="#2e82fa"/><rect x="403.80" y="190.97" width="4.00" height="3.73" fill="#4030ba"/><rect x="435.30" y="190.97" width="4.00" height="3.73" fill="#1f9be9"/><rect x="438.80" y="190.97" width="4.00" height="3.73" fill="#16b7c4"/><rect x="442.30" y="190.97" width="4.00" height="3.73" fill="#90c763"/><rect x="445.80" y="190.97" width="4.00" height="3.73" fill="#68cb77"/><rect x="449.30" y="190.97" width="4.00" height="3.73" fill="#22c2ac"/><rect x="452.80" y="190.97" width="4.00" height="3.73" fill="#faee1c"/><rect x="456.30" y="190.97" width="4.00" height="3.73" fill="#f9fb14"/><rect x="459.80" y="190.97" width="4.00" height="3.73" fill="#15bcbb"/><rect x="463.30" y="190.97" width="4.00" height="3.73" fill="#16bfb6"/><rect x="466.80" y="190.97" width="4.00" height="3.73" fill="#f9fb14"/><rect x="470.30" y="190.97" width="4.00" height="3.73" fill="#16b8c3"/><rect x="480.80" y="190.97" width="4.00" height="3.73" fill="#317bf9"/><rect x="487.80" y="190.97" width="4.00" height="3.73" fill="#3b68f7"/><rect x="491.30" y="190.97" width="4.00" height="3.73" fill="#2493ef"/><rect x="494.80" y="190.97" width="4.00" height="3.73" fill="#2c85f8"/><rect x="508.80" y="190.97" width="4.00" height="3.73" fill="#3476f9"/><rect x="512.30" y="190.97" width="4.00" height="3.73" fill="#386ef7"/><rect x="515.80" y="190.97" width="4.00" height="3.73" fill="#36c79b"/><rect x="519.30" y="190.97" width="3.50" height="3.73" fill="#3dc895"/><rect x="393.30" y="194.20" width="4.00" height="3.73" fill="#402eb7"/><rect x="400.30" y="194.20" width="4.00" height="3.73" fill="#396cf7"/><rect x="414.30" y="194.20" width="4.00" height="3.73" fill="#4238c7"/><rect x="421.30" y="194.20" width="4.00" height="3.73" fill="#3279f9"/><rect x="424.80" y="194.20" width="4.00" height="3.73" fill="#317cf9"/><rect x="431.80" y="194.20" width="4.00" height="3.73" fill="#2297ec"/><rect x="435.30" y="194.20" width="4.00" height="3.73" fill="#1f9be9"/><rect x="438.80" y="194.20" width="4.00" height="3.73" fill="#17b1cf"/><rect x="442.30" y="194.20" width="4.00" height="3.73" fill="#9cc65d"/><rect x="445.80" y="194.20" width="4.00" height="3.73" fill="#9bc65d"/><rect x="449.30" y="194.20" width="4.00" height="3.73" fill="#16bcbd"/><rect x="452.80" y="194.20" width="4.00" height="3.73" fill="#f9fb14"/><rect x="456.30" y="194.20" width="4.00" height="3.73" fill="#f9fb14"/><rect x="459.80" y="194.20" width="4.00" height="3.73" fill="#18c0b4"/><rect x="463.30" y="194.20" width="4.00" height="3.73" fill="#16bfb7"/><rect x="466.80" y="194.20" width="4.00" height="3.73" fill="#faf11a"/><rect x="470.30" y="194.20" width="4.00" height="3.73" fill="#16b9c1"/><rect x="480.80" y="194.20" width="4.00" height="3.73" fill="#327af9"/><rect x="505.30" y="194.20" width="4.00" height="3.73" fill="#402eb6"/><rect x="515.80" y="194.20" width="4.00" height="3.73" fill="#19c0b4"/><rect x="519.30" y="194.20" width="3.50" height="3.73" fill="#20c2ae"/><rect x="393.30" y="197.43" width="4.00" height="3.73" fill="#307efa"/><rect x="396.80" y="197.43" width="4.00" height="3.73" fill="#2d83f9"/><rect x="403.80" y="197.43" width="4.00" height="3.73" fill="#3b69f7"/><rect x="407.30" y="197.43" width="4.00" height="3.73" fill="#317cf9"/><rect x="428.30" y="197.43" width="4.00" height="3.73" fill="#4031bb"/><rect x="438.80" y="197.43" width="4.00" height="3.73" fill="#19a8de"/><rect x="442.30" y="197.43" width="4.00" height="3.73" fill="#18afd3"/><rect x="445.80" y="197.43" width="4.00" height="3.73" fill="#2492ef"/><rect x="449.30" y="197.43" width="4.00" height="3.73" fill="#5fcc7c"/><rect x="452.80" y="197.43" width="4.00" height="3.73" fill="#8ec764"/><rect x="456.30" y="197.43" width="4.00" height="3.73" fill="#16bcbd"/><rect x="459.80" y="197.43" width="4.00" height="3.73" fill="#3ac798"/><rect x="463.30" y="197.43" width="4.00" height="3.73" fill="#faed1d"/><rect x="466.80" y="197.43" width="4.00" height="3.73" fill="#f9fb14"/><rect x="470.30" y="197.43" width="4.00" height="3.73" fill="#1f9ce8"/><rect x="396.80" y="200.67" width="4.00" height="3.73" fill="#2d83f9"/><rect x="400.30" y="200.67" width="4.00" height="3.73" fill="#2d83f9"/><rect x="403.80" y="200.67" width="4.00" height="3.73" fill="#4134c2"/><rect x="417.80" y="200.67" width="4.00" height="3.73" fill="#317bf9"/><rect x="421.30" y="200.67" width="4.00" height="3.73" fill="#3379f9"/><rect x="424.80" y="200.67" width="4.00" height="3.73" fill="#2395ed"/><rect x="428.30" y="200.67" width="4.00" height="3.73" fill="#2a89f6"/><rect x="431.80" y="200.67" width="4.00" height="3.73" fill="#52cd83"/><rect x="435.30" y="200.67" width="4.00" height="3.73" fill="#85c869"/><rect x="438.80" y="200.67" width="4.00" height="3.73" fill="#1ba2e4"/><rect x="442.30" y="200.67" width="4.00" height="3.73" fill="#1d9fe7"/><rect x="445.80" y="200.67" width="4.00" height="3.73" fill="#18abd9"/><rect x="449.30" y="200.67" width="4.00" height="3.73" fill="#a2c55a"/><rect x="452.80" y="200.67" width="4.00" height="3.73" fill="#a9c456"/><rect x="456.30" y="200.67" width="4.00" height="3.73" fill="#15bdba"/><rect x="459.80" y="200.67" width="4.00" height="3.73" fill="#3ec894"/><rect x="463.30" y="200.67" width="4.00" height="3.73" fill="#fbe720"/><rect x="466.80" y="200.67" width="4.00" height="3.73" fill="#fbe423"/><rect x="470.30" y="200.67" width="4.00" height="3.73" fill="#1d9ee7"/><rect x="480.80" y="200.67" width="4.00" height="3.73" fill="#3477f9"/><rect x="484.30" y="200.67" width="4.00" height="3.73" fill="#cbc249"/><rect x="515.80" y="200.67" width="4.00" height="3.73" fill="#dcc243"/><rect x="519.30" y="200.67" width="3.50" height="3.73" fill="#ddc243"/><rect x="396.80" y="203.90" width="4.00" height="3.73" fill="#402eb6"/><rect x="421.30" y="203.90" width="4.00" height="3.73" fill="#4132bd"/><rect x="431.80" y="203.90" width="4.00" height="3.73" fill="#2e82fa"/><rect x="435.30" y="203.90" width="4.00" height="3.73" fill="#2f7ffa"/><rect x="438.80" y="203.90" width="4.00" height="3.73" fill="#2d83f9"/><rect x="442.30" y="203.90" width="4.00" height="3.73" fill="#2d84f9"/><rect x="445.80" y="203.90" width="4.00" height="3.73" fill="#1ba3e4"/><rect x="449.30" y="203.90" width="4.00" height="3.73" fill="#1f9be9"/><rect x="452.80" y="203.90" width="4.00" height="3.73" fill="#2f80fa"/><rect x="456.30" y="203.90" width="4.00" height="3.73" fill="#2e82fa"/><rect x="459.80" y="203.90" width="4.00" height="3.73" fill="#2296ed"/><rect x="463.30" y="203.90" width="4.00" height="3.73" fill="#d9c244"/><rect x="466.80" y="203.90" width="4.00" height="3.73" fill="#cac249"/><rect x="470.30" y="203.90" width="4.00" height="3.73" fill="#298af5"/><rect x="473.80" y="203.90" width="4.00" height="3.73" fill="#402fb8"/><rect x="480.80" y="203.90" width="4.00" height="3.73" fill="#3379f9"/><rect x="484.30" y="203.90" width="4.00" height="3.73" fill="#2690f0"/><rect x="515.80" y="203.90" width="4.00" height="3.73" fill="#209aea"/><rect x="519.30" y="203.90" width="3.50" height="3.73" fill="#19a8de"/><rect x="396.80" y="207.13" width="4.00" height="3.73" fill="#415cf5"/><rect x="407.30" y="207.13" width="4.00" height="3.73" fill="#402eb6"/><rect x="421.30" y="207.13" width="4.00" height="3.73" fill="#425af5"/><rect x="424.80" y="207.13" width="4.00" height="3.73" fill="#402fb7"/><rect x="431.80" y="207.13" width="4.00" height="3.73" fill="#3672f8"/><rect x="438.80" y="207.13" width="4.00" height="3.73" fill="#3d65f7"/><rect x="442.30" y="207.13" width="4.00" height="3.73" fill="#2198ec"/><rect x="445.80" y="207.13" width="4.00" height="3.73" fill="#2395ed"/><rect x="452.80" y="207.13" width="4.00" height="3.73" fill="#402fb8"/><rect x="459.80" y="207.13" width="4.00" height="3.73" fill="#386ff8"/><rect x="463.30" y="207.13" width="4.00" height="3.73" fill="#307efa"/><rect x="470.30" y="207.13" width="4.00" height="3.73" fill="#3e63f6"/><rect x="480.80" y="207.13" width="4.00" height="3.73" fill="#2198ec"/><rect x="484.30" y="207.13" width="4.00" height="3.73" fill="#327bf9"/><rect x="487.80" y="207.13" width="4.00" height="3.73" fill="#4031bc"/><rect x="515.80" y="207.13" width="4.00" height="3.73" fill="#18abd9"/><rect x="519.30" y="207.13" width="3.50" height="3.73" fill="#2494ee"/><rect x="400.30" y="210.37" width="4.00" height="3.73" fill="#3672f8"/><rect x="431.80" y="210.37" width="4.00" height="3.73" fill="#317df9"/><rect x="435.30" y="210.37" width="4.00" height="3.73" fill="#396df7"/><rect x="442.30" y="210.37" width="4.00" height="3.73" fill="#3476f8"/><rect x="449.30" y="210.37" width="4.00" height="3.73" fill="#396cf7"/><rect x="456.30" y="210.37" width="4.00" height="3.73" fill="#3771f8"/><rect x="459.80" y="210.37" width="4.00" height="3.73" fill="#386ef8"/><rect x="463.30" y="210.37" width="4.00" height="3.73" fill="#3378f9"/><rect x="473.80" y="210.37" width="4.00" height="3.73" fill="#4032bd"/><rect x="519.30" y="210.37" width="3.50" height="3.73" fill="#3476f9"/><rect x="396.80" y="213.60" width="4.00" height="3.73" fill="#4132be"/><rect x="400.30" y="213.60" width="4.00" height="3.73" fill="#3476f9"/><rect x="435.30" y="213.60" width="4.00" height="3.73" fill="#3378f9"/><rect x="442.30" y="213.60" width="4.00" height="3.73" fill="#402fb8"/><rect x="449.30" y="213.60" width="4.00" height="3.73" fill="#3e63f6"/><rect x="456.30" y="213.60" width="4.00" height="3.73" fill="#4134c2"/><rect x="459.80" y="213.60" width="4.00" height="3.73" fill="#2d84f8"/><rect x="487.80" y="213.60" width="4.00" height="3.73" fill="#464ceb"/><rect x="417.80" y="216.83" width="4.00" height="3.73" fill="#4554f4"/><rect x="435.30" y="216.83" width="4.00" height="3.73" fill="#327af9"/><rect x="438.80" y="216.83" width="4.00" height="3.73" fill="#3475f8"/><rect x="449.30" y="216.83" width="4.00" height="3.73" fill="#307efa"/><rect x="459.80" y="216.83" width="4.00" height="3.73" fill="#4132bd"/><rect x="470.30" y="216.83" width="4.00" height="3.73" fill="#3477f9"/><rect x="519.30" y="216.83" width="3.50" height="3.73" fill="#3476f8"/><rect x="400.30" y="220.07" width="4.00" height="3.73" fill="#4031bc"/><rect x="403.80" y="220.07" width="4.00" height="3.73" fill="#4554f4"/><rect x="417.80" y="220.07" width="4.00" height="3.73" fill="#4030ba"/><rect x="421.30" y="220.07" width="4.00" height="3.73" fill="#425af5"/><rect x="438.80" y="220.07" width="4.00" height="3.73" fill="#4060f6"/><rect x="463.30" y="220.07" width="4.00" height="3.73" fill="#4060f6"/><rect x="477.30" y="220.07" width="4.00" height="3.73" fill="#4135c3"/><rect x="480.80" y="220.07" width="4.00" height="3.73" fill="#3a6af7"/><rect x="484.30" y="220.07" width="4.00" height="3.73" fill="#307ffa"/><rect x="519.30" y="220.07" width="3.50" height="3.73" fill="#3770f8"/><rect x="396.80" y="223.30" width="4.00" height="3.73" fill="#3771f8"/><rect x="417.80" y="223.30" width="4.00" height="3.73" fill="#402fb9"/><rect x="442.30" y="223.30" width="4.00" height="3.73" fill="#4239ca"/><rect x="449.30" y="223.30" width="4.00" height="3.73" fill="#4060f6"/><rect x="459.80" y="223.30" width="4.00" height="3.73" fill="#402fb7"/><rect x="473.80" y="223.30" width="4.00" height="3.73" fill="#4060f6"/><rect x="505.30" y="223.30" width="4.00" height="3.73" fill="#423bce"/><rect x="519.30" y="223.30" width="3.50" height="3.73" fill="#3a6bf7"/><rect x="407.30" y="226.53" width="4.00" height="3.73" fill="#4554f4"/><rect x="421.30" y="226.53" width="4.00" height="3.73" fill="#4133bf"/><rect x="438.80" y="226.53" width="4.00" height="3.73" fill="#4237c6"/><rect x="442.30" y="226.53" width="4.00" height="3.73" fill="#4136c3"/><rect x="445.80" y="226.53" width="4.00" height="3.73" fill="#4030b9"/><rect x="459.80" y="226.53" width="4.00" height="3.73" fill="#4032bc"/><rect x="463.30" y="226.53" width="4.00" height="3.73" fill="#4132bd"/><rect x="473.80" y="226.53" width="4.00" height="3.73" fill="#4238c7"/><rect x="515.80" y="226.53" width="4.00" height="3.73" fill="#3d64f6"/><rect x="519.30" y="226.53" width="3.50" height="3.73" fill="#386ef8"/><rect x="396.80" y="229.77" width="4.00" height="3.73" fill="#3b68f7"/><rect x="407.30" y="229.77" width="4.00" height="3.73" fill="#4133be"/><rect x="466.80" y="229.77" width="4.00" height="3.73" fill="#402eb6"/><rect x="477.30" y="229.77" width="4.00" height="3.73" fill="#423acb"/><rect x="494.80" y="229.77" width="4.00" height="3.73" fill="#423bcd"/><rect x="498.30" y="229.77" width="4.00" height="3.73" fill="#4136c4"/><rect x="519.30" y="229.77" width="3.50" height="3.73" fill="#3e62f6"/><rect x="393.30" y="233.00" width="4.00" height="3.73" fill="#4135c3"/><rect x="407.30" y="233.00" width="4.00" height="3.73" fill="#4237c6"/><rect x="477.30" y="233.00" width="4.00" height="3.73" fill="#4239c9"/><rect x="487.80" y="233.00" width="4.00" height="3.73" fill="#433ccf"/><rect x="393.30" y="236.23" width="4.00" height="3.73" fill="#2e81fa"/><rect x="396.80" y="236.23" width="4.00" height="3.73" fill="#2493ef"/><rect x="424.80" y="236.23" width="4.00" height="3.73" fill="#4237c6"/><rect x="487.80" y="236.23" width="4.00" height="3.73" fill="#433dd0"/><rect x="519.30" y="236.23" width="3.50" height="3.73" fill="#402fb8"/><rect x="393.30" y="239.47" width="4.00" height="3.73" fill="#16bac0"/><rect x="487.80" y="239.47" width="4.00" height="3.73" fill="#4136c5"/><rect x="491.30" y="239.47" width="4.00" height="3.73" fill="#425af5"/><rect x="505.30" y="239.47" width="4.00" height="3.73" fill="#4032bd"/><rect x="512.30" y="239.47" width="4.00" height="3.73" fill="#402eb6"/><rect x="393.30" y="242.70" width="4.00" height="3.73" fill="#16b9c2"/><rect x="396.80" y="242.70" width="4.00" height="3.73" fill="#2c85f8"/><rect x="435.30" y="242.70" width="4.00" height="3.73" fill="#4237c6"/><rect x="470.30" y="242.70" width="4.00" height="3.73" fill="#415cf5"/><rect x="491.30" y="242.70" width="4.00" height="3.73" fill="#4238c7"/><rect x="494.80" y="242.70" width="4.00" height="3.73" fill="#4135c2"/><rect x="508.80" y="242.70" width="4.00" height="3.73" fill="#2e82fa"/><rect x="512.30" y="242.70" width="4.00" height="3.73" fill="#2b88f6"/><rect x="515.80" y="242.70" width="4.00" height="3.73" fill="#2f7ffa"/><rect x="393.30" y="245.93" width="4.00" height="3.73" fill="#15bfb8"/><rect x="396.80" y="245.93" width="4.00" height="3.73" fill="#17b5c8"/><rect x="407.30" y="245.93" width="4.00" height="3.73" fill="#3a6bf7"/><rect x="410.80" y="245.93" width="4.00" height="3.73" fill="#2e83fa"/><rect x="421.30" y="245.93" width="4.00" height="3.73" fill="#3b69f7"/><rect x="435.30" y="245.93" width="4.00" height="3.73" fill="#3476f8"/><rect x="445.80" y="245.93" width="4.00" height="3.73" fill="#433cce"/><rect x="452.80" y="245.93" width="4.00" height="3.73" fill="#423bcd"/><rect x="470.30" y="245.93" width="4.00" height="3.73" fill="#3574f8"/><rect x="480.80" y="245.93" width="4.00" height="3.73" fill="#3279f9"/><rect x="484.30" y="245.93" width="4.00" height="3.73" fill="#386ef8"/><rect x="494.80" y="245.93" width="4.00" height="3.73" fill="#425af5"/><rect x="505.30" y="245.93" width="4.00" height="3.73" fill="#405ff6"/><rect x="508.80" y="245.93" width="4.00" height="3.73" fill="#2a89f5"/><rect x="512.30" y="245.93" width="4.00" height="3.73" fill="#3575f8"/><rect x="515.80" y="245.93" width="4.00" height="3.73" fill="#3574f8"/><rect x="393.30" y="249.17" width="4.00" height="3.73" fill="#21c2ad"/><rect x="396.80" y="249.17" width="4.00" height="3.73" fill="#15bdba"/><rect x="400.30" y="249.17" width="4.00" height="3.73" fill="#4030b9"/><rect x="407.30" y="249.17" width="4.00" height="3.73" fill="#4134c0"/><rect x="421.30" y="249.17" width="4.00" height="3.73" fill="#4060f6"/><rect x="435.30" y="249.17" width="4.00" height="3.73" fill="#307ef9"/><rect x="449.30" y="249.17" width="4.00" height="3.73" fill="#4135c2"/><rect x="466.80" y="249.17" width="4.00" height="3.73" fill="#433dd0"/><rect x="470.30" y="249.17" width="4.00" height="3.73" fill="#3d65f6"/><rect x="473.80" y="249.17" width="4.00" height="3.73" fill="#433ccf"/><rect x="480.80" y="249.17" width="4.00" height="3.73" fill="#396cf7"/><rect x="484.30" y="249.17" width="4.00" height="3.73" fill="#3672f8"/><rect x="505.30" y="249.17" width="4.00" height="3.73" fill="#425bf5"/><rect x="508.80" y="249.17" width="4.00" height="3.73" fill="#317cf9"/><rect x="512.30" y="249.17" width="4.00" height="3.73" fill="#17b5c9"/><rect x="515.80" y="249.17" width="4.00" height="3.73" fill="#3672f8"/><rect x="393.30" y="252.40" width="4.00" height="3.73" fill="#1d9ee7"/><rect x="396.80" y="252.40" width="4.00" height="3.73" fill="#307efa"/><rect x="400.30" y="252.40" width="4.00" height="3.73" fill="#423acc"/><rect x="417.80" y="252.40" width="4.00" height="3.73" fill="#402eb6"/><rect x="421.30" y="252.40" width="4.00" height="3.73" fill="#3c66f7"/><rect x="431.80" y="252.40" width="4.00" height="3.73" fill="#2c85f8"/><rect x="435.30" y="252.40" width="4.00" height="3.73" fill="#307ffa"/><rect x="438.80" y="252.40" width="4.00" height="3.73" fill="#3379f9"/><rect x="442.30" y="252.40" width="4.00" height="3.73" fill="#423bce"/><rect x="463.30" y="252.40" width="4.00" height="3.73" fill="#3770f8"/><rect x="470.30" y="252.40" width="4.00" height="3.73" fill="#3a6af7"/><rect x="480.80" y="252.40" width="4.00" height="3.73" fill="#2592f0"/><rect x="484.30" y="252.40" width="4.00" height="3.73" fill="#3476f9"/><rect x="505.30" y="252.40" width="4.00" height="3.73" fill="#3c66f7"/><rect x="508.80" y="252.40" width="4.00" height="3.73" fill="#298af5"/><rect x="512.30" y="252.40" width="4.00" height="3.73" fill="#20c2ad"/><rect x="515.80" y="252.40" width="4.00" height="3.73" fill="#2690f1"/><rect x="393.30" y="255.63" width="4.00" height="3.73" fill="#1ec1af"/><rect x="396.80" y="255.63" width="4.00" height="3.73" fill="#15beb8"/><rect x="400.30" y="255.63" width="4.00" height="3.73" fill="#423bcc"/><rect x="407.30" y="255.63" width="4.00" height="3.73" fill="#3b68f7"/><rect x="421.30" y="255.63" width="4.00" height="3.73" fill="#3673f8"/><rect x="431.80" y="255.63" width="4.00" height="3.73" fill="#18afd3"/><rect x="435.30" y="255.63" width="4.00" height="3.73" fill="#2f81fa"/><rect x="438.80" y="255.63" width="4.00" height="3.73" fill="#2f80fa"/><rect x="442.30" y="255.63" width="4.00" height="3.73" fill="#2d83f9"/><rect x="445.80" y="255.63" width="4.00" height="3.73" fill="#3379f9"/><rect x="449.30" y="255.63" width="4.00" height="3.73" fill="#2f80fa"/><rect x="463.30" y="255.63" width="4.00" height="3.73" fill="#386ef7"/><rect x="466.80" y="255.63" width="4.00" height="3.73" fill="#4031bb"/><rect x="470.30" y="255.63" width="4.00" height="3.73" fill="#3573f8"/><rect x="480.80" y="255.63" width="4.00" height="3.73" fill="#317df9"/><rect x="484.30" y="255.63" width="4.00" height="3.73" fill="#3575f8"/><rect x="508.80" y="255.63" width="4.00" height="3.73" fill="#2f7ffa"/><rect x="512.30" y="255.63" width="4.00" height="3.73" fill="#15bdbb"/><rect x="515.80" y="255.63" width="4.00" height="3.73" fill="#2c85f8"/><rect x="393.30" y="258.87" width="4.00" height="3.73" fill="#24c2aa"/><rect x="396.80" y="258.87" width="4.00" height="3.73" fill="#16b9c1"/><rect x="421.30" y="258.87" width="4.00" height="3.73" fill="#3673f8"/><rect x="424.80" y="258.87" width="4.00" height="3.73" fill="#4031bb"/><rect x="431.80" y="258.87" width="4.00" height="3.73" fill="#35c69c"/><rect x="438.80" y="258.87" width="4.00" height="3.73" fill="#2c85f8"/><rect x="442.30" y="258.87" width="4.00" height="3.73" fill="#288df3"/><rect x="445.80" y="258.87" width="4.00" height="3.73" fill="#268ff1"/><rect x="449.30" y="258.87" width="4.00" height="3.73" fill="#17b1d0"/><rect x="452.80" y="258.87" width="4.00" height="3.73" fill="#17b3cb"/><rect x="456.30" y="258.87" width="4.00" height="3.73" fill="#307ffa"/><rect x="459.80" y="258.87" width="4.00" height="3.73" fill="#298af5"/><rect x="463.30" y="258.87" width="4.00" height="3.73" fill="#2d83f9"/><rect x="466.80" y="258.87" width="4.00" height="3.73" fill="#2494ee"/><rect x="480.80" y="258.87" width="4.00" height="3.73" fill="#386ff8"/><rect x="484.30" y="258.87" width="4.00" height="3.73" fill="#3672f8"/><rect x="491.30" y="258.87" width="4.00" height="3.73" fill="#4060f6"/><rect x="512.30" y="258.87" width="4.00" height="3.73" fill="#16b8c2"/><rect x="515.80" y="258.87" width="4.00" height="3.73" fill="#2d84f9"/><rect x="393.30" y="262.10" width="4.00" height="3.73" fill="#16b7c5"/><rect x="407.30" y="262.10" width="4.00" height="3.73" fill="#4237c7"/><rect x="410.80" y="262.10" width="4.00" height="3.73" fill="#4136c5"/><rect x="428.30" y="262.10" width="4.00" height="3.73" fill="#433cce"/><rect x="431.80" y="262.10" width="4.00" height="3.73" fill="#2cc4a3"/><rect x="438.80" y="262.10" width="4.00" height="3.73" fill="#1aa4e3"/><rect x="442.30" y="262.10" width="4.00" height="3.73" fill="#19a8de"/><rect x="445.80" y="262.10" width="4.00" height="3.73" fill="#2d84f9"/><rect x="449.30" y="262.10" width="4.00" height="3.73" fill="#17b1ce"/><rect x="452.80" y="262.10" width="4.00" height="3.73" fill="#17b0d1"/><rect x="456.30" y="262.10" width="4.00" height="3.73" fill="#2f7ffa"/><rect x="459.80" y="262.10" width="4.00" height="3.73" fill="#317cf9"/><rect x="463.30" y="262.10" width="4.00" height="3.73" fill="#2394ee"/><rect x="466.80" y="262.10" width="4.00" height="3.73" fill="#2c86f7"/><rect x="480.80" y="262.10" width="4.00" height="3.73" fill="#2f80fa"/><rect x="484.30" y="262.10" width="4.00" height="3.73" fill="#386ff8"/><rect x="508.80" y="262.10" width="4.00" height="3.73" fill="#3378f9"/><rect x="512.30" y="262.10" width="4.00" height="3.73" fill="#3671f8"/><rect x="515.80" y="262.10" width="4.00" height="3.73" fill="#288bf4"/><rect x="393.30" y="265.33" width="4.00" height="3.73" fill="#18afd3"/><rect x="396.80" y="265.33" width="4.00" height="3.73" fill="#2a89f6"/><rect x="414.30" y="265.33" width="4.00" height="3.73" fill="#4237c6"/><rect x="424.80" y="265.33" width="4.00" height="3.73" fill="#298bf4"/><rect x="431.80" y="265.33" width="4.00" height="3.73" fill="#317bf9"/><rect x="438.80" y="265.33" width="4.00" height="3.73" fill="#2d83f9"/><rect x="442.30" y="265.33" width="4.00" height="3.73" fill="#2e81fa"/><rect x="445.80" y="265.33" width="4.00" height="3.73" fill="#1aa5e3"/><rect x="449.30" y="265.33" width="4.00" height="3.73" fill="#2b88f6"/><rect x="452.80" y="265.33" width="4.00" height="3.73" fill="#19a7e0"/><rect x="456.30" y="265.33" width="4.00" height="3.73" fill="#307df9"/><rect x="459.80" y="265.33" width="4.00" height="3.73" fill="#2691f0"/><rect x="463.30" y="265.33" width="4.00" height="3.73" fill="#2f7ffa"/><rect x="466.80" y="265.33" width="4.00" height="3.73" fill="#278ef2"/><rect x="480.80" y="265.33" width="4.00" height="3.73" fill="#3672f8"/><rect x="484.30" y="265.33" width="4.00" height="3.73" fill="#317cf9"/><rect x="508.80" y="265.33" width="4.00" height="3.73" fill="#3672f8"/><rect x="512.30" y="265.33" width="4.00" height="3.73" fill="#2e82fa"/><rect x="515.80" y="265.33" width="4.00" height="3.73" fill="#307ef9"/><rect x="519.30" y="265.33" width="3.50" height="3.73" fill="#cbc249"/><rect x="393.30" y="268.57" width="4.00" height="3.73" fill="#17b5c9"/><rect x="396.80" y="268.57" width="4.00" height="3.73" fill="#2395ed"/><rect x="407.30" y="268.57" width="4.00" height="3.73" fill="#3b68f7"/><rect x="424.80" y="268.57" width="4.00" height="3.73" fill="#317bf9"/><rect x="431.80" y="268.57" width="4.00" height="3.73" fill="#3770f8"/><rect x="438.80" y="268.57" width="4.00" height="3.73" fill="#19c0b4"/><rect x="442.30" y="268.57" width="4.00" height="3.73" fill="#16b9c1"/><rect x="445.80" y="268.57" width="4.00" height="3.73" fill="#15beb9"/><rect x="449.30" y="268.57" width="4.00" height="3.73" fill="#40c992"/><rect x="452.80" y="268.57" width="4.00" height="3.73" fill="#1ec1b0"/><rect x="456.30" y="268.57" width="4.00" height="3.73" fill="#cbc249"/><rect x="459.80" y="268.57" width="4.00" height="3.73" fill="#1ba3e4"/><rect x="463.30" y="268.57" width="4.00" height="3.73" fill="#17b5c8"/><rect x="466.80" y="268.57" width="4.00" height="3.73" fill="#1f9ce9"/><rect x="470.30" y="268.57" width="4.00" height="3.73" fill="#3379f9"/><rect x="480.80" y="268.57" width="4.00" height="3.73" fill="#3770f8"/><rect x="484.30" y="268.57" width="4.00" height="3.73" fill="#2d83f9"/><rect x="508.80" y="268.57" width="4.00" height="3.73" fill="#317df9"/><rect x="512.30" y="268.57" width="4.00" height="3.73" fill="#288df3"/><rect x="515.80" y="268.57" width="4.00" height="3.73" fill="#29c4a6"/><rect x="519.30" y="268.57" width="3.50" height="3.73" fill="#3771f8"/><rect x="393.30" y="271.80" width="4.00" height="3.73" fill="#17afd2"/><rect x="396.80" y="271.80" width="4.00" height="3.73" fill="#2297ec"/><rect x="400.30" y="271.80" width="4.00" height="3.73" fill="#4135c2"/><rect x="403.80" y="271.80" width="4.00" height="3.73" fill="#423bcd"/><rect x="424.80" y="271.80" width="4.00" height="3.73" fill="#3378f9"/><rect x="431.80" y="271.80" width="4.00" height="3.73" fill="#2d83f9"/><rect x="438.80" y="271.80" width="4.00" height="3.73" fill="#18c0b4"/><rect x="442.30" y="271.80" width="4.00" height="3.73" fill="#3bc897"/><rect x="445.80" y="271.80" width="4.00" height="3.73" fill="#2ac4a5"/><rect x="449.30" y="271.80" width="4.00" height="3.73" fill="#4ccc88"/><rect x="452.80" y="271.80" width="4.00" height="3.73" fill="#32c69e"/><rect x="456.30" y="271.80" width="4.00" height="3.73" fill="#2ac4a5"/><rect x="459.80" y="271.80" width="4.00" height="3.73" fill="#16b8c2"/><rect x="463.30" y="271.80" width="4.00" height="3.73" fill="#17b4ca"/><rect x="466.80" y="271.80" width="4.00" height="3.73" fill="#16b6c6"/><rect x="470.30" y="271.80" width="4.00" height="3.73" fill="#3673f8"/><rect x="491.30" y="271.80" width="4.00" height="3.73" fill="#4060f6"/><rect x="512.30" y="271.80" width="4.00" height="3.73" fill="#3575f8"/><rect x="515.80" y="271.80" width="4.00" height="3.73" fill="#317cf9"/><rect x="519.30" y="271.80" width="3.50" height="3.73" fill="#3a6af7"/><rect x="393.30" y="275.03" width="4.00" height="3.73" fill="#15bdbb"/><rect x="396.80" y="275.03" width="4.00" height="3.73" fill="#2396ed"/><rect x="431.80" y="275.03" width="4.00" height="3.73" fill="#317cf9"/><rect x="438.80" y="275.03" width="4.00" height="3.73" fill="#1fc1ae"/><rect x="442.30" y="275.03" width="4.00" height="3.73" fill="#f9fb14"/><rect x="445.80" y="275.03" width="4.00" height="3.73" fill="#f9f915"/><rect x="449.30" y="275.03" width="4.00" height="3.73" fill="#f9fb14"/><rect x="452.80" y="275.03" width="4.00" height="3.73" fill="#fbe323"/><rect x="456.30" y="275.03" width="4.00" height="3.73" fill="#faef1c"/><rect x="459.80" y="275.03" width="4.00" height="3.73" fill="#16b8c2"/><rect x="463.30" y="275.03" width="4.00" height="3.73" fill="#16babf"/><rect x="466.80" y="275.03" width="4.00" height="3.73" fill="#17b5c8"/><rect x="470.30" y="275.03" width="4.00" height="3.73" fill="#4239ca"/><rect x="473.80" y="275.03" width="4.00" height="3.73" fill="#423acb"/><rect x="480.80" y="275.03" width="4.00" height="3.73" fill="#4135c2"/><rect x="508.80" y="275.03" width="4.00" height="3.73" fill="#317cf9"/><rect x="512.30" y="275.03" width="4.00" height="3.73" fill="#278ef2"/><rect x="515.80" y="275.03" width="4.00" height="3.73" fill="#2d84f9"/><rect x="519.30" y="275.03" width="3.50" height="3.73" fill="#2d84f9"/><rect x="396.80" y="278.27" width="4.00" height="3.23" fill="#2e81fa"/><rect x="400.30" y="278.27" width="4.00" height="3.23" fill="#396df7"/><rect x="403.80" y="278.27" width="4.00" height="3.23" fill="#386ff8"/><rect x="431.80" y="278.27" width="4.00" height="3.23" fill="#2e82fa"/><rect x="438.80" y="278.27" width="4.00" height="3.23" fill="#28c3a7"/><rect x="442.30" y="278.27" width="4.00" height="3.23" fill="#fbe91f"/><rect x="445.80" y="278.27" width="4.00" height="3.23" fill="#f9fb14"/><rect x="449.30" y="278.27" width="4.00" height="3.23" fill="#f9fb14"/><rect x="452.80" y="278.27" width="4.00" height="3.23" fill="#faec1d"/><rect x="456.30" y="278.27" width="4.00" height="3.23" fill="#f9fb14"/><rect x="459.80" y="278.27" width="4.00" height="3.23" fill="#16bbbf"/><rect x="463.30" y="278.27" width="4.00" height="3.23" fill="#1fc1ae"/><rect x="466.80" y="278.27" width="4.00" height="3.23" fill="#16bac0"/><rect x="501.80" y="278.27" width="4.00" height="3.23" fill="#4135c2"/><rect x="508.80" y="278.27" width="4.00" height="3.23" fill="#2a88f6"/><rect x="512.30" y="278.27" width="4.00" height="3.23" fill="#288cf4"/><rect x="515.80" y="278.27" width="4.00" height="3.23" fill="#3475f8"/><rect x="519.30" y="278.27" width="3.50" height="3.23" fill="#396df7"/><text class="tk" x="389.9" y="187.00" text-anchor="end">180</text><text class="tk" x="389.9" y="197.78" text-anchor="end">140</text><text class="tk" x="389.9" y="208.56" text-anchor="end">100</text><text class="tk" x="389.9" y="219.33" text-anchor="end">60</text><text class="tk" x="389.9" y="230.11" text-anchor="end">20</text><text class="tk" x="389.9" y="240.89" text-anchor="end">-20</text><text class="tk" x="389.9" y="251.67" text-anchor="end">-60</text><text class="tk" x="389.9" y="262.44" text-anchor="end">-100</text><text class="tk" x="389.9" y="273.22" text-anchor="end">-140</text><text class="tk" x="389.9" y="284.00" text-anchor="end">-180</text><text class="tk" x="393.30" y="291.80" text-anchor="middle">0</text><text class="tk" x="410.86" y="291.80" text-anchor="middle">50</text><text class="tk" x="428.42" y="291.80" text-anchor="middle">100</text><text class="tk" x="445.99" y="291.80" text-anchor="middle">150</text><text class="tk" x="463.55" y="291.80" text-anchor="middle">200</text><text class="tk" x="481.11" y="291.80" text-anchor="middle">250</text><text class="tk" x="498.67" y="291.80" text-anchor="middle">300</text><text class="tk" x="516.23" y="291.80" text-anchor="middle">350</text><text class="yl" transform="translate(366.4,233.0) rotate(-90)" text-anchor="middle">RODI occ.</text><text class="yl" transform="translate(374.4,233.0) rotate(-90)" text-anchor="middle" textLength="75.5" lengthAdjust="spacingAndGlyphs" style="font-size:6.2px">Geographic longitude (°)</text><rect x="526.2" y="184.5" width="6.6" height="97.0" fill="url(#parula)"/><text class="tk cb" x="533.9" y="284.10">0</text><text class="tk cb" x="533.9" y="251.77">0.1</text><text class="tk cb" x="533.9" y="219.43">0.2</text><text class="tk cb" x="533.9" y="187.10">0.3</text><line x1="421.40" y1="181.9" x2="421.40" y2="184.5" stroke="#3c3c50" stroke-width="0.5"/><line x1="453.71" y1="181.9" x2="453.71" y2="184.5" stroke="#3c3c50" stroke-width="0.5"/><line x1="486.73" y1="181.9" x2="486.73" y2="184.5" stroke="#3c3c50" stroke-width="0.5"/><line x1="517.99" y1="181.9" x2="517.99" y2="184.5" stroke="#3c3c50" stroke-width="0.5"/><text x="458.5" y="300" font-family="'Liberation Sans', Arial, sans-serif" font-size="7" font-weight="bold" fill="#111" text-anchor="middle">Doy</text></svg></div></body></html>
